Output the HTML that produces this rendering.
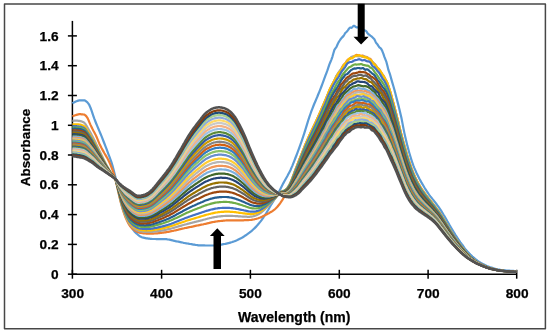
<!DOCTYPE html>
<html><head><meta charset="utf-8"><style>
html,body{margin:0;padding:0;background:#fff;}
svg{display:block;}
text{font-family:"Liberation Sans",Arial,sans-serif;font-weight:bold;fill:#000;stroke:#000;stroke-width:0.25px;}
</style></head><body>
<svg width="550" height="334" viewBox="0 0 550 334">
<rect x="0" y="0" width="550" height="334" fill="#fff"/>
<rect x="4.5" y="4.0" width="540.9" height="324.8" fill="none" stroke="#474747" stroke-width="1.5" stroke-linejoin="round"/>
<g stroke="#000" stroke-width="1.5">
<line x1="72.4" y1="20.9" x2="72.4" y2="274.2" />
<line x1="72.4" y1="274.2" x2="516.7" y2="274.2" />
<line x1="67.9" y1="274.2" x2="76.9" y2="274.2" />
<line x1="67.9" y1="244.4" x2="76.9" y2="244.4" />
<line x1="67.9" y1="214.6" x2="76.9" y2="214.6" />
<line x1="67.9" y1="184.8" x2="76.9" y2="184.8" />
<line x1="67.9" y1="155.0" x2="76.9" y2="155.0" />
<line x1="67.9" y1="125.3" x2="76.9" y2="125.3" />
<line x1="67.9" y1="95.5" x2="76.9" y2="95.5" />
<line x1="67.9" y1="65.7" x2="76.9" y2="65.7" />
<line x1="67.9" y1="35.9" x2="76.9" y2="35.9" />
<line x1="72.4" y1="269.8" x2="72.4" y2="278.7" />
<line x1="161.6" y1="269.8" x2="161.6" y2="278.7" />
<line x1="250.4" y1="269.8" x2="250.4" y2="278.7" />
<line x1="339.3" y1="269.8" x2="339.3" y2="278.7" />
<line x1="428.1" y1="269.8" x2="428.1" y2="278.7" />
<line x1="516.7" y1="269.8" x2="516.7" y2="278.7" />
</g>
<g fill="none" stroke-linejoin="round" stroke-linecap="butt">
<path d="M72.4,103.3 L73.4,102.7 L74.4,102.2 L75.4,101.7 L76.4,101.3 L77.4,100.9 L78.4,100.6 L79.4,100.3 L80.4,100.3 L81.4,100.3 L82.4,100.3 L83.4,100.3 L84.4,100.3 L85.4,100.8 L86.4,101.5 L87.4,102.4 L88.4,103.6 L89.4,105.2 L90.4,107.5 L91.4,110.1 L92.4,113.2 L93.4,116.1 L94.4,118.9 L95.4,121.5 L96.4,124.0 L97.4,126.4 L98.4,128.7 L99.4,131.1 L100.4,133.5 L101.4,135.9 L102.4,138.4 L103.4,141.0 L104.4,143.5 L105.4,146.1 L106.4,148.7 L107.4,151.4 L108.4,154.1 L109.4,156.7 L110.4,159.3 L111.4,162.1 L112.4,165.3 L113.4,169.0 L114.4,173.0 L115.4,176.9 L116.4,180.7 L117.4,184.4 L118.4,188.2 L119.4,191.8 L120.4,195.4 L121.4,199.0 L122.4,202.4 L123.4,205.8 L124.4,209.1 L125.4,212.3 L126.4,215.4 L127.4,218.4 L128.4,221.1 L129.4,223.3 L130.4,225.3 L131.4,227.1 L132.4,228.7 L133.4,230.1 L134.4,231.4 L135.4,232.4 L136.4,233.4 L137.4,234.3 L138.4,235.2 L139.4,236.0 L140.4,236.6 L141.4,237.1 L142.4,237.5 L143.4,237.7 L144.4,237.9 L145.4,238.1 L146.4,238.3 L147.4,238.4 L148.4,238.6 L149.4,238.7 L150.4,238.8 L151.4,238.9 L152.4,239.0 L153.4,239.0 L154.4,239.0 L155.4,239.0 L156.4,239.1 L157.4,239.1 L158.4,239.1 L159.4,239.1 L160.4,239.1 L161.4,239.1 L162.4,239.1 L163.4,239.1 L164.4,239.2 L165.4,239.2 L166.4,239.2 L167.4,239.4 L168.4,239.5 L169.4,239.7 L170.4,239.9 L171.4,240.1 L172.4,240.3 L173.4,240.6 L174.4,240.8 L175.4,241.1 L176.4,241.3 L177.4,241.5 L178.4,241.7 L179.4,241.9 L180.4,242.1 L181.4,242.3 L182.4,242.5 L183.4,242.8 L184.4,243.0 L185.4,243.2 L186.4,243.3 L187.4,243.5 L188.4,243.7 L189.4,243.9 L190.4,244.0 L191.4,244.2 L192.4,244.4 L193.4,244.6 L194.4,244.7 L195.4,244.9 L196.4,245.0 L197.4,245.1 L198.4,245.3 L199.4,245.3 L200.4,245.4 L201.4,245.4 L202.4,245.4 L203.4,245.4 L204.4,245.4 L205.4,245.5 L206.4,245.5 L207.4,245.5 L208.4,245.5 L209.4,245.5 L210.4,245.5 L211.4,245.5 L212.4,245.5 L213.4,245.5 L214.4,245.5 L215.4,245.4 L216.4,245.3 L217.4,245.2 L218.4,245.0 L219.4,244.9 L220.4,244.7 L221.4,244.6 L222.4,244.4 L223.4,244.2 L224.4,244.0 L225.4,243.9 L226.4,243.6 L227.4,243.4 L228.4,243.2 L229.4,242.9 L230.4,242.6 L231.4,242.3 L232.4,242.0 L233.4,241.6 L234.4,241.3 L235.4,240.9 L236.4,240.5 L237.4,240.1 L238.4,239.6 L239.4,239.1 L240.4,238.6 L241.4,238.0 L242.4,237.5 L243.4,236.8 L244.4,236.2 L245.4,235.5 L246.4,234.8 L247.4,234.1 L248.4,233.4 L249.4,232.7 L250.4,231.9 L251.4,231.1 L252.4,230.2 L253.4,229.3 L254.4,228.4 L255.4,227.4 L256.4,226.4 L257.4,225.2 L258.4,224.1 L259.4,222.8 L260.4,221.6 L261.4,220.3 L262.4,218.9 L263.4,217.5 L264.4,216.0 L265.4,214.5 L266.4,212.9 L267.4,211.2 L268.4,209.5 L269.4,207.7 L270.4,206.0 L271.4,204.3 L272.4,202.7 L273.4,201.1 L274.4,199.5 L275.4,197.9 L276.4,196.2 L277.4,194.5 L278.4,192.8 L279.4,190.9 L280.4,189.0 L281.4,187.0 L282.4,185.1 L283.4,183.1 L284.4,181.3 L285.4,179.5 L286.4,177.7 L287.4,176.0 L288.4,174.1 L289.4,172.2 L290.4,170.2 L291.4,167.9 L292.4,165.6 L293.4,163.1 L294.4,160.6 L295.4,158.0 L296.4,155.5 L297.4,152.9 L298.4,150.2 L299.4,147.5 L300.4,144.7 L301.4,141.9 L302.4,138.9 L303.4,135.9 L304.4,132.9 L305.4,129.7 L306.4,126.4 L307.4,123.1 L308.4,119.8 L309.4,116.8 L310.4,114.0 L311.4,111.2 L312.4,108.6 L313.4,106.0 L314.4,103.5 L315.4,101.2 L316.4,98.8 L317.4,96.5 L318.4,94.0 L319.4,91.6 L320.4,89.1 L321.4,86.5 L322.4,83.9 L323.4,81.2 L324.4,78.4 L325.4,75.7 L326.4,73.1 L327.4,70.4 L328.4,67.4 L329.4,64.4 L330.4,62.0 L331.4,59.6 L332.4,56.8 L333.4,53.2 L334.4,49.9 L335.4,48.4 L336.4,47.1 L337.4,44.8 L338.4,42.6 L339.4,41.0 L340.4,39.5 L341.4,38.2 L342.4,37.1 L343.4,36.1 L344.4,34.5 L345.4,32.8 L346.4,32.0 L347.4,31.0 L348.4,29.5 L349.4,28.1 L350.4,27.5 L351.4,27.8 L352.4,27.1 L353.4,25.9 L354.4,25.9 L355.4,26.8 L356.4,27.4 L357.4,27.4 L358.4,27.3 L359.4,26.8 L360.4,27.0 L361.4,28.3 L362.4,29.1 L363.4,29.7 L364.4,30.4 L365.4,30.6 L366.4,31.3 L367.4,33.1 L368.4,34.2 L369.4,34.8 L370.4,35.6 L371.4,36.3 L372.4,37.3 L373.4,38.3 L374.4,39.3 L375.4,41.4 L376.4,43.3 L377.4,44.3 L378.4,45.9 L379.4,47.4 L380.4,48.1 L381.4,49.2 L382.4,51.3 L383.4,53.8 L384.4,56.9 L385.4,59.4 L386.4,61.9 L387.4,65.8 L388.4,69.9 L389.4,72.7 L390.4,75.7 L391.4,79.4 L392.4,82.9 L393.4,86.2 L394.4,89.7 L395.4,93.6 L396.4,97.6 L397.4,101.4 L398.4,105.3 L399.4,109.2 L400.4,113.4 L401.4,117.8 L402.4,122.9 L403.4,128.1 L404.4,133.1 L405.4,137.6 L406.4,141.8 L407.4,145.9 L408.4,149.6 L409.4,153.2 L410.4,156.6 L411.4,159.8 L412.4,162.8 L413.4,165.6 L414.4,168.1 L415.4,170.4 L416.4,172.7 L417.4,174.8 L418.4,176.8 L419.4,178.8 L420.4,180.6 L421.4,182.4 L422.4,184.1 L423.4,185.8 L424.4,187.5 L425.4,189.1 L426.4,190.7 L427.4,192.2 L428.4,193.7 L429.4,195.1 L430.4,196.4 L431.4,197.6 L432.4,198.9 L433.4,200.1 L434.4,201.4 L435.4,202.7 L436.4,204.0 L437.4,205.3 L438.4,206.7 L439.4,208.1 L440.4,209.6 L441.4,211.2 L442.4,212.8 L443.4,214.5 L444.4,216.1 L445.4,217.8 L446.4,219.5 L447.4,221.3 L448.4,223.0 L449.4,224.8 L450.4,226.5 L451.4,228.2 L452.4,229.9 L453.4,231.5 L454.4,233.2 L455.4,234.8 L456.4,236.3 L457.4,237.9 L458.4,239.4 L459.4,240.8 L460.4,242.3 L461.4,243.7 L462.4,245.0 L463.4,246.4 L464.4,247.8 L465.4,249.1 L466.4,250.3 L467.4,251.4 L468.4,252.5 L469.4,253.6 L470.4,254.6 L471.4,255.5 L472.4,256.5 L473.4,257.4 L474.4,258.2 L475.4,259.1 L476.4,259.9 L477.4,260.7 L478.4,261.4 L479.4,262.0 L480.4,262.6 L481.4,263.2 L482.4,263.8 L483.4,264.3 L484.4,264.8 L485.4,265.3 L486.4,265.8 L487.4,266.2 L488.4,266.6 L489.4,267.0 L490.4,267.3 L491.4,267.6 L492.4,267.9 L493.4,268.2 L494.4,268.5 L495.4,268.8 L496.4,269.0 L497.4,269.3 L498.4,269.5 L499.4,269.7 L500.4,269.9 L501.4,270.0 L502.4,270.1 L503.4,270.2 L504.4,270.3 L505.4,270.4 L506.4,270.5 L507.4,270.6 L508.4,270.7 L509.4,270.7 L510.4,270.8 L511.4,270.9 L512.4,270.9 L513.4,270.9 L514.4,271.0 L515.4,271.0 L516.4,271.0 L516.5,271.0" stroke="#5B9BD5" stroke-width="2.2"/>
<path d="M72.4,116.3 L73.4,115.9 L74.4,115.5 L75.4,115.2 L76.4,114.9 L77.4,114.6 L78.4,114.4 L79.4,114.2 L80.4,114.2 L81.4,114.3 L82.4,114.3 L83.4,114.5 L84.4,114.7 L85.4,115.4 L86.4,116.4 L87.4,117.8 L88.4,119.9 L89.4,122.3 L90.4,124.6 L91.4,126.7 L92.4,128.8 L93.4,130.7 L94.4,132.5 L95.4,134.4 L96.4,136.5 L97.4,138.9 L98.4,141.3 L99.4,143.7 L100.4,145.8 L101.4,147.8 L102.4,149.6 L103.4,151.4 L104.4,153.2 L105.4,154.9 L106.4,156.6 L107.4,158.3 L108.4,160.2 L109.4,162.3 L110.4,164.6 L111.4,167.1 L112.4,169.7 L113.4,172.6 L114.4,175.8 L115.4,179.4 L116.4,183.5 L117.4,187.9 L118.4,192.2 L119.4,196.6 L120.4,200.9 L121.4,204.8 L122.4,208.3 L123.4,211.5 L124.4,214.4 L125.4,217.1 L126.4,219.4 L127.4,221.6 L128.4,223.5 L129.4,225.2 L130.4,226.5 L131.4,227.6 L132.4,228.6 L133.4,229.4 L134.4,230.1 L135.4,230.7 L136.4,231.3 L137.4,231.9 L138.4,232.3 L139.4,232.7 L140.4,232.9 L141.4,233.0 L142.4,233.2 L143.4,233.3 L144.4,233.4 L145.4,233.5 L146.4,233.6 L147.4,233.6 L148.4,233.7 L149.4,233.7 L150.4,233.7 L151.4,233.7 L152.4,233.6 L153.4,233.6 L154.4,233.5 L155.4,233.4 L156.4,233.3 L157.4,233.3 L158.4,233.2 L159.4,233.1 L160.4,233.0 L161.4,232.9 L162.4,232.7 L163.4,232.6 L164.4,232.4 L165.4,232.3 L166.4,232.1 L167.4,232.0 L168.4,231.8 L169.4,231.6 L170.4,231.4 L171.4,231.2 L172.4,231.0 L173.4,230.8 L174.4,230.5 L175.4,230.3 L176.4,230.1 L177.4,229.8 L178.4,229.6 L179.4,229.3 L180.4,229.1 L181.4,228.9 L182.4,228.7 L183.4,228.5 L184.4,228.2 L185.4,228.0 L186.4,227.8 L187.4,227.6 L188.4,227.4 L189.4,227.2 L190.4,227.0 L191.4,226.8 L192.4,226.6 L193.4,226.4 L194.4,226.1 L195.4,225.9 L196.4,225.7 L197.4,225.5 L198.4,225.3 L199.4,225.1 L200.4,224.9 L201.4,224.7 L202.4,224.5 L203.4,224.3 L204.4,224.0 L205.4,223.8 L206.4,223.6 L207.4,223.3 L208.4,223.1 L209.4,222.9 L210.4,222.6 L211.4,222.4 L212.4,222.2 L213.4,222.0 L214.4,221.8 L215.4,221.6 L216.4,221.5 L217.4,221.3 L218.4,221.2 L219.4,221.1 L220.4,221.0 L221.4,220.9 L222.4,220.8 L223.4,220.7 L224.4,220.6 L225.4,220.5 L226.4,220.4 L227.4,220.4 L228.4,220.3 L229.4,220.3 L230.4,220.3 L231.4,220.3 L232.4,220.3 L233.4,220.3 L234.4,220.3 L235.4,220.3 L236.4,220.3 L237.4,220.3 L238.4,220.3 L239.4,220.3 L240.4,220.3 L241.4,220.3 L242.4,220.3 L243.4,220.3 L244.4,220.2 L245.4,220.2 L246.4,220.2 L247.4,220.1 L248.4,220.1 L249.4,220.0 L250.4,220.0 L251.4,219.9 L252.4,219.7 L253.4,219.5 L254.4,219.3 L255.4,219.0 L256.4,218.8 L257.4,218.5 L258.4,218.2 L259.4,217.8 L260.4,217.5 L261.4,217.0 L262.4,216.6 L263.4,216.1 L264.4,215.6 L265.4,215.1 L266.4,214.6 L267.4,214.0 L268.4,213.4 L269.4,212.9 L270.4,212.3 L271.4,211.7 L272.4,211.1 L273.4,210.4 L274.4,209.7 L275.4,208.8 L276.4,207.8 L277.4,206.7 L278.4,205.5 L279.4,204.3 L280.4,202.9 L281.4,201.4 L282.4,199.9 L283.4,198.2 L284.4,196.5 L285.4,194.7 L286.4,192.7 L287.4,190.6 L288.4,188.3 L289.4,186.0 L290.4,183.5 L291.4,180.9 L292.4,178.2 L293.4,175.4 L294.4,172.6 L295.4,169.9 L296.4,167.3 L297.4,164.7 L298.4,162.1 L299.4,159.5 L300.4,157.0 L301.4,154.4 L302.4,151.9 L303.4,149.4 L304.4,146.9 L305.4,144.5 L306.4,142.2 L307.4,139.9 L308.4,137.6 L309.4,135.3 L310.4,133.1 L311.4,131.0 L312.4,128.9 L313.4,126.9 L314.4,124.8 L315.4,122.6 L316.4,120.5 L317.4,118.3 L318.4,116.1 L319.4,113.8 L320.4,111.6 L321.4,109.3 L322.4,107.0 L323.4,104.6 L324.4,102.3 L325.4,100.0 L326.4,97.6 L327.4,95.3 L328.4,92.8 L329.4,90.2 L330.4,88.2 L331.4,86.3 L332.4,84.2 L333.4,82.4 L334.4,80.6 L335.4,78.6 L336.4,76.4 L337.4,74.6 L338.4,73.6 L339.4,72.4 L340.4,70.5 L341.4,68.7 L342.4,66.7 L343.4,65.0 L344.4,64.2 L345.4,63.2 L346.4,61.5 L347.4,60.1 L348.4,59.2 L349.4,58.8 L350.4,58.3 L351.4,57.3 L352.4,56.9 L353.4,56.8 L354.4,56.1 L355.4,55.4 L356.4,54.9 L357.4,55.0 L358.4,55.4 L359.4,55.6 L360.4,55.8 L361.4,55.9 L362.4,55.6 L363.4,55.9 L364.4,56.5 L365.4,56.8 L366.4,56.9 L367.4,57.3 L368.4,58.2 L369.4,58.6 L370.4,58.9 L371.4,60.2 L372.4,62.0 L373.4,63.4 L374.4,63.8 L375.4,64.8 L376.4,66.6 L377.4,67.8 L378.4,68.6 L379.4,69.6 L380.4,71.3 L381.4,73.2 L382.4,74.4 L383.4,75.5 L384.4,77.3 L385.4,79.3 L386.4,81.0 L387.4,83.3 L388.4,86.1 L389.4,89.0 L390.4,92.3 L391.4,96.1 L392.4,99.7 L393.4,103.1 L394.4,106.7 L395.4,110.6 L396.4,114.6 L397.4,118.6 L398.4,122.6 L399.4,126.7 L400.4,130.7 L401.4,134.5 L402.4,138.3 L403.4,142.0 L404.4,145.6 L405.4,149.2 L406.4,152.7 L407.4,156.1 L408.4,159.3 L409.4,162.3 L410.4,165.3 L411.4,168.1 L412.4,170.7 L413.4,173.2 L414.4,175.5 L415.4,177.7 L416.4,179.8 L417.4,181.8 L418.4,183.6 L419.4,185.3 L420.4,187.0 L421.4,188.6 L422.4,190.1 L423.4,191.5 L424.4,192.9 L425.4,194.2 L426.4,195.6 L427.4,196.9 L428.4,198.2 L429.4,199.4 L430.4,200.7 L431.4,202.0 L432.4,203.2 L433.4,204.5 L434.4,205.8 L435.4,207.1 L436.4,208.4 L437.4,209.8 L438.4,211.1 L439.4,212.6 L440.4,214.1 L441.4,215.7 L442.4,217.3 L443.4,218.9 L444.4,220.5 L445.4,222.2 L446.4,223.8 L447.4,225.5 L448.4,227.2 L449.4,228.9 L450.4,230.5 L451.4,232.1 L452.4,233.7 L453.4,235.2 L454.4,236.7 L455.4,238.2 L456.4,239.6 L457.4,241.1 L458.4,242.5 L459.4,243.8 L460.4,245.2 L461.4,246.5 L462.4,247.7 L463.4,249.0 L464.4,250.3 L465.4,251.5 L466.4,252.7 L467.4,253.8 L468.4,254.9 L469.4,255.9 L470.4,256.8 L471.4,257.7 L472.4,258.6 L473.4,259.4 L474.4,260.2 L475.4,261.0 L476.4,261.7 L477.4,262.3 L478.4,263.0 L479.4,263.5 L480.4,264.1 L481.4,264.6 L482.4,265.1 L483.4,265.5 L484.4,266.0 L485.4,266.4 L486.4,266.8 L487.4,267.2 L488.4,267.6 L489.4,267.9 L490.4,268.2 L491.4,268.5 L492.4,268.8 L493.4,269.1 L494.4,269.3 L495.4,269.6 L496.4,269.8 L497.4,270.0 L498.4,270.2 L499.4,270.4 L500.4,270.6 L501.4,270.7 L502.4,270.8 L503.4,270.9 L504.4,271.0 L505.4,271.1 L506.4,271.2 L507.4,271.2 L508.4,271.3 L509.4,271.4 L510.4,271.4 L511.4,271.5 L512.4,271.5 L513.4,271.6 L514.4,271.6 L515.4,271.6 L516.4,271.6 L516.5,271.6" stroke="#ED7D31" stroke-width="2.2"/>
<path d="M72.4,120.9 L73.4,120.8 L74.4,120.7 L75.4,120.7 L76.4,120.7 L77.4,120.7 L78.4,120.8 L79.4,120.9 L80.4,121.1 L81.4,121.3 L82.4,121.7 L83.4,122.2 L84.4,122.9 L85.4,124.0 L86.4,125.6 L87.4,127.3 L88.4,129.0 L89.4,130.8 L90.4,132.6 L91.4,134.4 L92.4,136.3 L93.4,138.3 L94.4,140.3 L95.4,142.3 L96.4,144.4 L97.4,146.4 L98.4,148.5 L99.4,150.6 L100.4,152.7 L101.4,154.8 L102.4,156.8 L103.4,158.9 L104.4,160.9 L105.4,162.9 L106.4,164.8 L107.4,166.6 L108.4,168.4 L109.4,170.2 L110.4,171.8 L111.4,173.4 L112.4,174.6 L113.4,175.7 L114.4,177.1 L115.4,179.3 L116.4,182.5 L117.4,186.8 L118.4,191.4 L119.4,195.8 L120.4,200.0 L121.4,203.9 L122.4,207.4 L123.4,210.5 L124.4,213.3 L125.4,215.9 L126.4,218.1 L127.4,220.2 L128.4,222.1 L129.4,223.8 L130.4,225.0 L131.4,226.1 L132.4,227.1 L133.4,227.9 L134.4,228.6 L135.4,229.3 L136.4,229.9 L137.4,230.4 L138.4,230.8 L139.4,231.2 L140.4,231.3 L141.4,231.5 L142.4,231.6 L143.4,231.7 L144.4,231.8 L145.4,231.9 L146.4,231.9 L147.4,232.0 L148.4,232.0 L149.4,232.0 L150.4,232.0 L151.4,231.9 L152.4,231.8 L153.4,231.7 L154.4,231.6 L155.4,231.5 L156.4,231.3 L157.4,231.2 L158.4,231.1 L159.4,230.9 L160.4,230.8 L161.4,230.6 L162.4,230.4 L163.4,230.3 L164.4,230.1 L165.4,229.9 L166.4,229.7 L167.4,229.4 L168.4,229.2 L169.4,229.0 L170.4,228.8 L171.4,228.5 L172.4,228.2 L173.4,227.9 L174.4,227.6 L175.4,227.3 L176.4,227.0 L177.4,226.7 L178.4,226.4 L179.4,226.1 L180.4,225.9 L181.4,225.6 L182.4,225.3 L183.4,225.0 L184.4,224.7 L185.4,224.5 L186.4,224.2 L187.4,223.9 L188.4,223.6 L189.4,223.4 L190.4,223.1 L191.4,222.8 L192.4,222.6 L193.4,222.3 L194.4,222.1 L195.4,221.8 L196.4,221.6 L197.4,221.3 L198.4,221.1 L199.4,220.8 L200.4,220.6 L201.4,220.3 L202.4,220.1 L203.4,219.8 L204.4,219.5 L205.4,219.3 L206.4,219.0 L207.4,218.7 L208.4,218.5 L209.4,218.2 L210.4,218.0 L211.4,217.8 L212.4,217.5 L213.4,217.3 L214.4,217.1 L215.4,217.0 L216.4,216.8 L217.4,216.6 L218.4,216.5 L219.4,216.4 L220.4,216.3 L221.4,216.2 L222.4,216.1 L223.4,216.0 L224.4,216.0 L225.4,215.9 L226.4,215.8 L227.4,215.8 L228.4,215.8 L229.4,215.8 L230.4,215.8 L231.4,215.9 L232.4,215.9 L233.4,216.0 L234.4,216.0 L235.4,216.1 L236.4,216.1 L237.4,216.2 L238.4,216.3 L239.4,216.4 L240.4,216.4 L241.4,216.5 L242.4,216.6 L243.4,216.6 L244.4,216.7 L245.4,216.7 L246.4,216.7 L247.4,216.8 L248.4,216.8 L249.4,216.8 L250.4,216.7 L251.4,216.6 L252.4,216.5 L253.4,216.2 L254.4,215.9 L255.4,215.6 L256.4,215.2 L257.4,214.7 L258.4,214.3 L259.4,213.7 L260.4,213.0 L261.4,212.3 L262.4,211.5 L263.4,210.6 L264.4,209.7 L265.4,208.7 L266.4,207.7 L267.4,206.7 L268.4,205.6 L269.4,204.5 L270.4,203.4 L271.4,202.4 L272.4,201.4 L273.4,200.3 L274.4,199.3 L275.4,198.1 L276.4,196.9 L277.4,195.7 L278.4,194.5 L279.4,193.3 L280.4,192.3 L281.4,191.7 L282.4,191.2 L283.4,190.8 L284.4,190.4 L285.4,189.9 L286.4,189.1 L287.4,187.9 L288.4,186.5 L289.4,184.7 L290.4,182.7 L291.4,180.5 L292.4,177.9 L293.4,175.3 L294.4,172.6 L295.4,170.0 L296.4,167.4 L297.4,164.8 L298.4,162.2 L299.4,159.7 L300.4,157.1 L301.4,154.6 L302.4,152.1 L303.4,149.6 L304.4,147.1 L305.4,144.7 L306.4,142.4 L307.4,140.0 L308.4,137.8 L309.4,135.5 L310.4,133.3 L311.4,131.2 L312.4,129.1 L313.4,127.1 L314.4,125.0 L315.4,122.9 L316.4,120.7 L317.4,118.5 L318.4,116.3 L319.4,114.1 L320.4,111.9 L321.4,109.6 L322.4,107.3 L323.4,105.0 L324.4,102.8 L325.4,100.5 L326.4,98.0 L327.4,95.3 L328.4,92.9 L329.4,90.7 L330.4,88.5 L331.4,86.3 L332.4,84.2 L333.4,82.5 L334.4,80.5 L335.4,78.0 L336.4,75.8 L337.4,74.3 L338.4,72.6 L339.4,71.2 L340.4,70.1 L341.4,68.7 L342.4,67.0 L343.4,65.6 L344.4,64.5 L345.4,63.5 L346.4,62.2 L347.4,61.0 L348.4,60.0 L349.4,59.1 L350.4,58.2 L351.4,57.1 L352.4,56.5 L353.4,56.5 L354.4,56.3 L355.4,56.2 L356.4,56.2 L357.4,56.1 L358.4,56.3 L359.4,56.3 L360.4,56.0 L361.4,56.4 L362.4,56.9 L363.4,56.6 L364.4,56.3 L365.4,57.0 L366.4,57.4 L367.4,57.6 L368.4,58.4 L369.4,59.1 L370.4,60.0 L371.4,61.0 L372.4,61.9 L373.4,62.9 L374.4,63.9 L375.4,65.1 L376.4,66.3 L377.4,67.9 L378.4,69.6 L379.4,70.6 L380.4,71.5 L381.4,72.9 L382.4,74.4 L383.4,75.9 L384.4,77.6 L385.4,79.3 L386.4,81.1 L387.4,83.3 L388.4,86.4 L389.4,89.6 L390.4,92.7 L391.4,96.1 L392.4,99.8 L393.4,103.5 L394.4,107.2 L395.4,110.9 L396.4,114.8 L397.4,118.7 L398.4,122.8 L399.4,126.9 L400.4,130.9 L401.4,134.7 L402.4,138.5 L403.4,142.2 L404.4,145.8 L405.4,149.4 L406.4,152.9 L407.4,156.2 L408.4,159.4 L409.4,162.5 L410.4,165.4 L411.4,168.3 L412.4,170.9 L413.4,173.3 L414.4,175.7 L415.4,177.9 L416.4,179.9 L417.4,181.9 L418.4,183.7 L419.4,185.4 L420.4,187.1 L421.4,188.7 L422.4,190.2 L423.4,191.6 L424.4,193.0 L425.4,194.3 L426.4,195.6 L427.4,197.0 L428.4,198.2 L429.4,199.5 L430.4,200.8 L431.4,202.0 L432.4,203.3 L433.4,204.6 L434.4,205.9 L435.4,207.2 L436.4,208.5 L437.4,209.8 L438.4,211.2 L439.4,212.6 L440.4,214.2 L441.4,215.7 L442.4,217.3 L443.4,218.9 L444.4,220.6 L445.4,222.2 L446.4,223.9 L447.4,225.6 L448.4,227.3 L449.4,228.9 L450.4,230.6 L451.4,232.2 L452.4,233.7 L453.4,235.3 L454.4,236.8 L455.4,238.2 L456.4,239.7 L457.4,241.1 L458.4,242.5 L459.4,243.8 L460.4,245.2 L461.4,246.5 L462.4,247.8 L463.4,249.0 L464.4,250.3 L465.4,251.5 L466.4,252.7 L467.4,253.9 L468.4,254.9 L469.4,255.9 L470.4,256.8 L471.4,257.7 L472.4,258.6 L473.4,259.4 L474.4,260.2 L475.4,261.0 L476.4,261.7 L477.4,262.3 L478.4,263.0 L479.4,263.5 L480.4,264.1 L481.4,264.6 L482.4,265.1 L483.4,265.6 L484.4,266.0 L485.4,266.4 L486.4,266.8 L487.4,267.2 L488.4,267.6 L489.4,267.9 L490.4,268.2 L491.4,268.5 L492.4,268.8 L493.4,269.1 L494.4,269.3 L495.4,269.6 L496.4,269.8 L497.4,270.0 L498.4,270.2 L499.4,270.4 L500.4,270.6 L501.4,270.7 L502.4,270.8 L503.4,270.9 L504.4,271.0 L505.4,271.1 L506.4,271.2 L507.4,271.2 L508.4,271.3 L509.4,271.4 L510.4,271.4 L511.4,271.5 L512.4,271.5 L513.4,271.6 L514.4,271.6 L515.4,271.6 L516.4,271.6 L516.5,271.6" stroke="#A5A5A5" stroke-width="2.2"/>
<path d="M72.4,124.4 L73.4,124.3 L74.4,124.3 L75.4,124.3 L76.4,124.3 L77.4,124.3 L78.4,124.4 L79.4,124.5 L80.4,124.7 L81.4,124.9 L82.4,125.3 L83.4,125.8 L84.4,126.4 L85.4,127.4 L86.4,128.9 L87.4,130.6 L88.4,132.1 L89.4,133.8 L90.4,135.5 L91.4,137.2 L92.4,139.0 L93.4,140.8 L94.4,142.7 L95.4,144.6 L96.4,146.5 L97.4,148.5 L98.4,150.4 L99.4,152.4 L100.4,154.3 L101.4,156.2 L102.4,158.2 L103.4,160.1 L104.4,161.9 L105.4,163.8 L106.4,165.5 L107.4,167.3 L108.4,169.0 L109.4,170.6 L110.4,172.2 L111.4,173.6 L112.4,174.8 L113.4,175.8 L114.4,177.2 L115.4,179.2 L116.4,182.4 L117.4,186.5 L118.4,190.9 L119.4,195.1 L120.4,199.3 L121.4,203.1 L122.4,206.5 L123.4,209.6 L124.4,212.3 L125.4,214.8 L126.4,217.0 L127.4,219.0 L128.4,220.9 L129.4,222.5 L130.4,223.7 L131.4,224.8 L132.4,225.7 L133.4,226.6 L134.4,227.3 L135.4,227.9 L136.4,228.5 L137.4,229.0 L138.4,229.5 L139.4,229.8 L140.4,229.9 L141.4,230.1 L142.4,230.2 L143.4,230.3 L144.4,230.3 L145.4,230.4 L146.4,230.4 L147.4,230.5 L148.4,230.4 L149.4,230.4 L150.4,230.4 L151.4,230.3 L152.4,230.1 L153.4,230.0 L154.4,229.9 L155.4,229.7 L156.4,229.5 L157.4,229.3 L158.4,229.1 L159.4,228.9 L160.4,228.8 L161.4,228.6 L162.4,228.3 L163.4,228.1 L164.4,227.9 L165.4,227.6 L166.4,227.4 L167.4,227.1 L168.4,226.9 L169.4,226.6 L170.4,226.3 L171.4,226.0 L172.4,225.7 L173.4,225.3 L174.4,225.0 L175.4,224.6 L176.4,224.3 L177.4,223.9 L178.4,223.6 L179.4,223.2 L180.4,222.9 L181.4,222.5 L182.4,222.2 L183.4,221.9 L184.4,221.5 L185.4,221.2 L186.4,220.8 L187.4,220.5 L188.4,220.2 L189.4,219.9 L190.4,219.6 L191.4,219.3 L192.4,219.0 L193.4,218.7 L194.4,218.4 L195.4,218.1 L196.4,217.8 L197.4,217.5 L198.4,217.2 L199.4,216.9 L200.4,216.6 L201.4,216.3 L202.4,216.0 L203.4,215.7 L204.4,215.4 L205.4,215.1 L206.4,214.8 L207.4,214.5 L208.4,214.3 L209.4,214.0 L210.4,213.8 L211.4,213.5 L212.4,213.3 L213.4,213.1 L214.4,212.9 L215.4,212.7 L216.4,212.5 L217.4,212.4 L218.4,212.2 L219.4,212.1 L220.4,212.0 L221.4,211.9 L222.4,211.9 L223.4,211.8 L224.4,211.7 L225.4,211.7 L226.4,211.7 L227.4,211.6 L228.4,211.7 L229.4,211.7 L230.4,211.8 L231.4,211.8 L232.4,211.9 L233.4,212.0 L234.4,212.1 L235.4,212.2 L236.4,212.3 L237.4,212.5 L238.4,212.6 L239.4,212.8 L240.4,212.9 L241.4,213.0 L242.4,213.2 L243.4,213.3 L244.4,213.4 L245.4,213.6 L246.4,213.7 L247.4,213.8 L248.4,213.9 L249.4,214.0 L250.4,214.1 L251.4,214.1 L252.4,214.0 L253.4,213.9 L254.4,213.7 L255.4,213.4 L256.4,213.1 L257.4,212.8 L258.4,212.4 L259.4,211.9 L260.4,211.4 L261.4,210.7 L262.4,210.0 L263.4,209.3 L264.4,208.5 L265.4,207.6 L266.4,206.7 L267.4,205.8 L268.4,204.8 L269.4,203.8 L270.4,202.8 L271.4,201.8 L272.4,200.9 L273.4,200.0 L274.4,199.0 L275.4,197.9 L276.4,196.8 L277.4,195.6 L278.4,194.5 L279.4,193.3 L280.4,192.4 L281.4,191.7 L282.4,191.2 L283.4,190.9 L284.4,190.4 L285.4,189.9 L286.4,189.1 L287.4,187.9 L288.4,186.5 L289.4,184.7 L290.4,182.7 L291.4,180.5 L292.4,177.9 L293.4,175.3 L294.4,172.6 L295.4,170.0 L296.4,167.4 L297.4,164.8 L298.4,162.2 L299.4,159.7 L300.4,157.1 L301.4,154.6 L302.4,152.1 L303.4,149.6 L304.4,147.1 L305.4,144.7 L306.4,142.4 L307.4,140.0 L308.4,137.8 L309.4,135.5 L310.4,133.3 L311.4,131.2 L312.4,129.1 L313.4,127.1 L314.4,125.0 L315.4,122.9 L316.4,120.7 L317.4,118.5 L318.4,116.3 L319.4,114.1 L320.4,111.8 L321.4,109.6 L322.4,107.4 L323.4,105.0 L324.4,102.6 L325.4,100.4 L326.4,98.0 L327.4,95.4 L328.4,92.5 L329.4,90.1 L330.4,88.1 L331.4,86.0 L332.4,84.2 L333.4,82.5 L334.4,80.5 L335.4,78.7 L336.4,77.0 L337.4,75.1 L338.4,73.3 L339.4,72.1 L340.4,71.2 L341.4,69.5 L342.4,67.6 L343.4,65.9 L344.4,64.4 L345.4,63.3 L346.4,62.3 L347.4,61.2 L348.4,59.6 L349.4,58.3 L350.4,58.1 L351.4,58.4 L352.4,58.3 L353.4,57.3 L354.4,56.3 L355.4,55.9 L356.4,55.7 L357.4,55.6 L358.4,55.3 L359.4,55.2 L360.4,55.7 L361.4,56.0 L362.4,56.1 L363.4,56.7 L364.4,57.3 L365.4,57.2 L366.4,57.4 L367.4,57.9 L368.4,58.4 L369.4,59.2 L370.4,59.9 L371.4,60.6 L372.4,62.1 L373.4,63.4 L374.4,64.3 L375.4,65.5 L376.4,66.5 L377.4,67.5 L378.4,69.0 L379.4,70.1 L380.4,71.2 L381.4,72.7 L382.4,74.3 L383.4,76.0 L384.4,77.7 L385.4,79.6 L386.4,81.3 L387.4,83.1 L388.4,85.9 L389.4,89.0 L390.4,92.1 L391.4,95.5 L392.4,99.4 L393.4,103.3 L394.4,107.1 L395.4,111.0 L396.4,114.8 L397.4,118.7 L398.4,122.8 L399.4,126.9 L400.4,130.9 L401.4,134.7 L402.4,138.5 L403.4,142.2 L404.4,145.8 L405.4,149.4 L406.4,152.9 L407.4,156.2 L408.4,159.4 L409.4,162.5 L410.4,165.4 L411.4,168.3 L412.4,170.9 L413.4,173.3 L414.4,175.7 L415.4,177.9 L416.4,179.9 L417.4,181.9 L418.4,183.7 L419.4,185.4 L420.4,187.1 L421.4,188.7 L422.4,190.2 L423.4,191.6 L424.4,193.0 L425.4,194.3 L426.4,195.6 L427.4,197.0 L428.4,198.2 L429.4,199.5 L430.4,200.8 L431.4,202.0 L432.4,203.3 L433.4,204.6 L434.4,205.9 L435.4,207.2 L436.4,208.5 L437.4,209.8 L438.4,211.2 L439.4,212.6 L440.4,214.2 L441.4,215.7 L442.4,217.3 L443.4,218.9 L444.4,220.6 L445.4,222.2 L446.4,223.9 L447.4,225.6 L448.4,227.3 L449.4,228.9 L450.4,230.6 L451.4,232.2 L452.4,233.7 L453.4,235.3 L454.4,236.8 L455.4,238.2 L456.4,239.7 L457.4,241.1 L458.4,242.5 L459.4,243.8 L460.4,245.2 L461.4,246.5 L462.4,247.8 L463.4,249.0 L464.4,250.3 L465.4,251.5 L466.4,252.7 L467.4,253.9 L468.4,254.9 L469.4,255.9 L470.4,256.8 L471.4,257.7 L472.4,258.6 L473.4,259.4 L474.4,260.2 L475.4,261.0 L476.4,261.7 L477.4,262.3 L478.4,263.0 L479.4,263.5 L480.4,264.1 L481.4,264.6 L482.4,265.1 L483.4,265.6 L484.4,266.0 L485.4,266.4 L486.4,266.8 L487.4,267.2 L488.4,267.6 L489.4,267.9 L490.4,268.2 L491.4,268.5 L492.4,268.8 L493.4,269.1 L494.4,269.3 L495.4,269.6 L496.4,269.8 L497.4,270.0 L498.4,270.2 L499.4,270.4 L500.4,270.6 L501.4,270.7 L502.4,270.8 L503.4,270.9 L504.4,271.0 L505.4,271.1 L506.4,271.2 L507.4,271.2 L508.4,271.3 L509.4,271.4 L510.4,271.4 L511.4,271.5 L512.4,271.5 L513.4,271.6 L514.4,271.6 L515.4,271.6 L516.4,271.6 L516.5,271.6" stroke="#FFC000" stroke-width="2.2"/>
<path d="M72.4,126.4 L73.4,126.3 L74.4,126.2 L75.4,126.2 L76.4,126.3 L77.4,126.3 L78.4,126.4 L79.4,126.5 L80.4,126.7 L81.4,126.9 L82.4,127.3 L83.4,127.7 L84.4,128.4 L85.4,129.3 L86.4,130.8 L87.4,132.4 L88.4,133.9 L89.4,135.5 L90.4,137.1 L91.4,138.7 L92.4,140.4 L93.4,142.2 L94.4,144.0 L95.4,145.9 L96.4,147.7 L97.4,149.6 L98.4,151.5 L99.4,153.3 L100.4,155.2 L101.4,157.1 L102.4,158.9 L103.4,160.7 L104.4,162.5 L105.4,164.3 L106.4,166.0 L107.4,167.7 L108.4,169.3 L109.4,170.9 L110.4,172.4 L111.4,173.8 L112.4,174.9 L113.4,175.9 L114.4,177.3 L115.4,179.2 L116.4,182.2 L117.4,186.2 L118.4,190.5 L119.4,194.7 L120.4,198.6 L121.4,202.4 L122.4,205.7 L123.4,208.7 L124.4,211.4 L125.4,213.8 L126.4,215.9 L127.4,217.9 L128.4,219.7 L129.4,221.3 L130.4,222.5 L131.4,223.5 L132.4,224.5 L133.4,225.3 L134.4,226.0 L135.4,226.7 L136.4,227.2 L137.4,227.8 L138.4,228.2 L139.4,228.5 L140.4,228.6 L141.4,228.7 L142.4,228.8 L143.4,228.9 L144.4,229.0 L145.4,229.0 L146.4,229.1 L147.4,229.0 L148.4,229.0 L149.4,228.9 L150.4,228.9 L151.4,228.7 L152.4,228.6 L153.4,228.4 L154.4,228.2 L155.4,228.0 L156.4,227.8 L157.4,227.6 L158.4,227.3 L159.4,227.1 L160.4,226.9 L161.4,226.6 L162.4,226.4 L163.4,226.1 L164.4,225.9 L165.4,225.6 L166.4,225.3 L167.4,225.0 L168.4,224.7 L169.4,224.4 L170.4,224.0 L171.4,223.7 L172.4,223.3 L173.4,222.9 L174.4,222.5 L175.4,222.1 L176.4,221.7 L177.4,221.3 L178.4,220.9 L179.4,220.5 L180.4,220.1 L181.4,219.7 L182.4,219.3 L183.4,218.9 L184.4,218.5 L185.4,218.1 L186.4,217.7 L187.4,217.4 L188.4,217.0 L189.4,216.6 L190.4,216.3 L191.4,215.9 L192.4,215.6 L193.4,215.2 L194.4,214.9 L195.4,214.6 L196.4,214.2 L197.4,213.9 L198.4,213.6 L199.4,213.2 L200.4,212.9 L201.4,212.6 L202.4,212.2 L203.4,211.9 L204.4,211.6 L205.4,211.2 L206.4,210.9 L207.4,210.6 L208.4,210.4 L209.4,210.1 L210.4,209.8 L211.4,209.5 L212.4,209.3 L213.4,209.1 L214.4,208.9 L215.4,208.7 L216.4,208.5 L217.4,208.4 L218.4,208.2 L219.4,208.1 L220.4,208.0 L221.4,208.0 L222.4,207.9 L223.4,207.9 L224.4,207.8 L225.4,207.8 L226.4,207.8 L227.4,207.8 L228.4,207.8 L229.4,207.9 L230.4,208.0 L231.4,208.1 L232.4,208.2 L233.4,208.3 L234.4,208.5 L235.4,208.6 L236.4,208.8 L237.4,209.0 L238.4,209.2 L239.4,209.4 L240.4,209.6 L241.4,209.8 L242.4,210.0 L243.4,210.2 L244.4,210.5 L245.4,210.7 L246.4,210.9 L247.4,211.1 L248.4,211.3 L249.4,211.5 L250.4,211.6 L251.4,211.7 L252.4,211.7 L253.4,211.7 L254.4,211.6 L255.4,211.5 L256.4,211.2 L257.4,211.0 L258.4,210.7 L259.4,210.3 L260.4,209.9 L261.4,209.3 L262.4,208.7 L263.4,208.0 L264.4,207.3 L265.4,206.6 L266.4,205.7 L267.4,204.9 L268.4,204.0 L269.4,203.1 L270.4,202.1 L271.4,201.3 L272.4,200.4 L273.4,199.5 L274.4,198.6 L275.4,197.6 L276.4,196.6 L277.4,195.5 L278.4,194.4 L279.4,193.3 L280.4,192.5 L281.4,191.9 L282.4,191.5 L283.4,191.1 L284.4,190.7 L285.4,190.2 L286.4,189.5 L287.4,188.4 L288.4,187.0 L289.4,185.4 L290.4,183.5 L291.4,181.3 L292.4,178.9 L293.4,176.3 L294.4,173.8 L295.4,171.2 L296.4,168.7 L297.4,166.2 L298.4,163.8 L299.4,161.3 L300.4,158.8 L301.4,156.3 L302.4,153.9 L303.4,151.5 L304.4,149.1 L305.4,146.7 L306.4,144.5 L307.4,142.2 L308.4,140.0 L309.4,137.8 L310.4,135.7 L311.4,133.6 L312.4,131.6 L313.4,129.5 L314.4,127.5 L315.4,125.4 L316.4,123.3 L317.4,121.1 L318.4,119.0 L319.4,116.8 L320.4,114.6 L321.4,112.4 L322.4,110.1 L323.4,107.8 L324.4,105.7 L325.4,103.4 L326.4,100.9 L327.4,98.2 L328.4,95.7 L329.4,93.4 L330.4,91.5 L331.4,89.5 L332.4,87.2 L333.4,85.3 L334.4,83.5 L335.4,81.9 L336.4,80.2 L337.4,78.6 L338.4,77.3 L339.4,75.6 L340.4,73.7 L341.4,71.9 L342.4,70.4 L343.4,69.3 L344.4,68.0 L345.4,66.6 L346.4,64.9 L347.4,63.4 L348.4,62.8 L349.4,62.3 L350.4,62.0 L351.4,61.9 L352.4,61.7 L353.4,61.0 L354.4,60.4 L355.4,60.2 L356.4,60.0 L357.4,59.7 L358.4,59.3 L359.4,59.2 L360.4,59.6 L361.4,60.1 L362.4,60.3 L363.4,60.2 L364.4,60.0 L365.4,60.3 L366.4,61.0 L367.4,61.4 L368.4,61.4 L369.4,61.7 L370.4,62.5 L371.4,64.2 L372.4,66.0 L373.4,66.6 L374.4,67.2 L375.4,68.4 L376.4,69.7 L377.4,71.0 L378.4,72.1 L379.4,73.2 L380.4,74.9 L381.4,76.7 L382.4,78.3 L383.4,79.6 L384.4,80.9 L385.4,82.8 L386.4,84.7 L387.4,87.0 L388.4,89.8 L389.4,92.7 L390.4,96.0 L391.4,99.5 L392.4,103.0 L393.4,106.5 L394.4,110.2 L395.4,113.9 L396.4,117.7 L397.4,121.6 L398.4,125.5 L399.4,129.4 L400.4,133.4 L401.4,137.2 L402.4,140.9 L403.4,144.5 L404.4,148.1 L405.4,151.5 L406.4,155.0 L407.4,158.2 L408.4,161.4 L409.4,164.4 L410.4,167.2 L411.4,170.0 L412.4,172.5 L413.4,174.9 L414.4,177.2 L415.4,179.3 L416.4,181.4 L417.4,183.3 L418.4,185.0 L419.4,186.7 L420.4,188.3 L421.4,189.9 L422.4,191.3 L423.4,192.7 L424.4,194.1 L425.4,195.4 L426.4,196.6 L427.4,197.9 L428.4,199.2 L429.4,200.4 L430.4,201.7 L431.4,202.9 L432.4,204.1 L433.4,205.4 L434.4,206.7 L435.4,208.0 L436.4,209.3 L437.4,210.6 L438.4,212.0 L439.4,213.4 L440.4,214.9 L441.4,216.4 L442.4,218.0 L443.4,219.6 L444.4,221.3 L445.4,222.9 L446.4,224.5 L447.4,226.2 L448.4,227.8 L449.4,229.5 L450.4,231.1 L451.4,232.7 L452.4,234.2 L453.4,235.7 L454.4,237.2 L455.4,238.7 L456.4,240.1 L457.4,241.5 L458.4,242.9 L459.4,244.2 L460.4,245.5 L461.4,246.8 L462.4,248.1 L463.4,249.3 L464.4,250.5 L465.4,251.8 L466.4,252.9 L467.4,254.1 L468.4,255.1 L469.4,256.1 L470.4,257.0 L471.4,257.9 L472.4,258.7 L473.4,259.5 L474.4,260.3 L475.4,261.1 L476.4,261.8 L477.4,262.4 L478.4,263.0 L479.4,263.6 L480.4,264.1 L481.4,264.6 L482.4,265.1 L483.4,265.6 L484.4,266.0 L485.4,266.5 L486.4,266.9 L487.4,267.3 L488.4,267.6 L489.4,267.9 L490.4,268.2 L491.4,268.5 L492.4,268.8 L493.4,269.1 L494.4,269.3 L495.4,269.6 L496.4,269.8 L497.4,270.0 L498.4,270.2 L499.4,270.4 L500.4,270.6 L501.4,270.7 L502.4,270.8 L503.4,270.9 L504.4,271.0 L505.4,271.1 L506.4,271.2 L507.4,271.2 L508.4,271.3 L509.4,271.4 L510.4,271.4 L511.4,271.5 L512.4,271.5 L513.4,271.6 L514.4,271.6 L515.4,271.6 L516.4,271.6 L516.5,271.6" stroke="#4472C4" stroke-width="2.2"/>
<path d="M72.4,127.6 L73.4,127.5 L74.4,127.5 L75.4,127.5 L76.4,127.5 L77.4,127.6 L78.4,127.7 L79.4,127.8 L80.4,127.9 L81.4,128.2 L82.4,128.5 L83.4,129.0 L84.4,129.6 L85.4,130.6 L86.4,131.9 L87.4,133.5 L88.4,135.0 L89.4,136.5 L90.4,138.1 L91.4,139.7 L92.4,141.4 L93.4,143.1 L94.4,144.9 L95.4,146.7 L96.4,148.5 L97.4,150.3 L98.4,152.1 L99.4,154.0 L100.4,155.8 L101.4,157.6 L102.4,159.3 L103.4,161.1 L104.4,162.9 L105.4,164.6 L106.4,166.3 L107.4,167.9 L108.4,169.5 L109.4,171.0 L110.4,172.5 L111.4,173.9 L112.4,175.0 L113.4,176.0 L114.4,177.3 L115.4,179.2 L116.4,182.1 L117.4,186.0 L118.4,190.1 L119.4,194.0 L120.4,197.8 L121.4,201.4 L122.4,204.5 L123.4,207.4 L124.4,209.9 L125.4,212.3 L126.4,214.3 L127.4,216.2 L128.4,217.9 L129.4,219.4 L130.4,220.6 L131.4,221.7 L132.4,222.6 L133.4,223.4 L134.4,224.1 L135.4,224.8 L136.4,225.3 L137.4,225.9 L138.4,226.3 L139.4,226.5 L140.4,226.7 L141.4,226.8 L142.4,226.9 L143.4,226.9 L144.4,227.0 L145.4,227.0 L146.4,227.0 L147.4,226.9 L148.4,226.9 L149.4,226.8 L150.4,226.6 L151.4,226.5 L152.4,226.3 L153.4,226.0 L154.4,225.8 L155.4,225.5 L156.4,225.2 L157.4,224.9 L158.4,224.7 L159.4,224.4 L160.4,224.1 L161.4,223.8 L162.4,223.5 L163.4,223.2 L164.4,222.8 L165.4,222.5 L166.4,222.1 L167.4,221.8 L168.4,221.4 L169.4,221.0 L170.4,220.6 L171.4,220.2 L172.4,219.8 L173.4,219.3 L174.4,218.8 L175.4,218.3 L176.4,217.9 L177.4,217.4 L178.4,216.9 L179.4,216.4 L180.4,215.9 L181.4,215.5 L182.4,215.0 L183.4,214.5 L184.4,214.0 L185.4,213.6 L186.4,213.1 L187.4,212.6 L188.4,212.2 L189.4,211.8 L190.4,211.3 L191.4,210.9 L192.4,210.5 L193.4,210.1 L194.4,209.7 L195.4,209.3 L196.4,208.9 L197.4,208.5 L198.4,208.1 L199.4,207.8 L200.4,207.4 L201.4,207.0 L202.4,206.6 L203.4,206.2 L204.4,205.8 L205.4,205.4 L206.4,205.1 L207.4,204.8 L208.4,204.5 L209.4,204.2 L210.4,203.9 L211.4,203.6 L212.4,203.3 L213.4,203.1 L214.4,202.9 L215.4,202.7 L216.4,202.5 L217.4,202.4 L218.4,202.3 L219.4,202.2 L220.4,202.1 L221.4,202.0 L222.4,202.0 L223.4,201.9 L224.4,201.9 L225.4,201.9 L226.4,201.9 L227.4,202.0 L228.4,202.0 L229.4,202.1 L230.4,202.3 L231.4,202.4 L232.4,202.6 L233.4,202.8 L234.4,203.0 L235.4,203.2 L236.4,203.5 L237.4,203.8 L238.4,204.1 L239.4,204.4 L240.4,204.7 L241.4,205.0 L242.4,205.3 L243.4,205.7 L244.4,206.0 L245.4,206.3 L246.4,206.7 L247.4,207.0 L248.4,207.4 L249.4,207.7 L250.4,208.0 L251.4,208.2 L252.4,208.3 L253.4,208.4 L254.4,208.5 L255.4,208.5 L256.4,208.4 L257.4,208.3 L258.4,208.1 L259.4,207.9 L260.4,207.6 L261.4,207.2 L262.4,206.7 L263.4,206.2 L264.4,205.6 L265.4,205.0 L266.4,204.3 L267.4,203.6 L268.4,202.8 L269.4,202.0 L270.4,201.2 L271.4,200.5 L272.4,199.7 L273.4,198.9 L274.4,198.1 L275.4,197.2 L276.4,196.3 L277.4,195.3 L278.4,194.4 L279.4,193.4 L280.4,192.6 L281.4,192.1 L282.4,191.8 L283.4,191.5 L284.4,191.1 L285.4,190.6 L286.4,189.9 L287.4,189.0 L288.4,187.7 L289.4,186.2 L290.4,184.4 L291.4,182.3 L292.4,180.0 L293.4,177.6 L294.4,175.2 L295.4,172.8 L296.4,170.5 L297.4,168.1 L298.4,165.7 L299.4,163.3 L300.4,161.0 L301.4,158.6 L302.4,156.2 L303.4,153.9 L304.4,151.6 L305.4,149.4 L306.4,147.1 L307.4,145.0 L308.4,142.8 L309.4,140.7 L310.4,138.7 L311.4,136.6 L312.4,134.7 L313.4,132.7 L314.4,130.7 L315.4,128.7 L316.4,126.6 L317.4,124.5 L318.4,122.4 L319.4,120.3 L320.4,118.1 L321.4,116.0 L322.4,113.8 L323.4,111.4 L324.4,109.1 L325.4,107.0 L326.4,104.9 L327.4,102.4 L328.4,100.0 L329.4,97.9 L330.4,95.7 L331.4,93.5 L332.4,91.7 L333.4,90.4 L334.4,88.8 L335.4,86.4 L336.4,84.5 L337.4,82.8 L338.4,81.4 L339.4,80.2 L340.4,78.7 L341.4,76.9 L342.4,75.0 L343.4,73.6 L344.4,72.5 L345.4,71.3 L346.4,70.2 L347.4,69.1 L348.4,67.9 L349.4,67.1 L350.4,66.8 L351.4,66.2 L352.4,65.5 L353.4,64.9 L354.4,64.5 L355.4,64.4 L356.4,64.6 L357.4,64.5 L358.4,64.4 L359.4,64.5 L360.4,64.1 L361.4,64.1 L362.4,64.6 L363.4,64.9 L364.4,65.1 L365.4,65.3 L366.4,65.6 L367.4,65.6 L368.4,65.8 L369.4,66.7 L370.4,67.7 L371.4,68.0 L372.4,68.7 L373.4,70.1 L374.4,71.7 L375.4,73.0 L376.4,74.0 L377.4,75.5 L378.4,77.1 L379.4,78.7 L380.4,79.9 L381.4,80.9 L382.4,82.3 L383.4,83.8 L384.4,85.5 L385.4,87.2 L386.4,89.1 L387.4,91.4 L388.4,94.0 L389.4,97.1 L390.4,100.2 L391.4,103.5 L392.4,107.0 L393.4,110.5 L394.4,114.0 L395.4,117.6 L396.4,121.3 L397.4,125.0 L398.4,128.9 L399.4,132.7 L400.4,136.6 L401.4,140.3 L402.4,143.9 L403.4,147.4 L404.4,150.9 L405.4,154.3 L406.4,157.6 L407.4,160.8 L408.4,163.8 L409.4,166.7 L410.4,169.5 L411.4,172.2 L412.4,174.7 L413.4,177.0 L414.4,179.2 L415.4,181.2 L416.4,183.2 L417.4,185.0 L418.4,186.7 L419.4,188.4 L420.4,189.9 L421.4,191.4 L422.4,192.8 L423.4,194.1 L424.4,195.4 L425.4,196.7 L426.4,197.9 L427.4,199.2 L428.4,200.4 L429.4,201.6 L430.4,202.8 L431.4,204.0 L432.4,205.2 L433.4,206.5 L434.4,207.7 L435.4,209.0 L436.4,210.3 L437.4,211.6 L438.4,212.9 L439.4,214.4 L440.4,215.8 L441.4,217.4 L442.4,218.9 L443.4,220.5 L444.4,222.1 L445.4,223.7 L446.4,225.3 L447.4,227.0 L448.4,228.6 L449.4,230.2 L450.4,231.8 L451.4,233.3 L452.4,234.9 L453.4,236.3 L454.4,237.8 L455.4,239.2 L456.4,240.6 L457.4,242.0 L458.4,243.3 L459.4,244.7 L460.4,246.0 L461.4,247.2 L462.4,248.5 L463.4,249.7 L464.4,250.9 L465.4,252.1 L466.4,253.2 L467.4,254.3 L468.4,255.3 L469.4,256.3 L470.4,257.2 L471.4,258.0 L472.4,258.9 L473.4,259.7 L474.4,260.4 L475.4,261.2 L476.4,261.9 L477.4,262.5 L478.4,263.1 L479.4,263.7 L480.4,264.2 L481.4,264.7 L482.4,265.2 L483.4,265.6 L484.4,266.1 L485.4,266.5 L486.4,266.9 L487.4,267.3 L488.4,267.6 L489.4,268.0 L490.4,268.3 L491.4,268.6 L492.4,268.8 L493.4,269.1 L494.4,269.4 L495.4,269.6 L496.4,269.8 L497.4,270.1 L498.4,270.3 L499.4,270.4 L500.4,270.6 L501.4,270.7 L502.4,270.9 L503.4,270.9 L504.4,271.0 L505.4,271.1 L506.4,271.2 L507.4,271.3 L508.4,271.3 L509.4,271.4 L510.4,271.4 L511.4,271.5 L512.4,271.5 L513.4,271.6 L514.4,271.6 L515.4,271.6 L516.4,271.6 L516.5,271.6" stroke="#70AD47" stroke-width="2.2"/>
<path d="M72.4,128.8 L73.4,128.8 L74.4,128.7 L75.4,128.7 L76.4,128.8 L77.4,128.8 L78.4,128.9 L79.4,129.0 L80.4,129.2 L81.4,129.4 L82.4,129.8 L83.4,130.2 L84.4,130.9 L85.4,131.8 L86.4,133.1 L87.4,134.6 L88.4,136.1 L89.4,137.6 L90.4,139.1 L91.4,140.7 L92.4,142.3 L93.4,144.0 L94.4,145.7 L95.4,147.5 L96.4,149.2 L97.4,151.0 L98.4,152.8 L99.4,154.6 L100.4,156.3 L101.4,158.1 L102.4,159.8 L103.4,161.5 L104.4,163.2 L105.4,164.9 L106.4,166.5 L107.4,168.1 L108.4,169.7 L109.4,171.2 L110.4,172.6 L111.4,174.0 L112.4,175.0 L113.4,176.1 L114.4,177.3 L115.4,179.2 L116.4,182.0 L117.4,185.7 L118.4,189.7 L119.4,193.5 L120.4,197.1 L121.4,200.6 L122.4,203.6 L123.4,206.3 L124.4,208.8 L125.4,211.0 L126.4,213.0 L127.4,214.8 L128.4,216.5 L129.4,217.9 L130.4,219.1 L131.4,220.1 L132.4,221.0 L133.4,221.8 L134.4,222.6 L135.4,223.2 L136.4,223.8 L137.4,224.3 L138.4,224.7 L139.4,224.9 L140.4,225.1 L141.4,225.1 L142.4,225.2 L143.4,225.2 L144.4,225.3 L145.4,225.3 L146.4,225.2 L147.4,225.2 L148.4,225.1 L149.4,224.9 L150.4,224.8 L151.4,224.6 L152.4,224.3 L153.4,224.1 L154.4,223.8 L155.4,223.4 L156.4,223.1 L157.4,222.8 L158.4,222.4 L159.4,222.1 L160.4,221.7 L161.4,221.4 L162.4,221.0 L163.4,220.7 L164.4,220.3 L165.4,219.9 L166.4,219.5 L167.4,219.1 L168.4,218.7 L169.4,218.2 L170.4,217.8 L171.4,217.3 L172.4,216.8 L173.4,216.3 L174.4,215.7 L175.4,215.2 L176.4,214.6 L177.4,214.1 L178.4,213.5 L179.4,213.0 L180.4,212.5 L181.4,211.9 L182.4,211.4 L183.4,210.8 L184.4,210.3 L185.4,209.8 L186.4,209.2 L187.4,208.7 L188.4,208.2 L189.4,207.7 L190.4,207.2 L191.4,206.7 L192.4,206.3 L193.4,205.8 L194.4,205.4 L195.4,204.9 L196.4,204.5 L197.4,204.1 L198.4,203.6 L199.4,203.2 L200.4,202.8 L201.4,202.3 L202.4,201.9 L203.4,201.4 L204.4,201.0 L205.4,200.6 L206.4,200.2 L207.4,199.9 L208.4,199.6 L209.4,199.2 L210.4,198.9 L211.4,198.6 L212.4,198.4 L213.4,198.1 L214.4,197.9 L215.4,197.7 L216.4,197.6 L217.4,197.4 L218.4,197.3 L219.4,197.2 L220.4,197.1 L221.4,197.1 L222.4,197.0 L223.4,197.0 L224.4,197.0 L225.4,197.0 L226.4,197.0 L227.4,197.1 L228.4,197.2 L229.4,197.4 L230.4,197.5 L231.4,197.7 L232.4,197.9 L233.4,198.2 L234.4,198.4 L235.4,198.7 L236.4,199.1 L237.4,199.4 L238.4,199.8 L239.4,200.2 L240.4,200.6 L241.4,201.0 L242.4,201.4 L243.4,201.8 L244.4,202.3 L245.4,202.7 L246.4,203.2 L247.4,203.6 L248.4,204.1 L249.4,204.5 L250.4,204.9 L251.4,205.2 L252.4,205.5 L253.4,205.7 L254.4,205.9 L255.4,206.0 L256.4,206.0 L257.4,206.0 L258.4,206.0 L259.4,205.9 L260.4,205.7 L261.4,205.4 L262.4,205.0 L263.4,204.6 L264.4,204.2 L265.4,203.7 L266.4,203.1 L267.4,202.5 L268.4,201.8 L269.4,201.1 L270.4,200.4 L271.4,199.8 L272.4,199.1 L273.4,198.4 L274.4,197.7 L275.4,196.9 L276.4,196.0 L277.4,195.2 L278.4,194.3 L279.4,193.4 L280.4,192.7 L281.4,192.3 L282.4,192.0 L283.4,191.8 L284.4,191.5 L285.4,191.0 L286.4,190.4 L287.4,189.5 L288.4,188.3 L289.4,186.9 L290.4,185.2 L291.4,183.3 L292.4,181.2 L293.4,178.9 L294.4,176.6 L295.4,174.3 L296.4,172.1 L297.4,169.8 L298.4,167.5 L299.4,165.2 L300.4,163.0 L301.4,160.7 L302.4,158.4 L303.4,156.2 L304.4,153.9 L305.4,151.8 L306.4,149.7 L307.4,147.6 L308.4,145.5 L309.4,143.5 L310.4,141.4 L311.4,139.5 L312.4,137.6 L313.4,135.7 L314.4,133.7 L315.4,131.7 L316.4,129.7 L317.4,127.7 L318.4,125.6 L319.4,123.5 L320.4,121.4 L321.4,119.3 L322.4,117.2 L323.4,115.1 L324.4,112.9 L325.4,110.6 L326.4,108.3 L327.4,106.1 L328.4,103.9 L329.4,101.5 L330.4,99.1 L331.4,97.3 L332.4,95.3 L333.4,93.4 L334.4,91.8 L335.4,90.3 L336.4,88.8 L337.4,87.4 L338.4,85.6 L339.4,83.8 L340.4,82.0 L341.4,80.1 L342.4,78.6 L343.4,77.5 L344.4,76.1 L345.4,74.7 L346.4,74.3 L347.4,73.9 L348.4,72.9 L349.4,71.9 L350.4,70.7 L351.4,69.8 L352.4,69.4 L353.4,68.8 L354.4,68.4 L355.4,68.6 L356.4,68.4 L357.4,68.0 L358.4,68.0 L359.4,68.1 L360.4,68.4 L361.4,68.5 L362.4,68.1 L363.4,68.2 L364.4,69.2 L365.4,69.8 L366.4,69.4 L367.4,69.3 L368.4,70.0 L369.4,71.0 L370.4,71.9 L371.4,72.8 L372.4,73.7 L373.4,74.4 L374.4,75.2 L375.4,76.5 L376.4,78.3 L377.4,79.9 L378.4,81.0 L379.4,82.1 L380.4,83.7 L381.4,85.2 L382.4,86.6 L383.4,87.9 L384.4,89.2 L385.4,90.6 L386.4,92.3 L387.4,94.7 L388.4,97.4 L389.4,100.4 L390.4,103.9 L391.4,107.4 L392.4,110.4 L393.4,113.6 L394.4,117.2 L395.4,121.0 L396.4,124.7 L397.4,128.3 L398.4,132.0 L399.4,135.8 L400.4,139.5 L401.4,143.1 L402.4,146.7 L403.4,150.2 L404.4,153.6 L405.4,156.9 L406.4,160.1 L407.4,163.2 L408.4,166.2 L409.4,169.0 L410.4,171.7 L411.4,174.3 L412.4,176.7 L413.4,178.9 L414.4,181.0 L415.4,183.0 L416.4,184.9 L417.4,186.7 L418.4,188.3 L419.4,189.9 L420.4,191.4 L421.4,192.8 L422.4,194.2 L423.4,195.5 L424.4,196.7 L425.4,197.9 L426.4,199.1 L427.4,200.3 L428.4,201.5 L429.4,202.7 L430.4,203.9 L431.4,205.0 L432.4,206.2 L433.4,207.4 L434.4,208.7 L435.4,209.9 L436.4,211.2 L437.4,212.5 L438.4,213.9 L439.4,215.3 L440.4,216.7 L441.4,218.2 L442.4,219.8 L443.4,221.4 L444.4,222.9 L445.4,224.5 L446.4,226.1 L447.4,227.7 L448.4,229.3 L449.4,230.9 L450.4,232.5 L451.4,234.0 L452.4,235.4 L453.4,236.9 L454.4,238.3 L455.4,239.7 L456.4,241.1 L457.4,242.5 L458.4,243.8 L459.4,245.1 L460.4,246.4 L461.4,247.6 L462.4,248.8 L463.4,250.0 L464.4,251.2 L465.4,252.3 L466.4,253.5 L467.4,254.5 L468.4,255.5 L469.4,256.5 L470.4,257.3 L471.4,258.2 L472.4,259.0 L473.4,259.8 L474.4,260.6 L475.4,261.3 L476.4,262.0 L477.4,262.6 L478.4,263.2 L479.4,263.7 L480.4,264.2 L481.4,264.7 L482.4,265.2 L483.4,265.7 L484.4,266.1 L485.4,266.5 L486.4,266.9 L487.4,267.3 L488.4,267.7 L489.4,268.0 L490.4,268.3 L491.4,268.6 L492.4,268.8 L493.4,269.1 L494.4,269.4 L495.4,269.6 L496.4,269.8 L497.4,270.1 L498.4,270.3 L499.4,270.4 L500.4,270.6 L501.4,270.7 L502.4,270.9 L503.4,271.0 L504.4,271.0 L505.4,271.1 L506.4,271.2 L507.4,271.3 L508.4,271.3 L509.4,271.4 L510.4,271.5 L511.4,271.5 L512.4,271.6 L513.4,271.6 L514.4,271.6 L515.4,271.6 L516.4,271.6 L516.5,271.6" stroke="#255E91" stroke-width="2.2"/>
<path d="M72.4,130.4 L73.4,130.3 L74.4,130.3 L75.4,130.3 L76.4,130.3 L77.4,130.4 L78.4,130.5 L79.4,130.6 L80.4,130.8 L81.4,131.0 L82.4,131.4 L83.4,131.8 L84.4,132.4 L85.4,133.3 L86.4,134.6 L87.4,136.0 L88.4,137.4 L89.4,138.9 L90.4,140.4 L91.4,141.9 L92.4,143.5 L93.4,145.1 L94.4,146.8 L95.4,148.5 L96.4,150.2 L97.4,151.9 L98.4,153.6 L99.4,155.3 L100.4,157.0 L101.4,158.7 L102.4,160.4 L103.4,162.1 L104.4,163.7 L105.4,165.3 L106.4,166.9 L107.4,168.4 L108.4,169.9 L109.4,171.4 L110.4,172.8 L111.4,174.1 L112.4,175.1 L113.4,176.1 L114.4,177.4 L115.4,179.2 L116.4,181.9 L117.4,185.5 L118.4,189.3 L119.4,192.9 L120.4,196.4 L121.4,199.6 L122.4,202.5 L123.4,205.1 L124.4,207.5 L125.4,209.6 L126.4,211.5 L127.4,213.3 L128.4,214.9 L129.4,216.3 L130.4,217.4 L131.4,218.4 L132.4,219.3 L133.4,220.1 L134.4,220.8 L135.4,221.5 L136.4,222.0 L137.4,222.5 L138.4,222.9 L139.4,223.1 L140.4,223.3 L141.4,223.3 L142.4,223.4 L143.4,223.4 L144.4,223.4 L145.4,223.4 L146.4,223.3 L147.4,223.2 L148.4,223.1 L149.4,222.9 L150.4,222.7 L151.4,222.5 L152.4,222.2 L153.4,221.9 L154.4,221.5 L155.4,221.1 L156.4,220.8 L157.4,220.4 L158.4,220.0 L159.4,219.6 L160.4,219.2 L161.4,218.8 L162.4,218.4 L163.4,217.9 L164.4,217.5 L165.4,217.1 L166.4,216.6 L167.4,216.1 L168.4,215.7 L169.4,215.2 L170.4,214.6 L171.4,214.1 L172.4,213.5 L173.4,213.0 L174.4,212.4 L175.4,211.7 L176.4,211.1 L177.4,210.5 L178.4,209.9 L179.4,209.3 L180.4,208.6 L181.4,208.0 L182.4,207.4 L183.4,206.8 L184.4,206.2 L185.4,205.6 L186.4,205.0 L187.4,204.4 L188.4,203.8 L189.4,203.2 L190.4,202.7 L191.4,202.2 L192.4,201.6 L193.4,201.1 L194.4,200.6 L195.4,200.1 L196.4,199.6 L197.4,199.1 L198.4,198.7 L199.4,198.2 L200.4,197.7 L201.4,197.2 L202.4,196.7 L203.4,196.2 L204.4,195.7 L205.4,195.3 L206.4,194.9 L207.4,194.5 L208.4,194.2 L209.4,193.8 L210.4,193.5 L211.4,193.2 L212.4,192.9 L213.4,192.7 L214.4,192.4 L215.4,192.3 L216.4,192.1 L217.4,191.9 L218.4,191.8 L219.4,191.7 L220.4,191.6 L221.4,191.6 L222.4,191.6 L223.4,191.6 L224.4,191.6 L225.4,191.6 L226.4,191.7 L227.4,191.8 L228.4,191.9 L229.4,192.1 L230.4,192.3 L231.4,192.5 L232.4,192.8 L233.4,193.1 L234.4,193.4 L235.4,193.8 L236.4,194.2 L237.4,194.7 L238.4,195.1 L239.4,195.6 L240.4,196.1 L241.4,196.6 L242.4,197.1 L243.4,197.6 L244.4,198.2 L245.4,198.7 L246.4,199.3 L247.4,199.9 L248.4,200.5 L249.4,201.0 L250.4,201.5 L251.4,202.0 L252.4,202.4 L253.4,202.7 L254.4,203.0 L255.4,203.2 L256.4,203.4 L257.4,203.6 L258.4,203.6 L259.4,203.6 L260.4,203.6 L261.4,203.4 L262.4,203.2 L263.4,202.9 L264.4,202.6 L265.4,202.2 L266.4,201.8 L267.4,201.3 L268.4,200.7 L269.4,200.2 L270.4,199.6 L271.4,199.0 L272.4,198.4 L273.4,197.9 L274.4,197.2 L275.4,196.5 L276.4,195.8 L277.4,195.0 L278.4,194.2 L279.4,193.5 L280.4,192.9 L281.4,192.5 L282.4,192.3 L283.4,192.1 L284.4,191.8 L285.4,191.4 L286.4,190.9 L287.4,190.0 L288.4,188.9 L289.4,187.6 L290.4,186.0 L291.4,184.2 L292.4,182.2 L293.4,180.1 L294.4,177.9 L295.4,175.7 L296.4,173.6 L297.4,171.5 L298.4,169.3 L299.4,167.1 L300.4,164.9 L301.4,162.7 L302.4,160.5 L303.4,158.3 L304.4,156.2 L305.4,154.1 L306.4,152.1 L307.4,150.0 L308.4,148.0 L309.4,146.1 L310.4,144.1 L311.4,142.2 L312.4,140.3 L313.4,138.5 L314.4,136.6 L315.4,134.6 L316.4,132.6 L317.4,130.6 L318.4,128.6 L319.4,126.6 L320.4,124.6 L321.4,122.5 L322.4,120.5 L323.4,118.4 L324.4,116.0 L325.4,113.7 L326.4,111.7 L327.4,109.6 L328.4,107.3 L329.4,104.9 L330.4,102.7 L331.4,100.7 L332.4,99.2 L333.4,97.8 L334.4,96.2 L335.4,94.9 L336.4,93.1 L337.4,90.9 L338.4,89.5 L339.4,87.8 L340.4,85.6 L341.4,84.2 L342.4,83.3 L343.4,81.9 L344.4,80.8 L345.4,79.5 L346.4,78.0 L347.4,77.3 L348.4,76.8 L349.4,76.0 L350.4,75.1 L351.4,74.4 L352.4,73.7 L353.4,73.3 L354.4,73.3 L355.4,73.2 L356.4,72.9 L357.4,72.6 L358.4,72.3 L359.4,71.8 L360.4,71.8 L361.4,72.2 L362.4,72.2 L363.4,72.2 L364.4,72.3 L365.4,72.4 L366.4,73.1 L367.4,73.9 L368.4,74.2 L369.4,74.9 L370.4,76.2 L371.4,76.8 L372.4,77.1 L373.4,77.8 L374.4,78.6 L375.4,79.5 L376.4,80.7 L377.4,82.5 L378.4,84.4 L379.4,86.0 L380.4,87.4 L381.4,89.0 L382.4,90.2 L383.4,91.1 L384.4,92.7 L385.4,94.8 L386.4,97.1 L387.4,99.1 L388.4,101.0 L389.4,104.0 L390.4,107.7 L391.4,111.0 L392.4,114.1 L393.4,117.2 L394.4,120.6 L395.4,124.3 L396.4,127.9 L397.4,131.4 L398.4,135.1 L399.4,138.7 L400.4,142.4 L401.4,145.9 L402.4,149.4 L403.4,152.8 L404.4,156.1 L405.4,159.4 L406.4,162.5 L407.4,165.5 L408.4,168.4 L409.4,171.1 L410.4,173.7 L411.4,176.2 L412.4,178.5 L413.4,180.7 L414.4,182.8 L415.4,184.7 L416.4,186.5 L417.4,188.2 L418.4,189.8 L419.4,191.3 L420.4,192.8 L421.4,194.1 L422.4,195.5 L423.4,196.7 L424.4,197.9 L425.4,199.1 L426.4,200.3 L427.4,201.4 L428.4,202.6 L429.4,203.7 L430.4,204.9 L431.4,206.0 L432.4,207.2 L433.4,208.4 L434.4,209.6 L435.4,210.8 L436.4,212.1 L437.4,213.4 L438.4,214.7 L439.4,216.1 L440.4,217.6 L441.4,219.1 L442.4,220.6 L443.4,222.1 L444.4,223.7 L445.4,225.2 L446.4,226.8 L447.4,228.4 L448.4,230.0 L449.4,231.5 L450.4,233.1 L451.4,234.6 L452.4,236.0 L453.4,237.4 L454.4,238.8 L455.4,240.2 L456.4,241.6 L457.4,242.9 L458.4,244.2 L459.4,245.5 L460.4,246.7 L461.4,248.0 L462.4,249.2 L463.4,250.3 L464.4,251.5 L465.4,252.6 L466.4,253.7 L467.4,254.8 L468.4,255.7 L469.4,256.6 L470.4,257.5 L471.4,258.3 L472.4,259.2 L473.4,259.9 L474.4,260.7 L475.4,261.4 L476.4,262.0 L477.4,262.7 L478.4,263.3 L479.4,263.8 L480.4,264.3 L481.4,264.8 L482.4,265.3 L483.4,265.7 L484.4,266.2 L485.4,266.6 L486.4,267.0 L487.4,267.4 L488.4,267.7 L489.4,268.0 L490.4,268.3 L491.4,268.6 L492.4,268.9 L493.4,269.1 L494.4,269.4 L495.4,269.6 L496.4,269.9 L497.4,270.1 L498.4,270.3 L499.4,270.5 L500.4,270.6 L501.4,270.8 L502.4,270.9 L503.4,271.0 L504.4,271.0 L505.4,271.1 L506.4,271.2 L507.4,271.3 L508.4,271.3 L509.4,271.4 L510.4,271.5 L511.4,271.5 L512.4,271.6 L513.4,271.6 L514.4,271.6 L515.4,271.6 L516.4,271.6 L516.5,271.6" stroke="#9E480E" stroke-width="2.2"/>
<path d="M72.4,131.7 L73.4,131.7 L74.4,131.6 L75.4,131.7 L76.4,131.7 L77.4,131.8 L78.4,131.9 L79.4,132.0 L80.4,132.1 L81.4,132.4 L82.4,132.7 L83.4,133.1 L84.4,133.7 L85.4,134.6 L86.4,135.9 L87.4,137.3 L88.4,138.6 L89.4,140.0 L90.4,141.5 L91.4,143.0 L92.4,144.5 L93.4,146.0 L94.4,147.7 L95.4,149.3 L96.4,151.0 L97.4,152.7 L98.4,154.3 L99.4,156.0 L100.4,157.7 L101.4,159.3 L102.4,160.9 L103.4,162.5 L104.4,164.1 L105.4,165.7 L106.4,167.2 L107.4,168.7 L108.4,170.1 L109.4,171.6 L110.4,172.9 L111.4,174.2 L112.4,175.2 L113.4,176.2 L114.4,177.4 L115.4,179.2 L116.4,181.8 L117.4,185.2 L118.4,188.9 L119.4,192.3 L120.4,195.7 L121.4,198.8 L122.4,201.5 L123.4,204.0 L124.4,206.3 L125.4,208.3 L126.4,210.1 L127.4,211.8 L128.4,213.4 L129.4,214.8 L130.4,215.8 L131.4,216.8 L132.4,217.7 L133.4,218.5 L134.4,219.3 L135.4,219.9 L136.4,220.5 L137.4,220.9 L138.4,221.3 L139.4,221.5 L140.4,221.6 L141.4,221.7 L142.4,221.7 L143.4,221.7 L144.4,221.7 L145.4,221.7 L146.4,221.6 L147.4,221.5 L148.4,221.3 L149.4,221.1 L150.4,220.9 L151.4,220.6 L152.4,220.3 L153.4,219.9 L154.4,219.5 L155.4,219.1 L156.4,218.6 L157.4,218.2 L158.4,217.7 L159.4,217.3 L160.4,216.8 L161.4,216.4 L162.4,215.9 L163.4,215.5 L164.4,215.0 L165.4,214.5 L166.4,214.0 L167.4,213.5 L168.4,212.9 L169.4,212.4 L170.4,211.8 L171.4,211.2 L172.4,210.6 L173.4,209.9 L174.4,209.3 L175.4,208.6 L176.4,207.9 L177.4,207.2 L178.4,206.5 L179.4,205.8 L180.4,205.2 L181.4,204.5 L182.4,203.8 L183.4,203.1 L184.4,202.4 L185.4,201.8 L186.4,201.1 L187.4,200.4 L188.4,199.8 L189.4,199.2 L190.4,198.6 L191.4,198.0 L192.4,197.4 L193.4,196.8 L194.4,196.3 L195.4,195.7 L196.4,195.2 L197.4,194.7 L198.4,194.1 L199.4,193.6 L200.4,193.1 L201.4,192.5 L202.4,192.0 L203.4,191.4 L204.4,190.9 L205.4,190.5 L206.4,190.0 L207.4,189.6 L208.4,189.3 L209.4,188.9 L210.4,188.6 L211.4,188.2 L212.4,188.0 L213.4,187.7 L214.4,187.5 L215.4,187.3 L216.4,187.1 L217.4,186.9 L218.4,186.8 L219.4,186.7 L220.4,186.7 L221.4,186.7 L222.4,186.7 L223.4,186.7 L224.4,186.7 L225.4,186.7 L226.4,186.8 L227.4,186.9 L228.4,187.1 L229.4,187.3 L230.4,187.6 L231.4,187.8 L232.4,188.1 L233.4,188.5 L234.4,188.9 L235.4,189.3 L236.4,189.8 L237.4,190.3 L238.4,190.9 L239.4,191.4 L240.4,192.0 L241.4,192.6 L242.4,193.2 L243.4,193.8 L244.4,194.4 L245.4,195.1 L246.4,195.8 L247.4,196.5 L248.4,197.2 L249.4,197.8 L250.4,198.5 L251.4,199.0 L252.4,199.5 L253.4,200.0 L254.4,200.4 L255.4,200.7 L256.4,201.0 L257.4,201.3 L258.4,201.5 L259.4,201.6 L260.4,201.7 L261.4,201.6 L262.4,201.5 L263.4,201.4 L264.4,201.2 L265.4,200.9 L266.4,200.6 L267.4,200.2 L268.4,199.8 L269.4,199.3 L270.4,198.8 L271.4,198.3 L272.4,197.9 L273.4,197.4 L274.4,196.8 L275.4,196.2 L276.4,195.5 L277.4,194.9 L278.4,194.2 L279.4,193.5 L280.4,193.0 L281.4,192.7 L282.4,192.5 L283.4,192.3 L284.4,192.1 L285.4,191.7 L286.4,191.2 L287.4,190.4 L288.4,189.4 L289.4,188.1 L290.4,186.7 L291.4,184.9 L292.4,183.0 L293.4,181.0 L294.4,178.9 L295.4,176.8 L296.4,174.8 L297.4,172.7 L298.4,170.6 L299.4,168.4 L300.4,166.3 L301.4,164.2 L302.4,162.0 L303.4,159.9 L304.4,157.9 L305.4,155.8 L306.4,153.8 L307.4,151.9 L308.4,149.9 L309.4,148.0 L310.4,146.1 L311.4,144.2 L312.4,142.4 L313.4,140.6 L314.4,138.7 L315.4,136.8 L316.4,134.9 L317.4,132.9 L318.4,130.9 L319.4,128.9 L320.4,126.9 L321.4,124.9 L322.4,122.9 L323.4,120.7 L324.4,118.5 L325.4,116.4 L326.4,114.3 L327.4,112.0 L328.4,109.5 L329.4,107.5 L330.4,105.8 L331.4,104.1 L332.4,102.2 L333.4,100.3 L334.4,98.7 L335.4,97.1 L336.4,95.5 L337.4,93.6 L338.4,91.8 L339.4,90.4 L340.4,89.3 L341.4,88.2 L342.4,86.6 L343.4,85.1 L344.4,83.4 L345.4,82.1 L346.4,81.5 L347.4,80.4 L348.4,79.1 L349.4,78.6 L350.4,78.0 L351.4,77.1 L352.4,76.5 L353.4,76.1 L354.4,75.9 L355.4,75.8 L356.4,75.8 L357.4,75.5 L358.4,75.1 L359.4,74.8 L360.4,74.7 L361.4,75.0 L362.4,75.5 L363.4,76.0 L364.4,75.7 L365.4,75.4 L366.4,75.7 L367.4,76.3 L368.4,77.3 L369.4,77.9 L370.4,78.3 L371.4,79.3 L372.4,80.6 L373.4,81.5 L374.4,82.4 L375.4,83.6 L376.4,84.7 L377.4,85.8 L378.4,87.4 L379.4,89.0 L380.4,90.2 L381.4,91.6 L382.4,93.1 L383.4,94.6 L384.4,96.2 L385.4,97.8 L386.4,99.6 L387.4,101.9 L388.4,104.6 L389.4,107.3 L390.4,110.1 L391.4,113.5 L392.4,116.9 L393.4,120.1 L394.4,123.2 L395.4,126.6 L396.4,130.2 L397.4,133.8 L398.4,137.3 L399.4,140.9 L400.4,144.5 L401.4,148.0 L402.4,151.4 L403.4,154.7 L404.4,158.0 L405.4,161.2 L406.4,164.3 L407.4,167.2 L408.4,170.0 L409.4,172.7 L410.4,175.3 L411.4,177.7 L412.4,180.0 L413.4,182.1 L414.4,184.1 L415.4,186.0 L416.4,187.7 L417.4,189.4 L418.4,191.0 L419.4,192.4 L420.4,193.8 L421.4,195.1 L422.4,196.4 L423.4,197.7 L424.4,198.9 L425.4,200.0 L426.4,201.1 L427.4,202.3 L428.4,203.4 L429.4,204.5 L430.4,205.6 L431.4,206.8 L432.4,207.9 L433.4,209.1 L434.4,210.3 L435.4,211.5 L436.4,212.7 L437.4,214.0 L438.4,215.4 L439.4,216.8 L440.4,218.2 L441.4,219.7 L442.4,221.2 L443.4,222.7 L444.4,224.3 L445.4,225.8 L446.4,227.3 L447.4,228.9 L448.4,230.5 L449.4,232.0 L450.4,233.5 L451.4,235.0 L452.4,236.4 L453.4,237.8 L454.4,239.2 L455.4,240.6 L456.4,241.9 L457.4,243.2 L458.4,244.5 L459.4,245.8 L460.4,247.0 L461.4,248.2 L462.4,249.4 L463.4,250.6 L464.4,251.7 L465.4,252.8 L466.4,253.9 L467.4,254.9 L468.4,255.9 L469.4,256.8 L470.4,257.6 L471.4,258.5 L472.4,259.3 L473.4,260.0 L474.4,260.8 L475.4,261.5 L476.4,262.1 L477.4,262.7 L478.4,263.3 L479.4,263.8 L480.4,264.3 L481.4,264.8 L482.4,265.3 L483.4,265.8 L484.4,266.2 L485.4,266.6 L486.4,267.0 L487.4,267.4 L488.4,267.7 L489.4,268.0 L490.4,268.3 L491.4,268.6 L492.4,268.9 L493.4,269.1 L494.4,269.4 L495.4,269.6 L496.4,269.9 L497.4,270.1 L498.4,270.3 L499.4,270.5 L500.4,270.6 L501.4,270.8 L502.4,270.9 L503.4,271.0 L504.4,271.0 L505.4,271.1 L506.4,271.2 L507.4,271.3 L508.4,271.3 L509.4,271.4 L510.4,271.5 L511.4,271.5 L512.4,271.6 L513.4,271.6 L514.4,271.6 L515.4,271.6 L516.4,271.7 L516.5,271.7" stroke="#636363" stroke-width="2.2"/>
<path d="M72.4,132.9 L73.4,132.9 L74.4,132.9 L75.4,132.9 L76.4,133.0 L77.4,133.0 L78.4,133.1 L79.4,133.3 L80.4,133.4 L81.4,133.7 L82.4,134.0 L83.4,134.4 L84.4,135.0 L85.4,135.8 L86.4,137.0 L87.4,138.4 L88.4,139.7 L89.4,141.1 L90.4,142.5 L91.4,143.9 L92.4,145.4 L93.4,146.9 L94.4,148.5 L95.4,150.1 L96.4,151.8 L97.4,153.4 L98.4,155.0 L99.4,156.6 L100.4,158.2 L101.4,159.8 L102.4,161.4 L103.4,162.9 L104.4,164.5 L105.4,166.0 L106.4,167.5 L107.4,168.9 L108.4,170.3 L109.4,171.7 L110.4,173.0 L111.4,174.3 L112.4,175.3 L113.4,176.3 L114.4,177.5 L115.4,179.2 L116.4,181.7 L117.4,185.0 L118.4,188.5 L119.4,191.9 L120.4,195.1 L121.4,198.1 L122.4,200.7 L123.4,203.1 L124.4,205.3 L125.4,207.3 L126.4,209.0 L127.4,210.7 L128.4,212.2 L129.4,213.5 L130.4,214.6 L131.4,215.5 L132.4,216.4 L133.4,217.2 L134.4,217.9 L135.4,218.6 L136.4,219.1 L137.4,219.6 L138.4,220.0 L139.4,220.2 L140.4,220.3 L141.4,220.3 L142.4,220.3 L143.4,220.3 L144.4,220.3 L145.4,220.2 L146.4,220.1 L147.4,220.0 L148.4,219.8 L149.4,219.6 L150.4,219.3 L151.4,219.0 L152.4,218.6 L153.4,218.2 L154.4,217.8 L155.4,217.3 L156.4,216.8 L157.4,216.3 L158.4,215.8 L159.4,215.3 L160.4,214.9 L161.4,214.4 L162.4,213.9 L163.4,213.4 L164.4,212.8 L165.4,212.3 L166.4,211.8 L167.4,211.2 L168.4,210.6 L169.4,210.0 L170.4,209.4 L171.4,208.8 L172.4,208.1 L173.4,207.4 L174.4,206.7 L175.4,205.9 L176.4,205.2 L177.4,204.5 L178.4,203.7 L179.4,203.0 L180.4,202.3 L181.4,201.5 L182.4,200.8 L183.4,200.0 L184.4,199.3 L185.4,198.6 L186.4,197.8 L187.4,197.1 L188.4,196.4 L189.4,195.8 L190.4,195.1 L191.4,194.5 L192.4,193.9 L193.4,193.3 L194.4,192.7 L195.4,192.1 L196.4,191.5 L197.4,190.9 L198.4,190.3 L199.4,189.8 L200.4,189.2 L201.4,188.6 L202.4,188.0 L203.4,187.4 L204.4,186.9 L205.4,186.4 L206.4,185.9 L207.4,185.5 L208.4,185.1 L209.4,184.8 L210.4,184.4 L211.4,184.1 L212.4,183.8 L213.4,183.5 L214.4,183.3 L215.4,183.1 L216.4,182.9 L217.4,182.8 L218.4,182.6 L219.4,182.5 L220.4,182.5 L221.4,182.5 L222.4,182.5 L223.4,182.5 L224.4,182.6 L225.4,182.6 L226.4,182.7 L227.4,182.9 L228.4,183.1 L229.4,183.3 L230.4,183.6 L231.4,183.9 L232.4,184.2 L233.4,184.6 L234.4,185.1 L235.4,185.5 L236.4,186.1 L237.4,186.7 L238.4,187.3 L239.4,187.9 L240.4,188.6 L241.4,189.2 L242.4,189.9 L243.4,190.6 L244.4,191.3 L245.4,192.1 L246.4,192.9 L247.4,193.7 L248.4,194.4 L249.4,195.2 L250.4,195.9 L251.4,196.6 L252.4,197.2 L253.4,197.7 L254.4,198.2 L255.4,198.6 L256.4,199.0 L257.4,199.4 L258.4,199.7 L259.4,199.9 L260.4,200.1 L261.4,200.1 L262.4,200.1 L263.4,200.1 L264.4,200.0 L265.4,199.8 L266.4,199.6 L267.4,199.3 L268.4,198.9 L269.4,198.6 L270.4,198.2 L271.4,197.8 L272.4,197.4 L273.4,196.9 L274.4,196.5 L275.4,195.9 L276.4,195.3 L277.4,194.7 L278.4,194.1 L279.4,193.5 L280.4,193.1 L281.4,192.8 L282.4,192.7 L283.4,192.6 L284.4,192.4 L285.4,192.1 L286.4,191.6 L287.4,190.9 L288.4,189.9 L289.4,188.7 L290.4,187.4 L291.4,185.7 L292.4,183.9 L293.4,182.0 L294.4,180.0 L295.4,178.0 L296.4,176.1 L297.4,174.1 L298.4,172.1 L299.4,170.0 L300.4,168.0 L301.4,165.9 L302.4,163.9 L303.4,161.8 L304.4,159.8 L305.4,157.9 L306.4,155.9 L307.4,154.0 L308.4,152.1 L309.4,150.3 L310.4,148.4 L311.4,146.6 L312.4,144.8 L313.4,143.0 L314.4,141.2 L315.4,139.3 L316.4,137.4 L317.4,135.5 L318.4,133.6 L319.4,131.6 L320.4,129.7 L321.4,127.7 L322.4,125.8 L323.4,123.8 L324.4,121.7 L325.4,119.5 L326.4,117.1 L327.4,115.0 L328.4,113.3 L329.4,111.7 L330.4,110.0 L331.4,107.8 L332.4,105.6 L333.4,103.6 L334.4,101.6 L335.4,99.9 L336.4,98.3 L337.4,97.1 L338.4,96.2 L339.4,94.8 L340.4,92.9 L341.4,90.9 L342.4,89.1 L343.4,88.1 L344.4,87.6 L345.4,86.6 L346.4,85.3 L347.4,84.3 L348.4,83.4 L349.4,82.2 L350.4,81.7 L351.4,81.4 L352.4,80.4 L353.4,79.6 L354.4,79.4 L355.4,79.3 L356.4,78.8 L357.4,78.4 L358.4,78.5 L359.4,78.5 L360.4,78.0 L361.4,77.9 L362.4,78.3 L363.4,78.8 L364.4,79.1 L365.4,79.1 L366.4,79.4 L367.4,80.2 L368.4,81.0 L369.4,81.7 L370.4,81.9 L371.4,82.2 L372.4,83.4 L373.4,84.6 L374.4,85.7 L375.4,86.8 L376.4,88.0 L377.4,89.3 L378.4,90.7 L379.4,92.1 L380.4,92.8 L381.4,93.7 L382.4,96.0 L383.4,98.4 L384.4,99.6 L385.4,101.0 L386.4,102.9 L387.4,105.0 L388.4,107.7 L389.4,110.8 L390.4,114.1 L391.4,117.0 L392.4,119.8 L393.4,123.0 L394.4,126.2 L395.4,129.6 L396.4,133.0 L397.4,136.5 L398.4,140.0 L399.4,143.5 L400.4,147.0 L401.4,150.4 L402.4,153.7 L403.4,157.0 L404.4,160.2 L405.4,163.3 L406.4,166.4 L407.4,169.2 L408.4,172.0 L409.4,174.6 L410.4,177.1 L411.4,179.4 L412.4,181.6 L413.4,183.7 L414.4,185.6 L415.4,187.5 L416.4,189.2 L417.4,190.8 L418.4,192.3 L419.4,193.7 L420.4,195.0 L421.4,196.3 L422.4,197.6 L423.4,198.8 L424.4,199.9 L425.4,201.0 L426.4,202.1 L427.4,203.2 L428.4,204.3 L429.4,205.4 L430.4,206.5 L431.4,207.6 L432.4,208.8 L433.4,209.9 L434.4,211.1 L435.4,212.3 L436.4,213.5 L437.4,214.8 L438.4,216.1 L439.4,217.5 L440.4,219.0 L441.4,220.4 L442.4,221.9 L443.4,223.4 L444.4,224.9 L445.4,226.4 L446.4,228.0 L447.4,229.5 L448.4,231.0 L449.4,232.6 L450.4,234.1 L451.4,235.5 L452.4,236.9 L453.4,238.3 L454.4,239.7 L455.4,241.0 L456.4,242.3 L457.4,243.6 L458.4,244.9 L459.4,246.1 L460.4,247.4 L461.4,248.5 L462.4,249.7 L463.4,250.8 L464.4,252.0 L465.4,253.1 L466.4,254.1 L467.4,255.1 L468.4,256.1 L469.4,256.9 L470.4,257.8 L471.4,258.6 L472.4,259.4 L473.4,260.1 L474.4,260.9 L475.4,261.5 L476.4,262.2 L477.4,262.8 L478.4,263.4 L479.4,263.9 L480.4,264.4 L481.4,264.9 L482.4,265.4 L483.4,265.8 L484.4,266.2 L485.4,266.6 L486.4,267.0 L487.4,267.4 L488.4,267.7 L489.4,268.1 L490.4,268.4 L491.4,268.6 L492.4,268.9 L493.4,269.2 L494.4,269.4 L495.4,269.6 L496.4,269.9 L497.4,270.1 L498.4,270.3 L499.4,270.5 L500.4,270.6 L501.4,270.8 L502.4,270.9 L503.4,271.0 L504.4,271.1 L505.4,271.1 L506.4,271.2 L507.4,271.3 L508.4,271.4 L509.4,271.4 L510.4,271.5 L511.4,271.5 L512.4,271.6 L513.4,271.6 L514.4,271.6 L515.4,271.7 L516.4,271.7 L516.5,271.7" stroke="#997300" stroke-width="2.2"/>
<path d="M72.4,134.3 L73.4,134.2 L74.4,134.2 L75.4,134.3 L76.4,134.3 L77.4,134.4 L78.4,134.5 L79.4,134.6 L80.4,134.8 L81.4,135.0 L82.4,135.3 L83.4,135.7 L84.4,136.3 L85.4,137.1 L86.4,138.3 L87.4,139.6 L88.4,140.9 L89.4,142.3 L90.4,143.6 L91.4,145.0 L92.4,146.4 L93.4,147.9 L94.4,149.4 L95.4,151.0 L96.4,152.6 L97.4,154.2 L98.4,155.7 L99.4,157.3 L100.4,158.8 L101.4,160.3 L102.4,161.9 L103.4,163.4 L104.4,164.9 L105.4,166.3 L106.4,167.8 L107.4,169.2 L108.4,170.6 L109.4,171.9 L110.4,173.2 L111.4,174.4 L112.4,175.4 L113.4,176.3 L114.4,177.5 L115.4,179.2 L116.4,181.6 L117.4,184.8 L118.4,188.1 L119.4,191.3 L120.4,194.4 L121.4,197.2 L122.4,199.8 L123.4,202.1 L124.4,204.1 L125.4,206.0 L126.4,207.7 L127.4,209.3 L128.4,210.8 L129.4,212.0 L130.4,213.1 L131.4,214.0 L132.4,214.9 L133.4,215.7 L134.4,216.4 L135.4,217.1 L136.4,217.6 L137.4,218.1 L138.4,218.4 L139.4,218.6 L140.4,218.7 L141.4,218.7 L142.4,218.7 L143.4,218.7 L144.4,218.7 L145.4,218.6 L146.4,218.5 L147.4,218.3 L148.4,218.1 L149.4,217.8 L150.4,217.5 L151.4,217.2 L152.4,216.8 L153.4,216.3 L154.4,215.8 L155.4,215.3 L156.4,214.8 L157.4,214.2 L158.4,213.7 L159.4,213.1 L160.4,212.6 L161.4,212.1 L162.4,211.5 L163.4,211.0 L164.4,210.4 L165.4,209.8 L166.4,209.2 L167.4,208.6 L168.4,208.0 L169.4,207.3 L170.4,206.7 L171.4,206.0 L172.4,205.3 L173.4,204.5 L174.4,203.7 L175.4,202.9 L176.4,202.1 L177.4,201.3 L178.4,200.5 L179.4,199.7 L180.4,198.9 L181.4,198.1 L182.4,197.3 L183.4,196.5 L184.4,195.7 L185.4,194.9 L186.4,194.1 L187.4,193.3 L188.4,192.6 L189.4,191.9 L190.4,191.2 L191.4,190.5 L192.4,189.8 L193.4,189.1 L194.4,188.5 L195.4,187.9 L196.4,187.2 L197.4,186.6 L198.4,186.0 L199.4,185.4 L200.4,184.7 L201.4,184.1 L202.4,183.5 L203.4,182.9 L204.4,182.3 L205.4,181.8 L206.4,181.3 L207.4,180.9 L208.4,180.4 L209.4,180.0 L210.4,179.7 L211.4,179.3 L212.4,179.0 L213.4,178.7 L214.4,178.5 L215.4,178.3 L216.4,178.1 L217.4,178.0 L218.4,177.8 L219.4,177.8 L220.4,177.7 L221.4,177.7 L222.4,177.8 L223.4,177.8 L224.4,177.9 L225.4,177.9 L226.4,178.0 L227.4,178.2 L228.4,178.5 L229.4,178.7 L230.4,179.0 L231.4,179.4 L232.4,179.8 L233.4,180.2 L234.4,180.7 L235.4,181.2 L236.4,181.8 L237.4,182.5 L238.4,183.2 L239.4,183.9 L240.4,184.6 L241.4,185.4 L242.4,186.1 L243.4,186.9 L244.4,187.7 L245.4,188.6 L246.4,189.5 L247.4,190.4 L248.4,191.3 L249.4,192.1 L250.4,193.0 L251.4,193.7 L252.4,194.4 L253.4,195.1 L254.4,195.7 L255.4,196.3 L256.4,196.8 L257.4,197.2 L258.4,197.6 L259.4,198.0 L260.4,198.2 L261.4,198.4 L262.4,198.5 L263.4,198.6 L264.4,198.6 L265.4,198.5 L266.4,198.4 L267.4,198.2 L268.4,198.0 L269.4,197.7 L270.4,197.4 L271.4,197.1 L272.4,196.8 L273.4,196.4 L274.4,196.1 L275.4,195.6 L276.4,195.1 L277.4,194.6 L278.4,194.1 L279.4,193.5 L280.4,193.2 L281.4,193.0 L282.4,192.9 L283.4,192.8 L284.4,192.7 L285.4,192.4 L286.4,192.0 L287.4,191.3 L288.4,190.4 L289.4,189.3 L290.4,188.1 L291.4,186.6 L292.4,184.9 L293.4,183.0 L294.4,181.1 L295.4,179.3 L296.4,177.4 L297.4,175.6 L298.4,173.6 L299.4,171.6 L300.4,169.7 L301.4,167.7 L302.4,165.7 L303.4,163.7 L304.4,161.8 L305.4,159.9 L306.4,158.0 L307.4,156.2 L308.4,154.4 L309.4,152.6 L310.4,150.8 L311.4,149.0 L312.4,147.3 L313.4,145.5 L314.4,143.7 L315.4,141.9 L316.4,140.0 L317.4,138.1 L318.4,136.2 L319.4,134.3 L320.4,132.4 L321.4,130.5 L322.4,128.6 L323.4,126.8 L324.4,124.7 L325.4,122.6 L326.4,120.8 L327.4,118.8 L328.4,116.8 L329.4,114.8 L330.4,112.6 L331.4,110.6 L332.4,108.8 L333.4,107.0 L334.4,105.3 L335.4,103.9 L336.4,102.6 L337.4,100.9 L338.4,99.3 L339.4,97.5 L340.4,95.5 L341.4,94.3 L342.4,93.3 L343.4,92.2 L344.4,91.1 L345.4,89.9 L346.4,88.8 L347.4,87.7 L348.4,86.7 L349.4,85.7 L350.4,84.9 L351.4,84.5 L352.4,83.8 L353.4,83.2 L354.4,82.9 L355.4,82.6 L356.4,81.9 L357.4,81.3 L358.4,81.3 L359.4,81.6 L360.4,81.9 L361.4,81.9 L362.4,81.9 L363.4,82.0 L364.4,82.1 L365.4,82.4 L366.4,82.8 L367.4,83.5 L368.4,84.6 L369.4,85.5 L370.4,86.0 L371.4,86.2 L372.4,86.8 L373.4,88.3 L374.4,89.4 L375.4,90.3 L376.4,91.5 L377.4,92.2 L378.4,93.0 L379.4,95.1 L380.4,97.4 L381.4,98.8 L382.4,100.1 L383.4,101.1 L384.4,101.9 L385.4,103.3 L386.4,105.6 L387.4,108.1 L388.4,110.6 L389.4,113.6 L390.4,117.0 L391.4,119.9 L392.4,122.5 L393.4,125.7 L394.4,129.1 L395.4,132.4 L396.4,135.8 L397.4,139.2 L398.4,142.6 L399.4,146.1 L400.4,149.5 L401.4,152.8 L402.4,156.1 L403.4,159.3 L404.4,162.5 L405.4,165.5 L406.4,168.4 L407.4,171.2 L408.4,173.9 L409.4,176.4 L410.4,178.9 L411.4,181.1 L412.4,183.3 L413.4,185.3 L414.4,187.2 L415.4,188.9 L416.4,190.6 L417.4,192.1 L418.4,193.6 L419.4,195.0 L420.4,196.3 L421.4,197.5 L422.4,198.7 L423.4,199.9 L424.4,201.0 L425.4,202.1 L426.4,203.1 L427.4,204.2 L428.4,205.3 L429.4,206.3 L430.4,207.4 L431.4,208.5 L432.4,209.6 L433.4,210.7 L434.4,211.9 L435.4,213.1 L436.4,214.3 L437.4,215.6 L438.4,216.9 L439.4,218.3 L440.4,219.7 L441.4,221.1 L442.4,222.6 L443.4,224.1 L444.4,225.6 L445.4,227.1 L446.4,228.6 L447.4,230.1 L448.4,231.6 L449.4,233.1 L450.4,234.6 L451.4,236.0 L452.4,237.4 L453.4,238.8 L454.4,240.1 L455.4,241.5 L456.4,242.8 L457.4,244.0 L458.4,245.3 L459.4,246.5 L460.4,247.7 L461.4,248.9 L462.4,250.0 L463.4,251.1 L464.4,252.2 L465.4,253.3 L466.4,254.4 L467.4,255.3 L468.4,256.3 L469.4,257.1 L470.4,257.9 L471.4,258.7 L472.4,259.5 L473.4,260.2 L474.4,261.0 L475.4,261.6 L476.4,262.3 L477.4,262.9 L478.4,263.4 L479.4,263.9 L480.4,264.4 L481.4,264.9 L482.4,265.4 L483.4,265.8 L484.4,266.3 L485.4,266.7 L486.4,267.1 L487.4,267.4 L488.4,267.8 L489.4,268.1 L490.4,268.4 L491.4,268.7 L492.4,268.9 L493.4,269.2 L494.4,269.4 L495.4,269.7 L496.4,269.9 L497.4,270.1 L498.4,270.3 L499.4,270.5 L500.4,270.6 L501.4,270.8 L502.4,270.9 L503.4,271.0 L504.4,271.1 L505.4,271.1 L506.4,271.2 L507.4,271.3 L508.4,271.4 L509.4,271.4 L510.4,271.5 L511.4,271.5 L512.4,271.6 L513.4,271.6 L514.4,271.6 L515.4,271.7 L516.4,271.7 L516.5,271.7" stroke="#264478" stroke-width="2.2"/>
<path d="M72.4,135.5 L73.4,135.5 L74.4,135.5 L75.4,135.5 L76.4,135.6 L77.4,135.7 L78.4,135.8 L79.4,135.9 L80.4,136.1 L81.4,136.3 L82.4,136.6 L83.4,137.0 L84.4,137.6 L85.4,138.3 L86.4,139.5 L87.4,140.8 L88.4,142.0 L89.4,143.3 L90.4,144.6 L91.4,146.0 L92.4,147.3 L93.4,148.8 L94.4,150.3 L95.4,151.8 L96.4,153.3 L97.4,154.9 L98.4,156.4 L99.4,157.9 L100.4,159.4 L101.4,160.9 L102.4,162.3 L103.4,163.8 L104.4,165.2 L105.4,166.7 L106.4,168.0 L107.4,169.4 L108.4,170.8 L109.4,172.1 L110.4,173.3 L111.4,174.5 L112.4,175.5 L113.4,176.4 L114.4,177.6 L115.4,179.2 L116.4,181.5 L117.4,184.6 L118.4,187.8 L119.4,190.9 L120.4,193.8 L121.4,196.5 L122.4,198.9 L123.4,201.1 L124.4,203.2 L125.4,205.0 L126.4,206.6 L127.4,208.1 L128.4,209.5 L129.4,210.8 L130.4,211.8 L131.4,212.7 L132.4,213.6 L133.4,214.4 L134.4,215.1 L135.4,215.7 L136.4,216.3 L137.4,216.8 L138.4,217.1 L139.4,217.3 L140.4,217.3 L141.4,217.3 L142.4,217.3 L143.4,217.3 L144.4,217.2 L145.4,217.2 L146.4,217.0 L147.4,216.8 L148.4,216.6 L149.4,216.3 L150.4,216.0 L151.4,215.6 L152.4,215.1 L153.4,214.7 L154.4,214.1 L155.4,213.6 L156.4,213.0 L157.4,212.4 L158.4,211.8 L159.4,211.2 L160.4,210.7 L161.4,210.1 L162.4,209.5 L163.4,208.9 L164.4,208.3 L165.4,207.7 L166.4,207.0 L167.4,206.4 L168.4,205.7 L169.4,205.0 L170.4,204.3 L171.4,203.5 L172.4,202.8 L173.4,202.0 L174.4,201.1 L175.4,200.3 L176.4,199.4 L177.4,198.6 L178.4,197.7 L179.4,196.9 L180.4,196.0 L181.4,195.2 L182.4,194.3 L183.4,193.4 L184.4,192.6 L185.4,191.7 L186.4,190.9 L187.4,190.0 L188.4,189.2 L189.4,188.5 L190.4,187.7 L191.4,187.0 L192.4,186.3 L193.4,185.6 L194.4,184.9 L195.4,184.2 L196.4,183.5 L197.4,182.9 L198.4,182.2 L199.4,181.5 L200.4,180.9 L201.4,180.2 L202.4,179.5 L203.4,178.9 L204.4,178.3 L205.4,177.7 L206.4,177.2 L207.4,176.7 L208.4,176.3 L209.4,175.9 L210.4,175.5 L211.4,175.2 L212.4,174.8 L213.4,174.6 L214.4,174.3 L215.4,174.1 L216.4,173.9 L217.4,173.8 L218.4,173.7 L219.4,173.6 L220.4,173.6 L221.4,173.6 L222.4,173.6 L223.4,173.7 L224.4,173.7 L225.4,173.8 L226.4,174.0 L227.4,174.2 L228.4,174.4 L229.4,174.7 L230.4,175.0 L231.4,175.4 L232.4,175.8 L233.4,176.3 L234.4,176.9 L235.4,177.4 L236.4,178.1 L237.4,178.8 L238.4,179.6 L239.4,180.4 L240.4,181.2 L241.4,182.0 L242.4,182.8 L243.4,183.7 L244.4,184.6 L245.4,185.5 L246.4,186.5 L247.4,187.5 L248.4,188.5 L249.4,189.5 L250.4,190.4 L251.4,191.3 L252.4,192.1 L253.4,192.8 L254.4,193.5 L255.4,194.2 L256.4,194.8 L257.4,195.3 L258.4,195.8 L259.4,196.3 L260.4,196.6 L261.4,196.9 L262.4,197.2 L263.4,197.3 L264.4,197.4 L265.4,197.4 L266.4,197.4 L267.4,197.3 L268.4,197.2 L269.4,197.0 L270.4,196.8 L271.4,196.5 L272.4,196.3 L273.4,196.0 L274.4,195.7 L275.4,195.3 L276.4,194.9 L277.4,194.5 L278.4,194.0 L279.4,193.6 L280.4,193.3 L281.4,193.2 L282.4,193.1 L283.4,193.1 L284.4,193.0 L285.4,192.7 L286.4,192.3 L287.4,191.8 L288.4,191.0 L289.4,190.0 L290.4,188.8 L291.4,187.4 L292.4,185.8 L293.4,184.1 L294.4,182.3 L295.4,180.5 L296.4,178.8 L297.4,177.0 L298.4,175.1 L299.4,173.2 L300.4,171.3 L301.4,169.4 L302.4,167.5 L303.4,165.6 L304.4,163.7 L305.4,161.9 L306.4,160.1 L307.4,158.3 L308.4,156.6 L309.4,154.8 L310.4,153.1 L311.4,151.4 L312.4,149.7 L313.4,148.0 L314.4,146.2 L315.4,144.4 L316.4,142.6 L317.4,140.8 L318.4,138.9 L319.4,137.0 L320.4,135.2 L321.4,133.3 L322.4,131.4 L323.4,129.5 L324.4,127.7 L325.4,125.8 L326.4,124.0 L327.4,122.0 L328.4,119.6 L329.4,117.6 L330.4,115.9 L331.4,114.3 L332.4,112.7 L333.4,111.0 L334.4,108.9 L335.4,106.8 L336.4,105.2 L337.4,103.8 L338.4,102.5 L339.4,101.0 L340.4,99.6 L341.4,98.3 L342.4,96.6 L343.4,94.9 L344.4,93.6 L345.4,92.6 L346.4,91.8 L347.4,91.3 L348.4,90.3 L349.4,89.1 L350.4,88.4 L351.4,87.7 L352.4,87.1 L353.4,86.5 L354.4,86.3 L355.4,86.1 L356.4,85.8 L357.4,85.4 L358.4,85.2 L359.4,85.4 L360.4,85.6 L361.4,85.9 L362.4,86.1 L363.4,86.3 L364.4,86.1 L365.4,86.1 L366.4,86.4 L367.4,86.7 L368.4,87.2 L369.4,88.0 L370.4,88.5 L371.4,89.5 L372.4,90.6 L373.4,91.2 L374.4,91.8 L375.4,93.3 L376.4,95.1 L377.4,96.0 L378.4,97.1 L379.4,98.7 L380.4,100.3 L381.4,101.3 L382.4,102.5 L383.4,104.1 L384.4,105.6 L385.4,107.0 L386.4,108.9 L387.4,111.5 L388.4,114.4 L389.4,117.3 L390.4,119.9 L391.4,122.9 L392.4,125.9 L393.4,128.8 L394.4,132.1 L395.4,135.3 L396.4,138.5 L397.4,141.9 L398.4,145.3 L399.4,148.6 L400.4,152.0 L401.4,155.2 L402.4,158.4 L403.4,161.6 L404.4,164.7 L405.4,167.7 L406.4,170.5 L407.4,173.2 L408.4,175.8 L409.4,178.3 L410.4,180.6 L411.4,182.9 L412.4,184.9 L413.4,186.9 L414.4,188.7 L415.4,190.4 L416.4,192.0 L417.4,193.5 L418.4,194.9 L419.4,196.2 L420.4,197.5 L421.4,198.7 L422.4,199.8 L423.4,201.0 L424.4,202.0 L425.4,203.1 L426.4,204.1 L427.4,205.2 L428.4,206.2 L429.4,207.2 L430.4,208.3 L431.4,209.4 L432.4,210.4 L433.4,211.5 L434.4,212.7 L435.4,213.8 L436.4,215.1 L437.4,216.3 L438.4,217.7 L439.4,219.0 L440.4,220.4 L441.4,221.9 L442.4,223.3 L443.4,224.8 L444.4,226.3 L445.4,227.8 L446.4,229.2 L447.4,230.7 L448.4,232.2 L449.4,233.7 L450.4,235.1 L451.4,236.5 L452.4,237.9 L453.4,239.3 L454.4,240.6 L455.4,241.9 L456.4,243.2 L457.4,244.4 L458.4,245.6 L459.4,246.9 L460.4,248.0 L461.4,249.2 L462.4,250.3 L463.4,251.4 L464.4,252.5 L465.4,253.5 L466.4,254.6 L467.4,255.5 L468.4,256.4 L469.4,257.3 L470.4,258.1 L471.4,258.9 L472.4,259.6 L473.4,260.4 L474.4,261.0 L475.4,261.7 L476.4,262.3 L477.4,262.9 L478.4,263.5 L479.4,264.0 L480.4,264.5 L481.4,265.0 L482.4,265.4 L483.4,265.9 L484.4,266.3 L485.4,266.7 L486.4,267.1 L487.4,267.5 L488.4,267.8 L489.4,268.1 L490.4,268.4 L491.4,268.7 L492.4,268.9 L493.4,269.2 L494.4,269.4 L495.4,269.7 L496.4,269.9 L497.4,270.1 L498.4,270.3 L499.4,270.5 L500.4,270.6 L501.4,270.8 L502.4,270.9 L503.4,271.0 L504.4,271.1 L505.4,271.1 L506.4,271.2 L507.4,271.3 L508.4,271.4 L509.4,271.4 L510.4,271.5 L511.4,271.6 L512.4,271.6 L513.4,271.6 L514.4,271.7 L515.4,271.7 L516.4,271.7 L516.5,271.7" stroke="#43682B" stroke-width="2.2"/>
<path d="M72.4,136.6 L73.4,136.6 L74.4,136.6 L75.4,136.7 L76.4,136.7 L77.4,136.8 L78.4,136.9 L79.4,137.1 L80.4,137.2 L81.4,137.4 L82.4,137.8 L83.4,138.1 L84.4,138.7 L85.4,139.5 L86.4,140.6 L87.4,141.8 L88.4,143.0 L89.4,144.3 L90.4,145.6 L91.4,146.9 L92.4,148.2 L93.4,149.6 L94.4,151.0 L95.4,152.5 L96.4,154.0 L97.4,155.5 L98.4,157.0 L99.4,158.5 L100.4,159.9 L101.4,161.3 L102.4,162.7 L103.4,164.2 L104.4,165.6 L105.4,167.0 L106.4,168.3 L107.4,169.6 L108.4,170.9 L109.4,172.2 L110.4,173.4 L111.4,174.6 L112.4,175.5 L113.4,176.5 L114.4,177.6 L115.4,179.2 L116.4,181.5 L117.4,184.4 L118.4,187.5 L119.4,190.4 L120.4,193.2 L121.4,195.8 L122.4,198.1 L123.4,200.2 L124.4,202.2 L125.4,203.9 L126.4,205.5 L127.4,206.9 L128.4,208.3 L129.4,209.5 L130.4,210.5 L131.4,211.4 L132.4,212.3 L133.4,213.1 L134.4,213.8 L135.4,214.4 L136.4,215.0 L137.4,215.4 L138.4,215.7 L139.4,215.9 L140.4,216.0 L141.4,216.0 L142.4,215.9 L143.4,215.9 L144.4,215.8 L145.4,215.7 L146.4,215.6 L147.4,215.3 L148.4,215.1 L149.4,214.7 L150.4,214.4 L151.4,214.0 L152.4,213.5 L153.4,213.0 L154.4,212.4 L155.4,211.8 L156.4,211.2 L157.4,210.6 L158.4,209.9 L159.4,209.3 L160.4,208.7 L161.4,208.1 L162.4,207.5 L163.4,206.8 L164.4,206.2 L165.4,205.5 L166.4,204.8 L167.4,204.1 L168.4,203.4 L169.4,202.7 L170.4,201.9 L171.4,201.1 L172.4,200.3 L173.4,199.4 L174.4,198.5 L175.4,197.6 L176.4,196.7 L177.4,195.8 L178.4,194.9 L179.4,194.0 L180.4,193.1 L181.4,192.2 L182.4,191.3 L183.4,190.4 L184.4,189.4 L185.4,188.5 L186.4,187.6 L187.4,186.7 L188.4,185.9 L189.4,185.0 L190.4,184.3 L191.4,183.5 L192.4,182.7 L193.4,182.0 L194.4,181.2 L195.4,180.5 L196.4,179.8 L197.4,179.1 L198.4,178.4 L199.4,177.7 L200.4,177.0 L201.4,176.3 L202.4,175.6 L203.4,174.9 L204.4,174.2 L205.4,173.7 L206.4,173.1 L207.4,172.6 L208.4,172.2 L209.4,171.8 L210.4,171.4 L211.4,171.0 L212.4,170.7 L213.4,170.4 L214.4,170.1 L215.4,169.9 L216.4,169.8 L217.4,169.6 L218.4,169.5 L219.4,169.4 L220.4,169.4 L221.4,169.4 L222.4,169.5 L223.4,169.5 L224.4,169.6 L225.4,169.7 L226.4,169.9 L227.4,170.1 L228.4,170.4 L229.4,170.7 L230.4,171.0 L231.4,171.5 L232.4,171.9 L233.4,172.5 L234.4,173.0 L235.4,173.7 L236.4,174.4 L237.4,175.2 L238.4,176.1 L239.4,176.9 L240.4,177.8 L241.4,178.6 L242.4,179.5 L243.4,180.5 L244.4,181.4 L245.4,182.5 L246.4,183.6 L247.4,184.7 L248.4,185.8 L249.4,186.8 L250.4,187.8 L251.4,188.8 L252.4,189.7 L253.4,190.5 L254.4,191.3 L255.4,192.1 L256.4,192.8 L257.4,193.4 L258.4,194.0 L259.4,194.6 L260.4,195.0 L261.4,195.4 L262.4,195.8 L263.4,196.0 L264.4,196.2 L265.4,196.3 L266.4,196.4 L267.4,196.4 L268.4,196.4 L269.4,196.3 L270.4,196.1 L271.4,196.0 L272.4,195.8 L273.4,195.6 L274.4,195.3 L275.4,195.0 L276.4,194.7 L277.4,194.3 L278.4,194.0 L279.4,193.6 L280.4,193.4 L281.4,193.3 L282.4,193.3 L283.4,193.3 L284.4,193.2 L285.4,193.0 L286.4,192.7 L287.4,192.1 L288.4,191.4 L289.4,190.5 L290.4,189.4 L291.4,188.1 L292.4,186.6 L293.4,184.9 L294.4,183.3 L295.4,181.6 L296.4,179.9 L297.4,178.2 L298.4,176.4 L299.4,174.6 L300.4,172.8 L301.4,170.9 L302.4,169.1 L303.4,167.2 L304.4,165.4 L305.4,163.7 L306.4,161.9 L307.4,160.2 L308.4,158.5 L309.4,156.8 L310.4,155.1 L311.4,153.4 L312.4,151.8 L313.4,150.1 L314.4,148.4 L315.4,146.6 L316.4,144.8 L317.4,143.0 L318.4,141.2 L319.4,139.4 L320.4,137.5 L321.4,135.7 L322.4,133.7 L323.4,131.9 L324.4,130.2 L325.4,128.5 L326.4,126.3 L327.4,123.8 L328.4,121.8 L329.4,120.3 L330.4,118.6 L331.4,117.0 L332.4,115.4 L333.4,113.4 L334.4,111.8 L335.4,110.1 L336.4,107.9 L337.4,105.9 L338.4,104.8 L339.4,104.1 L340.4,102.8 L341.4,101.3 L342.4,99.9 L343.4,98.5 L344.4,97.4 L345.4,96.2 L346.4,94.9 L347.4,93.7 L348.4,92.8 L349.4,92.1 L350.4,91.6 L351.4,91.1 L352.4,90.2 L353.4,89.2 L354.4,88.8 L355.4,89.3 L356.4,89.6 L357.4,88.6 L358.4,88.0 L359.4,88.4 L360.4,88.6 L361.4,88.7 L362.4,89.0 L363.4,89.1 L364.4,89.1 L365.4,89.3 L366.4,89.8 L367.4,90.2 L368.4,90.8 L369.4,91.1 L370.4,91.6 L371.4,92.4 L372.4,93.4 L373.4,94.0 L374.4,95.0 L375.4,96.4 L376.4,97.6 L377.4,98.5 L378.4,99.6 L379.4,101.3 L380.4,103.1 L381.4,104.5 L382.4,105.8 L383.4,107.1 L384.4,108.5 L385.4,110.3 L386.4,112.4 L387.4,114.7 L388.4,117.4 L389.4,120.4 L390.4,123.0 L391.4,125.5 L392.4,128.1 L393.4,131.3 L394.4,134.6 L395.4,137.8 L396.4,141.0 L397.4,144.2 L398.4,147.5 L399.4,150.8 L400.4,154.1 L401.4,157.3 L402.4,160.4 L403.4,163.5 L404.4,166.6 L405.4,169.5 L406.4,172.3 L407.4,175.0 L408.4,177.5 L409.4,179.9 L410.4,182.2 L411.4,184.3 L412.4,186.3 L413.4,188.2 L414.4,190.0 L415.4,191.7 L416.4,193.2 L417.4,194.7 L418.4,196.0 L419.4,197.3 L420.4,198.5 L421.4,199.7 L422.4,200.8 L423.4,201.9 L424.4,203.0 L425.4,204.0 L426.4,205.0 L427.4,206.0 L428.4,207.0 L429.4,208.0 L430.4,209.1 L431.4,210.1 L432.4,211.2 L433.4,212.2 L434.4,213.4 L435.4,214.5 L436.4,215.7 L437.4,217.0 L438.4,218.3 L439.4,219.7 L440.4,221.1 L441.4,222.5 L442.4,223.9 L443.4,225.4 L444.4,226.9 L445.4,228.3 L446.4,229.8 L447.4,231.3 L448.4,232.7 L449.4,234.2 L450.4,235.6 L451.4,237.0 L452.4,238.3 L453.4,239.7 L454.4,241.0 L455.4,242.3 L456.4,243.5 L457.4,244.8 L458.4,246.0 L459.4,247.2 L460.4,248.3 L461.4,249.5 L462.4,250.6 L463.4,251.6 L464.4,252.7 L465.4,253.8 L466.4,254.8 L467.4,255.7 L468.4,256.6 L469.4,257.4 L470.4,258.2 L471.4,259.0 L472.4,259.7 L473.4,260.4 L474.4,261.1 L475.4,261.8 L476.4,262.4 L477.4,263.0 L478.4,263.5 L479.4,264.1 L480.4,264.5 L481.4,265.0 L482.4,265.5 L483.4,265.9 L484.4,266.3 L485.4,266.7 L486.4,267.1 L487.4,267.5 L488.4,267.8 L489.4,268.1 L490.4,268.4 L491.4,268.7 L492.4,268.9 L493.4,269.2 L494.4,269.4 L495.4,269.7 L496.4,269.9 L497.4,270.1 L498.4,270.3 L499.4,270.5 L500.4,270.6 L501.4,270.8 L502.4,270.9 L503.4,271.0 L504.4,271.1 L505.4,271.1 L506.4,271.2 L507.4,271.3 L508.4,271.4 L509.4,271.4 L510.4,271.5 L511.4,271.6 L512.4,271.6 L513.4,271.6 L514.4,271.7 L515.4,271.7 L516.4,271.7 L516.5,271.7" stroke="#7CAFDD" stroke-width="2.2"/>
<path d="M72.4,137.8 L73.4,137.8 L74.4,137.8 L75.4,137.8 L76.4,137.9 L77.4,138.0 L78.4,138.1 L79.4,138.2 L80.4,138.4 L81.4,138.6 L82.4,138.9 L83.4,139.3 L84.4,139.8 L85.4,140.6 L86.4,141.7 L87.4,142.9 L88.4,144.0 L89.4,145.3 L90.4,146.5 L91.4,147.7 L92.4,149.0 L93.4,150.4 L94.4,151.8 L95.4,153.3 L96.4,154.7 L97.4,156.2 L98.4,157.6 L99.4,159.0 L100.4,160.4 L101.4,161.8 L102.4,163.2 L103.4,164.5 L104.4,165.9 L105.4,167.2 L106.4,168.6 L107.4,169.8 L108.4,171.1 L109.4,172.4 L110.4,173.5 L111.4,174.7 L112.4,175.6 L113.4,176.5 L114.4,177.6 L115.4,179.2 L116.4,181.4 L117.4,184.2 L118.4,187.2 L119.4,190.0 L120.4,192.7 L121.4,195.2 L122.4,197.4 L123.4,199.5 L124.4,201.3 L125.4,203.0 L126.4,204.5 L127.4,205.9 L128.4,207.2 L129.4,208.4 L130.4,209.4 L131.4,210.3 L132.4,211.1 L133.4,211.9 L134.4,212.7 L135.4,213.3 L136.4,213.8 L137.4,214.3 L138.4,214.6 L139.4,214.8 L140.4,214.8 L141.4,214.8 L142.4,214.7 L143.4,214.7 L144.4,214.6 L145.4,214.5 L146.4,214.3 L147.4,214.1 L148.4,213.8 L149.4,213.4 L150.4,213.1 L151.4,212.6 L152.4,212.1 L153.4,211.6 L154.4,211.0 L155.4,210.3 L156.4,209.7 L157.4,209.0 L158.4,208.3 L159.4,207.7 L160.4,207.0 L161.4,206.4 L162.4,205.7 L163.4,205.0 L164.4,204.3 L165.4,203.6 L166.4,202.9 L167.4,202.2 L168.4,201.4 L169.4,200.7 L170.4,199.9 L171.4,199.0 L172.4,198.1 L173.4,197.2 L174.4,196.3 L175.4,195.4 L176.4,194.4 L177.4,193.5 L178.4,192.5 L179.4,191.5 L180.4,190.6 L181.4,189.7 L182.4,188.7 L183.4,187.7 L184.4,186.7 L185.4,185.8 L186.4,184.8 L187.4,183.9 L188.4,183.0 L189.4,182.1 L190.4,181.3 L191.4,180.5 L192.4,179.7 L193.4,178.9 L194.4,178.1 L195.4,177.4 L196.4,176.6 L197.4,175.9 L198.4,175.2 L199.4,174.4 L200.4,173.7 L201.4,172.9 L202.4,172.2 L203.4,171.5 L204.4,170.8 L205.4,170.2 L206.4,169.6 L207.4,169.1 L208.4,168.7 L209.4,168.2 L210.4,167.8 L211.4,167.4 L212.4,167.1 L213.4,166.8 L214.4,166.6 L215.4,166.4 L216.4,166.2 L217.4,166.0 L218.4,165.9 L219.4,165.8 L220.4,165.8 L221.4,165.8 L222.4,165.9 L223.4,166.0 L224.4,166.1 L225.4,166.2 L226.4,166.4 L227.4,166.6 L228.4,166.9 L229.4,167.2 L230.4,167.6 L231.4,168.1 L232.4,168.6 L233.4,169.1 L234.4,169.8 L235.4,170.4 L236.4,171.2 L237.4,172.1 L238.4,173.0 L239.4,173.9 L240.4,174.8 L241.4,175.7 L242.4,176.7 L243.4,177.7 L244.4,178.8 L245.4,179.9 L246.4,181.1 L247.4,182.2 L248.4,183.4 L249.4,184.5 L250.4,185.6 L251.4,186.6 L252.4,187.6 L253.4,188.6 L254.4,189.4 L255.4,190.3 L256.4,191.1 L257.4,191.8 L258.4,192.5 L259.4,193.1 L260.4,193.7 L261.4,194.1 L262.4,194.6 L263.4,194.9 L264.4,195.2 L265.4,195.4 L266.4,195.5 L267.4,195.6 L268.4,195.6 L269.4,195.6 L270.4,195.5 L271.4,195.5 L272.4,195.4 L273.4,195.2 L274.4,195.0 L275.4,194.8 L276.4,194.5 L277.4,194.2 L278.4,193.9 L279.4,193.6 L280.4,193.5 L281.4,193.4 L282.4,193.5 L283.4,193.5 L284.4,193.4 L285.4,193.2 L286.4,192.9 L287.4,192.4 L288.4,191.8 L289.4,190.9 L290.4,189.9 L291.4,188.6 L292.4,187.2 L293.4,185.6 L294.4,184.0 L295.4,182.4 L296.4,180.8 L297.4,179.2 L298.4,177.4 L299.4,175.7 L300.4,173.9 L301.4,172.1 L302.4,170.2 L303.4,168.5 L304.4,166.7 L305.4,165.0 L306.4,163.3 L307.4,161.6 L308.4,159.9 L309.4,158.3 L310.4,156.6 L311.4,155.0 L312.4,153.3 L313.4,151.7 L314.4,150.0 L315.4,148.3 L316.4,146.5 L317.4,144.7 L318.4,142.9 L319.4,141.2 L320.4,139.4 L321.4,137.6 L322.4,135.7 L323.4,133.9 L324.4,132.1 L325.4,130.2 L326.4,128.2 L327.4,126.3 L328.4,124.4 L329.4,122.5 L330.4,120.7 L331.4,118.8 L332.4,117.1 L333.4,115.8 L334.4,114.0 L335.4,111.8 L336.4,110.0 L337.4,108.6 L338.4,107.1 L339.4,105.7 L340.4,104.5 L341.4,103.0 L342.4,101.7 L343.4,100.8 L344.4,99.5 L345.4,98.0 L346.4,96.6 L347.4,95.5 L348.4,94.9 L349.4,94.7 L350.4,94.0 L351.4,93.1 L352.4,92.4 L353.4,91.9 L354.4,91.3 L355.4,91.2 L356.4,91.1 L357.4,90.8 L358.4,90.8 L359.4,90.8 L360.4,90.8 L361.4,90.9 L362.4,91.2 L363.4,91.5 L364.4,91.2 L365.4,91.0 L366.4,91.7 L367.4,92.4 L368.4,92.4 L369.4,92.7 L370.4,93.7 L371.4,94.6 L372.4,95.2 L373.4,96.2 L374.4,97.3 L375.4,98.3 L376.4,99.5 L377.4,100.6 L378.4,101.9 L379.4,103.7 L380.4,105.5 L381.4,106.9 L382.4,108.1 L383.4,109.2 L384.4,110.6 L385.4,112.5 L386.4,114.9 L387.4,117.3 L388.4,119.6 L389.4,122.1 L390.4,124.7 L391.4,127.6 L392.4,130.6 L393.4,133.6 L394.4,136.7 L395.4,139.8 L396.4,142.8 L397.4,146.0 L398.4,149.3 L399.4,152.5 L400.4,155.7 L401.4,158.9 L402.4,162.0 L403.4,165.0 L404.4,168.0 L405.4,170.9 L406.4,173.7 L407.4,176.3 L408.4,178.7 L409.4,181.1 L410.4,183.4 L411.4,185.5 L412.4,187.4 L413.4,189.3 L414.4,191.0 L415.4,192.6 L416.4,194.2 L417.4,195.6 L418.4,196.9 L419.4,198.2 L420.4,199.3 L421.4,200.5 L422.4,201.6 L423.4,202.6 L424.4,203.7 L425.4,204.7 L426.4,205.6 L427.4,206.6 L428.4,207.6 L429.4,208.6 L430.4,209.6 L431.4,210.7 L432.4,211.7 L433.4,212.8 L434.4,213.9 L435.4,215.0 L436.4,216.2 L437.4,217.5 L438.4,218.8 L439.4,220.2 L440.4,221.6 L441.4,223.0 L442.4,224.4 L443.4,225.8 L444.4,227.3 L445.4,228.7 L446.4,230.2 L447.4,231.7 L448.4,233.1 L449.4,234.5 L450.4,235.9 L451.4,237.3 L452.4,238.7 L453.4,240.0 L454.4,241.3 L455.4,242.5 L456.4,243.8 L457.4,245.0 L458.4,246.2 L459.4,247.4 L460.4,248.5 L461.4,249.7 L462.4,250.8 L463.4,251.8 L464.4,252.9 L465.4,253.9 L466.4,254.9 L467.4,255.8 L468.4,256.7 L469.4,257.5 L470.4,258.3 L471.4,259.1 L472.4,259.8 L473.4,260.5 L474.4,261.2 L475.4,261.8 L476.4,262.5 L477.4,263.0 L478.4,263.6 L479.4,264.1 L480.4,264.6 L481.4,265.0 L482.4,265.5 L483.4,265.9 L484.4,266.4 L485.4,266.8 L486.4,267.1 L487.4,267.5 L488.4,267.8 L489.4,268.1 L490.4,268.4 L491.4,268.7 L492.4,269.0 L493.4,269.2 L494.4,269.5 L495.4,269.7 L496.4,269.9 L497.4,270.1 L498.4,270.3 L499.4,270.5 L500.4,270.6 L501.4,270.8 L502.4,270.9 L503.4,271.0 L504.4,271.1 L505.4,271.2 L506.4,271.2 L507.4,271.3 L508.4,271.4 L509.4,271.4 L510.4,271.5 L511.4,271.6 L512.4,271.6 L513.4,271.6 L514.4,271.7 L515.4,271.7 L516.4,271.7 L516.5,271.7" stroke="#F1975A" stroke-width="2.2"/>
<path d="M72.4,138.7 L73.4,138.7 L74.4,138.7 L75.4,138.8 L76.4,138.9 L77.4,139.0 L78.4,139.1 L79.4,139.2 L80.4,139.4 L81.4,139.6 L82.4,139.9 L83.4,140.3 L84.4,140.8 L85.4,141.5 L86.4,142.6 L87.4,143.8 L88.4,144.9 L89.4,146.1 L90.4,147.3 L91.4,148.5 L92.4,149.8 L93.4,151.1 L94.4,152.5 L95.4,153.9 L96.4,155.3 L97.4,156.7 L98.4,158.1 L99.4,159.5 L100.4,160.9 L101.4,162.2 L102.4,163.5 L103.4,164.9 L104.4,166.2 L105.4,167.5 L106.4,168.8 L107.4,170.0 L108.4,171.3 L109.4,172.5 L110.4,173.6 L111.4,174.7 L112.4,175.7 L113.4,176.6 L114.4,177.7 L115.4,179.2 L116.4,181.3 L117.4,184.0 L118.4,186.9 L119.4,189.6 L120.4,192.2 L121.4,194.6 L122.4,196.7 L123.4,198.6 L124.4,200.4 L125.4,202.0 L126.4,203.5 L127.4,204.9 L128.4,206.1 L129.4,207.3 L130.4,208.2 L131.4,209.1 L132.4,210.0 L133.4,210.7 L134.4,211.5 L135.4,212.1 L136.4,212.6 L137.4,213.1 L138.4,213.4 L139.4,213.5 L140.4,213.6 L141.4,213.5 L142.4,213.5 L143.4,213.4 L144.4,213.3 L145.4,213.2 L146.4,213.0 L147.4,212.7 L148.4,212.4 L149.4,212.0 L150.4,211.6 L151.4,211.2 L152.4,210.6 L153.4,210.0 L154.4,209.4 L155.4,208.7 L156.4,208.0 L157.4,207.3 L158.4,206.6 L159.4,205.9 L160.4,205.2 L161.4,204.5 L162.4,203.8 L163.4,203.1 L164.4,202.4 L165.4,201.7 L166.4,200.9 L167.4,200.1 L168.4,199.4 L169.4,198.5 L170.4,197.7 L171.4,196.8 L172.4,195.9 L173.4,194.9 L174.4,194.0 L175.4,193.0 L176.4,192.0 L177.4,191.0 L178.4,190.0 L179.4,189.0 L180.4,188.0 L181.4,187.0 L182.4,186.0 L183.4,184.9 L184.4,183.9 L185.4,182.9 L186.4,181.9 L187.4,180.9 L188.4,179.9 L189.4,179.0 L190.4,178.2 L191.4,177.3 L192.4,176.5 L193.4,175.6 L194.4,174.8 L195.4,174.0 L196.4,173.2 L197.4,172.5 L198.4,171.7 L199.4,170.9 L200.4,170.2 L201.4,169.4 L202.4,168.6 L203.4,167.9 L204.4,167.2 L205.4,166.5 L206.4,165.9 L207.4,165.4 L208.4,164.9 L209.4,164.5 L210.4,164.1 L211.4,163.7 L212.4,163.3 L213.4,163.0 L214.4,162.8 L215.4,162.6 L216.4,162.4 L217.4,162.2 L218.4,162.1 L219.4,162.0 L220.4,162.0 L221.4,162.1 L222.4,162.1 L223.4,162.2 L224.4,162.3 L225.4,162.5 L226.4,162.7 L227.4,162.9 L228.4,163.2 L229.4,163.6 L230.4,164.0 L231.4,164.5 L232.4,165.0 L233.4,165.6 L234.4,166.3 L235.4,167.0 L236.4,167.8 L237.4,168.8 L238.4,169.7 L239.4,170.7 L240.4,171.7 L241.4,172.7 L242.4,173.7 L243.4,174.8 L244.4,175.9 L245.4,177.1 L246.4,178.4 L247.4,179.7 L248.4,180.9 L249.4,182.1 L250.4,183.3 L251.4,184.4 L252.4,185.5 L253.4,186.5 L254.4,187.5 L255.4,188.4 L256.4,189.3 L257.4,190.1 L258.4,190.9 L259.4,191.6 L260.4,192.2 L261.4,192.8 L262.4,193.3 L263.4,193.7 L264.4,194.1 L265.4,194.4 L266.4,194.6 L267.4,194.8 L268.4,194.9 L269.4,195.0 L270.4,195.0 L271.4,194.9 L272.4,194.9 L273.4,194.9 L274.4,194.7 L275.4,194.6 L276.4,194.4 L277.4,194.1 L278.4,193.9 L279.4,193.6 L280.4,193.5 L281.4,193.5 L282.4,193.6 L283.4,193.6 L284.4,193.6 L285.4,193.4 L286.4,193.1 L287.4,192.7 L288.4,192.0 L289.4,191.2 L290.4,190.2 L291.4,189.0 L292.4,187.6 L293.4,186.1 L294.4,184.6 L295.4,183.0 L296.4,181.5 L297.4,179.9 L298.4,178.2 L299.4,176.4 L300.4,174.7 L301.4,172.9 L302.4,171.1 L303.4,169.4 L304.4,167.7 L305.4,166.0 L306.4,164.3 L307.4,162.7 L308.4,161.0 L309.4,159.4 L310.4,157.7 L311.4,156.1 L312.4,154.5 L313.4,152.9 L314.4,151.2 L315.4,149.5 L316.4,147.8 L317.4,146.0 L318.4,144.2 L319.4,142.5 L320.4,140.7 L321.4,138.9 L322.4,137.1 L323.4,135.3 L324.4,133.4 L325.4,131.5 L326.4,129.7 L327.4,127.7 L328.4,125.7 L329.4,124.1 L330.4,122.1 L331.4,120.0 L332.4,118.4 L333.4,116.9 L334.4,115.2 L335.4,113.4 L336.4,111.7 L337.4,109.9 L338.4,108.5 L339.4,107.5 L340.4,106.4 L341.4,105.2 L342.4,103.6 L343.4,102.0 L344.4,100.9 L345.4,100.2 L346.4,98.9 L347.4,97.5 L348.4,96.8 L349.4,96.4 L350.4,96.2 L351.4,95.4 L352.4,94.3 L353.4,94.0 L354.4,93.5 L355.4,92.9 L356.4,92.6 L357.4,92.3 L358.4,92.2 L359.4,92.4 L360.4,92.4 L361.4,92.4 L362.4,92.4 L363.4,92.8 L364.4,93.4 L365.4,93.6 L366.4,94.1 L367.4,94.8 L368.4,94.7 L369.4,94.5 L370.4,94.8 L371.4,95.7 L372.4,96.9 L373.4,97.4 L374.4,98.2 L375.4,99.7 L376.4,101.4 L377.4,102.6 L378.4,103.7 L379.4,104.9 L380.4,106.3 L381.4,108.2 L382.4,109.7 L383.4,111.1 L384.4,113.0 L385.4,114.9 L386.4,116.6 L387.4,118.8 L388.4,121.3 L389.4,123.8 L390.4,126.1 L391.4,128.9 L392.4,131.9 L393.4,135.0 L394.4,138.1 L395.4,141.1 L396.4,144.2 L397.4,147.3 L398.4,150.6 L399.4,153.8 L400.4,156.9 L401.4,160.0 L402.4,163.1 L403.4,166.2 L404.4,169.1 L405.4,172.0 L406.4,174.7 L407.4,177.2 L408.4,179.7 L409.4,182.0 L410.4,184.2 L411.4,186.3 L412.4,188.2 L413.4,190.1 L414.4,191.8 L415.4,193.4 L416.4,194.9 L417.4,196.3 L418.4,197.6 L419.4,198.8 L420.4,199.9 L421.4,201.0 L422.4,202.1 L423.4,203.2 L424.4,204.2 L425.4,205.2 L426.4,206.1 L427.4,207.1 L428.4,208.1 L429.4,209.1 L430.4,210.1 L431.4,211.1 L432.4,212.1 L433.4,213.2 L434.4,214.3 L435.4,215.4 L436.4,216.6 L437.4,217.9 L438.4,219.2 L439.4,220.5 L440.4,221.9 L441.4,223.3 L442.4,224.7 L443.4,226.2 L444.4,227.6 L445.4,229.1 L446.4,230.5 L447.4,231.9 L448.4,233.4 L449.4,234.8 L450.4,236.2 L451.4,237.6 L452.4,238.9 L453.4,240.2 L454.4,241.5 L455.4,242.7 L456.4,244.0 L457.4,245.2 L458.4,246.4 L459.4,247.6 L460.4,248.7 L461.4,249.8 L462.4,250.9 L463.4,252.0 L464.4,253.0 L465.4,254.0 L466.4,255.0 L467.4,255.9 L468.4,256.8 L469.4,257.6 L470.4,258.4 L471.4,259.1 L472.4,259.9 L473.4,260.6 L474.4,261.2 L475.4,261.9 L476.4,262.5 L477.4,263.1 L478.4,263.6 L479.4,264.1 L480.4,264.6 L481.4,265.1 L482.4,265.5 L483.4,266.0 L484.4,266.4 L485.4,266.8 L486.4,267.2 L487.4,267.5 L488.4,267.8 L489.4,268.2 L490.4,268.4 L491.4,268.7 L492.4,269.0 L493.4,269.2 L494.4,269.5 L495.4,269.7 L496.4,269.9 L497.4,270.1 L498.4,270.3 L499.4,270.5 L500.4,270.6 L501.4,270.8 L502.4,270.9 L503.4,271.0 L504.4,271.1 L505.4,271.2 L506.4,271.2 L507.4,271.3 L508.4,271.4 L509.4,271.5 L510.4,271.5 L511.4,271.6 L512.4,271.6 L513.4,271.7 L514.4,271.7 L515.4,271.7 L516.4,271.7 L516.5,271.7" stroke="#B7B7B7" stroke-width="2.2"/>
<path d="M72.4,139.7 L73.4,139.7 L74.4,139.7 L75.4,139.8 L76.4,139.9 L77.4,140.0 L78.4,140.1 L79.4,140.2 L80.4,140.4 L81.4,140.6 L82.4,140.9 L83.4,141.3 L84.4,141.8 L85.4,142.5 L86.4,143.5 L87.4,144.7 L88.4,145.8 L89.4,146.9 L90.4,148.1 L91.4,149.3 L92.4,150.5 L93.4,151.8 L94.4,153.1 L95.4,154.5 L96.4,155.9 L97.4,157.3 L98.4,158.7 L99.4,160.0 L100.4,161.3 L101.4,162.6 L102.4,163.9 L103.4,165.2 L104.4,166.5 L105.4,167.8 L106.4,169.0 L107.4,170.2 L108.4,171.4 L109.4,172.6 L110.4,173.7 L111.4,174.8 L112.4,175.7 L113.4,176.6 L114.4,177.7 L115.4,179.2 L116.4,181.2 L117.4,183.8 L118.4,186.6 L119.4,189.2 L120.4,191.7 L121.4,194.0 L122.4,196.0 L123.4,197.9 L124.4,199.6 L125.4,201.2 L126.4,202.6 L127.4,203.9 L128.4,205.1 L129.4,206.2 L130.4,207.2 L131.4,208.0 L132.4,208.9 L133.4,209.7 L134.4,210.4 L135.4,211.0 L136.4,211.6 L137.4,212.0 L138.4,212.3 L139.4,212.4 L140.4,212.5 L141.4,212.4 L142.4,212.4 L143.4,212.3 L144.4,212.2 L145.4,212.0 L146.4,211.8 L147.4,211.5 L148.4,211.2 L149.4,210.8 L150.4,210.4 L151.4,209.9 L152.4,209.3 L153.4,208.7 L154.4,208.0 L155.4,207.3 L156.4,206.6 L157.4,205.8 L158.4,205.1 L159.4,204.4 L160.4,203.6 L161.4,202.9 L162.4,202.2 L163.4,201.4 L164.4,200.7 L165.4,199.9 L166.4,199.1 L167.4,198.3 L168.4,197.5 L169.4,196.6 L170.4,195.8 L171.4,194.8 L172.4,193.9 L173.4,192.9 L174.4,191.9 L175.4,190.8 L176.4,189.8 L177.4,188.7 L178.4,187.7 L179.4,186.6 L180.4,185.6 L181.4,184.6 L182.4,183.5 L183.4,182.4 L184.4,181.4 L185.4,180.3 L186.4,179.2 L187.4,178.2 L188.4,177.2 L189.4,176.3 L190.4,175.4 L191.4,174.5 L192.4,173.6 L193.4,172.7 L194.4,171.9 L195.4,171.0 L196.4,170.2 L197.4,169.4 L198.4,168.6 L199.4,167.8 L200.4,167.0 L201.4,166.2 L202.4,165.4 L203.4,164.6 L204.4,163.9 L205.4,163.2 L206.4,162.6 L207.4,162.1 L208.4,161.6 L209.4,161.1 L210.4,160.7 L211.4,160.3 L212.4,160.0 L213.4,159.6 L214.4,159.4 L215.4,159.2 L216.4,159.0 L217.4,158.8 L218.4,158.7 L219.4,158.7 L220.4,158.7 L221.4,158.7 L222.4,158.8 L223.4,158.9 L224.4,159.0 L225.4,159.1 L226.4,159.3 L227.4,159.6 L228.4,160.0 L229.4,160.4 L230.4,160.8 L231.4,161.3 L232.4,161.9 L233.4,162.5 L234.4,163.2 L235.4,163.9 L236.4,164.8 L237.4,165.8 L238.4,166.8 L239.4,167.9 L240.4,168.9 L241.4,170.0 L242.4,171.1 L243.4,172.2 L244.4,173.4 L245.4,174.7 L246.4,176.0 L247.4,177.3 L248.4,178.7 L249.4,179.9 L250.4,181.2 L251.4,182.4 L252.4,183.5 L253.4,184.6 L254.4,185.7 L255.4,186.7 L256.4,187.6 L257.4,188.6 L258.4,189.4 L259.4,190.2 L260.4,190.9 L261.4,191.6 L262.4,192.2 L263.4,192.7 L264.4,193.1 L265.4,193.5 L266.4,193.8 L267.4,194.0 L268.4,194.2 L269.4,194.4 L270.4,194.4 L271.4,194.5 L272.4,194.5 L273.4,194.5 L274.4,194.5 L275.4,194.4 L276.4,194.2 L277.4,194.0 L278.4,193.9 L279.4,193.7 L280.4,193.6 L281.4,193.6 L282.4,193.7 L283.4,193.8 L284.4,193.8 L285.4,193.6 L286.4,193.3 L287.4,192.9 L288.4,192.3 L289.4,191.5 L290.4,190.6 L291.4,189.5 L292.4,188.2 L293.4,186.7 L294.4,185.2 L295.4,183.7 L296.4,182.2 L297.4,180.7 L298.4,179.0 L299.4,177.4 L300.4,175.6 L301.4,173.9 L302.4,172.2 L303.4,170.5 L304.4,168.8 L305.4,167.1 L306.4,165.5 L307.4,163.9 L308.4,162.3 L309.4,160.7 L310.4,159.1 L311.4,157.5 L312.4,155.9 L313.4,154.3 L314.4,152.7 L315.4,151.0 L316.4,149.2 L317.4,147.5 L318.4,145.8 L319.4,144.0 L320.4,142.3 L321.4,140.5 L322.4,138.7 L323.4,136.9 L324.4,135.2 L325.4,133.4 L326.4,131.7 L327.4,129.8 L328.4,127.8 L329.4,126.0 L330.4,124.3 L331.4,122.5 L332.4,120.3 L333.4,118.5 L334.4,117.1 L335.4,115.7 L336.4,114.2 L337.4,112.9 L338.4,111.7 L339.4,110.2 L340.4,108.5 L341.4,106.8 L342.4,105.2 L343.4,104.1 L344.4,103.2 L345.4,101.8 L346.4,101.0 L347.4,100.6 L348.4,99.5 L349.4,98.2 L350.4,97.3 L351.4,96.6 L352.4,96.4 L353.4,96.0 L354.4,95.2 L355.4,95.0 L356.4,95.1 L357.4,94.8 L358.4,95.0 L359.4,95.1 L360.4,94.6 L361.4,94.3 L362.4,94.1 L363.4,94.2 L364.4,95.0 L365.4,95.4 L366.4,95.5 L367.4,95.9 L368.4,96.1 L369.4,96.4 L370.4,97.1 L371.4,97.8 L372.4,98.8 L373.4,100.0 L374.4,100.7 L375.4,101.5 L376.4,103.0 L377.4,104.6 L378.4,106.2 L379.4,107.2 L380.4,108.1 L381.4,109.7 L382.4,111.6 L383.4,113.1 L384.4,115.0 L385.4,116.8 L386.4,118.0 L387.4,119.8 L388.4,122.6 L389.4,125.5 L390.4,128.2 L391.4,130.8 L392.4,133.7 L393.4,136.6 L394.4,139.5 L395.4,142.7 L396.4,145.8 L397.4,148.9 L398.4,152.1 L399.4,155.2 L400.4,158.4 L401.4,161.4 L402.4,164.5 L403.4,167.5 L404.4,170.4 L405.4,173.2 L406.4,175.9 L407.4,178.4 L408.4,180.8 L409.4,183.1 L410.4,185.2 L411.4,187.3 L412.4,189.2 L413.4,191.0 L414.4,192.6 L415.4,194.2 L416.4,195.7 L417.4,197.0 L418.4,198.3 L419.4,199.5 L420.4,200.6 L421.4,201.7 L422.4,202.8 L423.4,203.8 L424.4,204.8 L425.4,205.7 L426.4,206.7 L427.4,207.6 L428.4,208.6 L429.4,209.6 L430.4,210.6 L431.4,211.6 L432.4,212.6 L433.4,213.7 L434.4,214.7 L435.4,215.9 L436.4,217.1 L437.4,218.3 L438.4,219.6 L439.4,221.0 L440.4,222.3 L441.4,223.7 L442.4,225.1 L443.4,226.6 L444.4,228.0 L445.4,229.4 L446.4,230.9 L447.4,232.3 L448.4,233.7 L449.4,235.1 L450.4,236.5 L451.4,237.9 L452.4,239.2 L453.4,240.5 L454.4,241.7 L455.4,243.0 L456.4,244.2 L457.4,245.4 L458.4,246.6 L459.4,247.8 L460.4,248.9 L461.4,250.0 L462.4,251.1 L463.4,252.1 L464.4,253.2 L465.4,254.2 L466.4,255.1 L467.4,256.0 L468.4,256.9 L469.4,257.7 L470.4,258.5 L471.4,259.2 L472.4,259.9 L473.4,260.6 L474.4,261.3 L475.4,261.9 L476.4,262.5 L477.4,263.1 L478.4,263.6 L479.4,264.1 L480.4,264.6 L481.4,265.1 L482.4,265.5 L483.4,266.0 L484.4,266.4 L485.4,266.8 L486.4,267.2 L487.4,267.5 L488.4,267.9 L489.4,268.2 L490.4,268.5 L491.4,268.7 L492.4,269.0 L493.4,269.2 L494.4,269.5 L495.4,269.7 L496.4,269.9 L497.4,270.1 L498.4,270.3 L499.4,270.5 L500.4,270.6 L501.4,270.8 L502.4,270.9 L503.4,271.0 L504.4,271.1 L505.4,271.2 L506.4,271.2 L507.4,271.3 L508.4,271.4 L509.4,271.5 L510.4,271.5 L511.4,271.6 L512.4,271.6 L513.4,271.7 L514.4,271.7 L515.4,271.7 L516.4,271.7 L516.5,271.7" stroke="#FFCD33" stroke-width="2.2"/>
<path d="M72.4,140.7 L73.4,140.7 L74.4,140.7 L75.4,140.8 L76.4,140.8 L77.4,140.9 L78.4,141.1 L79.4,141.2 L80.4,141.4 L81.4,141.6 L82.4,141.9 L83.4,142.2 L84.4,142.7 L85.4,143.5 L86.4,144.5 L87.4,145.6 L88.4,146.6 L89.4,147.8 L90.4,148.9 L91.4,150.0 L92.4,151.2 L93.4,152.5 L94.4,153.8 L95.4,155.1 L96.4,156.5 L97.4,157.9 L98.4,159.2 L99.4,160.5 L100.4,161.8 L101.4,163.0 L102.4,164.3 L103.4,165.5 L104.4,166.8 L105.4,168.0 L106.4,169.2 L107.4,170.4 L108.4,171.6 L109.4,172.7 L110.4,173.8 L111.4,174.9 L112.4,175.8 L113.4,176.7 L114.4,177.7 L115.4,179.2 L116.4,181.1 L117.4,183.7 L118.4,186.3 L119.4,188.8 L120.4,191.1 L121.4,193.3 L122.4,195.2 L123.4,197.0 L124.4,198.7 L125.4,200.2 L126.4,201.5 L127.4,202.8 L128.4,204.0 L129.4,205.0 L130.4,205.9 L131.4,206.8 L132.4,207.6 L133.4,208.4 L134.4,209.1 L135.4,209.8 L136.4,210.3 L137.4,210.7 L138.4,211.0 L139.4,211.1 L140.4,211.1 L141.4,211.1 L142.4,211.0 L143.4,210.9 L144.4,210.8 L145.4,210.7 L146.4,210.4 L147.4,210.1 L148.4,209.8 L149.4,209.3 L150.4,208.9 L151.4,208.4 L152.4,207.8 L153.4,207.1 L154.4,206.4 L155.4,205.7 L156.4,204.9 L157.4,204.1 L158.4,203.3 L159.4,202.5 L160.4,201.8 L161.4,201.0 L162.4,200.2 L163.4,199.5 L164.4,198.7 L165.4,197.9 L166.4,197.0 L167.4,196.2 L168.4,195.3 L169.4,194.4 L170.4,193.5 L171.4,192.5 L172.4,191.5 L173.4,190.5 L174.4,189.4 L175.4,188.3 L176.4,187.2 L177.4,186.1 L178.4,185.0 L179.4,183.9 L180.4,182.8 L181.4,181.7 L182.4,180.6 L183.4,179.5 L184.4,178.4 L185.4,177.2 L186.4,176.1 L187.4,175.1 L188.4,174.0 L189.4,173.0 L190.4,172.1 L191.4,171.1 L192.4,170.2 L193.4,169.3 L194.4,168.4 L195.4,167.5 L196.4,166.7 L197.4,165.9 L198.4,165.0 L199.4,164.2 L200.4,163.3 L201.4,162.5 L202.4,161.6 L203.4,160.8 L204.4,160.1 L205.4,159.4 L206.4,158.7 L207.4,158.2 L208.4,157.7 L209.4,157.2 L210.4,156.8 L211.4,156.3 L212.4,156.0 L213.4,155.7 L214.4,155.4 L215.4,155.2 L216.4,155.0 L217.4,154.9 L218.4,154.7 L219.4,154.7 L220.4,154.7 L221.4,154.7 L222.4,154.8 L223.4,154.9 L224.4,155.1 L225.4,155.2 L226.4,155.4 L227.4,155.8 L228.4,156.1 L229.4,156.5 L230.4,157.0 L231.4,157.5 L232.4,158.1 L233.4,158.8 L234.4,159.5 L235.4,160.4 L236.4,161.3 L237.4,162.3 L238.4,163.4 L239.4,164.5 L240.4,165.6 L241.4,166.8 L242.4,167.9 L243.4,169.1 L244.4,170.4 L245.4,171.8 L246.4,173.2 L247.4,174.6 L248.4,176.0 L249.4,177.4 L250.4,178.7 L251.4,180.0 L252.4,181.3 L253.4,182.5 L254.4,183.6 L255.4,184.7 L256.4,185.7 L257.4,186.8 L258.4,187.7 L259.4,188.6 L260.4,189.4 L261.4,190.1 L262.4,190.8 L263.4,191.4 L264.4,192.0 L265.4,192.4 L266.4,192.8 L267.4,193.2 L268.4,193.4 L269.4,193.7 L270.4,193.8 L271.4,193.9 L272.4,194.0 L273.4,194.1 L274.4,194.1 L275.4,194.1 L276.4,194.0 L277.4,193.9 L278.4,193.8 L279.4,193.7 L280.4,193.7 L281.4,193.8 L282.4,193.9 L283.4,194.0 L284.4,193.9 L285.4,193.8 L286.4,193.6 L287.4,193.2 L288.4,192.6 L289.4,191.9 L290.4,191.0 L291.4,190.0 L292.4,188.7 L293.4,187.3 L294.4,185.9 L295.4,184.4 L296.4,183.0 L297.4,181.5 L298.4,179.9 L299.4,178.3 L300.4,176.6 L301.4,174.9 L302.4,173.2 L303.4,171.5 L304.4,169.9 L305.4,168.3 L306.4,166.7 L307.4,165.1 L308.4,163.6 L309.4,162.0 L310.4,160.4 L311.4,158.8 L312.4,157.3 L313.4,155.7 L314.4,154.1 L315.4,152.4 L316.4,150.7 L317.4,149.0 L318.4,147.3 L319.4,145.6 L320.4,143.8 L321.4,142.1 L322.4,140.2 L323.4,138.5 L324.4,136.6 L325.4,134.7 L326.4,133.1 L327.4,131.6 L328.4,129.4 L329.4,127.4 L330.4,125.6 L331.4,124.0 L332.4,122.4 L333.4,120.7 L334.4,118.8 L335.4,117.6 L336.4,116.5 L337.4,114.8 L338.4,113.1 L339.4,111.6 L340.4,109.8 L341.4,108.6 L342.4,108.0 L343.4,106.4 L344.4,104.8 L345.4,103.9 L346.4,102.7 L347.4,101.5 L348.4,100.5 L349.4,99.5 L350.4,99.1 L351.4,99.0 L352.4,98.4 L353.4,97.9 L354.4,97.8 L355.4,97.3 L356.4,96.5 L357.4,96.0 L358.4,96.3 L359.4,96.6 L360.4,96.7 L361.4,97.0 L362.4,96.6 L363.4,96.2 L364.4,96.7 L365.4,97.3 L366.4,97.4 L367.4,97.9 L368.4,98.5 L369.4,98.9 L370.4,99.9 L371.4,100.8 L372.4,101.1 L373.4,101.4 L374.4,102.7 L375.4,104.2 L376.4,105.5 L377.4,106.8 L378.4,107.8 L379.4,108.7 L380.4,109.6 L381.4,111.4 L382.4,113.4 L383.4,114.7 L384.4,116.1 L385.4,117.8 L386.4,119.7 L387.4,122.0 L388.4,124.7 L389.4,127.4 L390.4,129.9 L391.4,132.5 L392.4,135.4 L393.4,138.3 L394.4,141.1 L395.4,144.2 L396.4,147.4 L397.4,150.5 L398.4,153.6 L399.4,156.7 L400.4,159.8 L401.4,162.8 L402.4,165.8 L403.4,168.8 L404.4,171.6 L405.4,174.4 L406.4,177.0 L407.4,179.5 L408.4,181.9 L409.4,184.1 L410.4,186.3 L411.4,188.3 L412.4,190.1 L413.4,191.9 L414.4,193.5 L415.4,195.0 L416.4,196.5 L417.4,197.8 L418.4,199.1 L419.4,200.2 L420.4,201.3 L421.4,202.4 L422.4,203.4 L423.4,204.4 L424.4,205.4 L425.4,206.3 L426.4,207.3 L427.4,208.2 L428.4,209.1 L429.4,210.1 L430.4,211.1 L431.4,212.1 L432.4,213.1 L433.4,214.1 L434.4,215.2 L435.4,216.3 L436.4,217.5 L437.4,218.7 L438.4,220.1 L439.4,221.4 L440.4,222.8 L441.4,224.1 L442.4,225.5 L443.4,227.0 L444.4,228.4 L445.4,229.8 L446.4,231.2 L447.4,232.6 L448.4,234.1 L449.4,235.4 L450.4,236.8 L451.4,238.2 L452.4,239.5 L453.4,240.7 L454.4,242.0 L455.4,243.2 L456.4,244.5 L457.4,245.6 L458.4,246.8 L459.4,248.0 L460.4,249.1 L461.4,250.2 L462.4,251.2 L463.4,252.3 L464.4,253.3 L465.4,254.3 L466.4,255.3 L467.4,256.1 L468.4,257.0 L469.4,257.8 L470.4,258.5 L471.4,259.3 L472.4,260.0 L473.4,260.7 L474.4,261.4 L475.4,262.0 L476.4,262.6 L477.4,263.2 L478.4,263.7 L479.4,264.2 L480.4,264.7 L481.4,265.1 L482.4,265.6 L483.4,266.0 L484.4,266.4 L485.4,266.8 L486.4,267.2 L487.4,267.5 L488.4,267.9 L489.4,268.2 L490.4,268.5 L491.4,268.7 L492.4,269.0 L493.4,269.2 L494.4,269.5 L495.4,269.7 L496.4,269.9 L497.4,270.1 L498.4,270.3 L499.4,270.5 L500.4,270.7 L501.4,270.8 L502.4,270.9 L503.4,271.0 L504.4,271.1 L505.4,271.2 L506.4,271.2 L507.4,271.3 L508.4,271.4 L509.4,271.5 L510.4,271.5 L511.4,271.6 L512.4,271.6 L513.4,271.7 L514.4,271.7 L515.4,271.7 L516.4,271.7 L516.5,271.7" stroke="#698ED0" stroke-width="2.2"/>
<path d="M72.4,141.7 L73.4,141.7 L74.4,141.7 L75.4,141.8 L76.4,141.8 L77.4,141.9 L78.4,142.1 L79.4,142.2 L80.4,142.4 L81.4,142.6 L82.4,142.9 L83.4,143.2 L84.4,143.7 L85.4,144.4 L86.4,145.4 L87.4,146.5 L88.4,147.5 L89.4,148.6 L90.4,149.7 L91.4,150.8 L92.4,152.0 L93.4,153.2 L94.4,154.4 L95.4,155.8 L96.4,157.1 L97.4,158.4 L98.4,159.7 L99.4,161.0 L100.4,162.2 L101.4,163.4 L102.4,164.6 L103.4,165.9 L104.4,167.1 L105.4,168.3 L106.4,169.4 L107.4,170.6 L108.4,171.7 L109.4,172.9 L110.4,173.9 L111.4,175.0 L112.4,175.8 L113.4,176.7 L114.4,177.8 L115.4,179.2 L116.4,181.1 L117.4,183.5 L118.4,186.0 L119.4,188.4 L120.4,190.6 L121.4,192.7 L122.4,194.5 L123.4,196.2 L124.4,197.8 L125.4,199.2 L126.4,200.5 L127.4,201.8 L128.4,202.9 L129.4,203.9 L130.4,204.8 L131.4,205.7 L132.4,206.5 L133.4,207.3 L134.4,208.0 L135.4,208.6 L136.4,209.2 L137.4,209.6 L138.4,209.9 L139.4,210.0 L140.4,210.0 L141.4,209.9 L142.4,209.8 L143.4,209.7 L144.4,209.6 L145.4,209.4 L146.4,209.2 L147.4,208.9 L148.4,208.5 L149.4,208.0 L150.4,207.5 L151.4,207.0 L152.4,206.4 L153.4,205.7 L154.4,204.9 L155.4,204.2 L156.4,203.3 L157.4,202.5 L158.4,201.7 L159.4,200.9 L160.4,200.1 L161.4,199.3 L162.4,198.5 L163.4,197.7 L164.4,196.8 L165.4,196.0 L166.4,195.1 L167.4,194.2 L168.4,193.3 L169.4,192.4 L170.4,191.4 L171.4,190.4 L172.4,189.4 L173.4,188.3 L174.4,187.2 L175.4,186.1 L176.4,184.9 L177.4,183.8 L178.4,182.6 L179.4,181.5 L180.4,180.3 L181.4,179.2 L182.4,178.0 L183.4,176.8 L184.4,175.7 L185.4,174.5 L186.4,173.3 L187.4,172.2 L188.4,171.1 L189.4,170.1 L190.4,169.1 L191.4,168.1 L192.4,167.2 L193.4,166.2 L194.4,165.3 L195.4,164.4 L196.4,163.5 L197.4,162.6 L198.4,161.8 L199.4,160.9 L200.4,160.0 L201.4,159.1 L202.4,158.2 L203.4,157.4 L204.4,156.6 L205.4,155.9 L206.4,155.2 L207.4,154.7 L208.4,154.2 L209.4,153.7 L210.4,153.2 L211.4,152.8 L212.4,152.4 L213.4,152.1 L214.4,151.8 L215.4,151.6 L216.4,151.4 L217.4,151.3 L218.4,151.2 L219.4,151.1 L220.4,151.1 L221.4,151.2 L222.4,151.3 L223.4,151.4 L224.4,151.5 L225.4,151.7 L226.4,151.9 L227.4,152.3 L228.4,152.7 L229.4,153.1 L230.4,153.6 L231.4,154.1 L232.4,154.8 L233.4,155.5 L234.4,156.3 L235.4,157.1 L236.4,158.1 L237.4,159.2 L238.4,160.4 L239.4,161.5 L240.4,162.7 L241.4,163.9 L242.4,165.1 L243.4,166.4 L244.4,167.7 L245.4,169.2 L246.4,170.7 L247.4,172.2 L248.4,173.7 L249.4,175.1 L250.4,176.5 L251.4,177.9 L252.4,179.2 L253.4,180.5 L254.4,181.7 L255.4,182.9 L256.4,184.0 L257.4,185.1 L258.4,186.2 L259.4,187.1 L260.4,188.0 L261.4,188.8 L262.4,189.6 L263.4,190.3 L264.4,190.9 L265.4,191.5 L266.4,192.0 L267.4,192.4 L268.4,192.7 L269.4,193.0 L270.4,193.3 L271.4,193.5 L272.4,193.6 L273.4,193.8 L274.4,193.9 L275.4,193.9 L276.4,193.9 L277.4,193.8 L278.4,193.8 L279.4,193.7 L280.4,193.7 L281.4,193.9 L282.4,194.0 L283.4,194.1 L284.4,194.1 L285.4,194.0 L286.4,193.8 L287.4,193.4 L288.4,192.9 L289.4,192.2 L290.4,191.4 L291.4,190.4 L292.4,189.2 L293.4,187.9 L294.4,186.5 L295.4,185.1 L296.4,183.8 L297.4,182.3 L298.4,180.8 L299.4,179.2 L300.4,177.6 L301.4,175.9 L302.4,174.2 L303.4,172.6 L304.4,171.0 L305.4,169.5 L306.4,167.9 L307.4,166.4 L308.4,164.8 L309.4,163.3 L310.4,161.7 L311.4,160.2 L312.4,158.7 L313.4,157.1 L314.4,155.5 L315.4,153.9 L316.4,152.2 L317.4,150.5 L318.4,148.8 L319.4,147.1 L320.4,145.4 L321.4,143.7 L322.4,142.0 L323.4,140.3 L324.4,138.5 L325.4,136.7 L326.4,135.0 L327.4,133.2 L328.4,131.3 L329.4,129.8 L330.4,128.3 L331.4,126.0 L332.4,123.8 L333.4,122.2 L334.4,120.9 L335.4,119.2 L336.4,117.1 L337.4,115.7 L338.4,114.8 L339.4,113.4 L340.4,112.4 L341.4,110.9 L342.4,108.9 L343.4,108.0 L344.4,107.1 L345.4,105.9 L346.4,105.0 L347.4,104.1 L348.4,103.5 L349.4,102.9 L350.4,101.7 L351.4,100.8 L352.4,100.7 L353.4,100.6 L354.4,100.0 L355.4,99.5 L356.4,99.4 L357.4,99.3 L358.4,98.7 L359.4,98.5 L360.4,98.8 L361.4,98.8 L362.4,98.8 L363.4,98.7 L364.4,98.7 L365.4,99.1 L366.4,99.4 L367.4,99.9 L368.4,100.6 L369.4,101.1 L370.4,101.4 L371.4,101.8 L372.4,102.5 L373.4,103.5 L374.4,104.7 L375.4,105.8 L376.4,106.9 L377.4,108.2 L378.4,109.8 L379.4,111.2 L380.4,112.4 L381.4,113.9 L382.4,115.6 L383.4,117.3 L384.4,118.8 L385.4,120.2 L386.4,122.1 L387.4,124.3 L388.4,126.7 L389.4,128.9 L390.4,131.5 L391.4,134.4 L392.4,137.3 L393.4,140.0 L394.4,143.0 L395.4,146.0 L396.4,149.0 L397.4,152.0 L398.4,155.1 L399.4,158.2 L400.4,161.2 L401.4,164.2 L402.4,167.1 L403.4,170.1 L404.4,172.9 L405.4,175.6 L406.4,178.2 L407.4,180.7 L408.4,183.0 L409.4,185.2 L410.4,187.3 L411.4,189.3 L412.4,191.1 L413.4,192.8 L414.4,194.4 L415.4,195.9 L416.4,197.3 L417.4,198.6 L418.4,199.8 L419.4,200.9 L420.4,202.0 L421.4,203.1 L422.4,204.1 L423.4,205.1 L424.4,206.0 L425.4,206.9 L426.4,207.8 L427.4,208.7 L428.4,209.7 L429.4,210.6 L430.4,211.6 L431.4,212.6 L432.4,213.6 L433.4,214.6 L434.4,215.7 L435.4,216.8 L436.4,217.9 L437.4,219.2 L438.4,220.5 L439.4,221.8 L440.4,223.2 L441.4,224.6 L442.4,225.9 L443.4,227.4 L444.4,228.8 L445.4,230.2 L446.4,231.6 L447.4,233.0 L448.4,234.4 L449.4,235.8 L450.4,237.1 L451.4,238.4 L452.4,239.7 L453.4,241.0 L454.4,242.3 L455.4,243.5 L456.4,244.7 L457.4,245.9 L458.4,247.0 L459.4,248.2 L460.4,249.3 L461.4,250.4 L462.4,251.4 L463.4,252.4 L464.4,253.5 L465.4,254.4 L466.4,255.4 L467.4,256.3 L468.4,257.1 L469.4,257.9 L470.4,258.6 L471.4,259.4 L472.4,260.1 L473.4,260.8 L474.4,261.4 L475.4,262.0 L476.4,262.6 L477.4,263.2 L478.4,263.7 L479.4,264.2 L480.4,264.7 L481.4,265.1 L482.4,265.6 L483.4,266.0 L484.4,266.4 L485.4,266.8 L486.4,267.2 L487.4,267.6 L488.4,267.9 L489.4,268.2 L490.4,268.5 L491.4,268.7 L492.4,269.0 L493.4,269.2 L494.4,269.5 L495.4,269.7 L496.4,269.9 L497.4,270.1 L498.4,270.3 L499.4,270.5 L500.4,270.7 L501.4,270.8 L502.4,270.9 L503.4,271.0 L504.4,271.1 L505.4,271.2 L506.4,271.2 L507.4,271.3 L508.4,271.4 L509.4,271.5 L510.4,271.5 L511.4,271.6 L512.4,271.6 L513.4,271.7 L514.4,271.7 L515.4,271.7 L516.4,271.7 L516.5,271.7" stroke="#8CC168" stroke-width="2.2"/>
<path d="M72.4,142.6 L73.4,142.6 L74.4,142.7 L75.4,142.7 L76.4,142.8 L77.4,142.9 L78.4,143.1 L79.4,143.2 L80.4,143.4 L81.4,143.6 L82.4,143.9 L83.4,144.2 L84.4,144.7 L85.4,145.4 L86.4,146.3 L87.4,147.3 L88.4,148.4 L89.4,149.4 L90.4,150.5 L91.4,151.6 L92.4,152.7 L93.4,153.9 L94.4,155.1 L95.4,156.4 L96.4,157.7 L97.4,159.0 L98.4,160.2 L99.4,161.5 L100.4,162.6 L101.4,163.8 L102.4,165.0 L103.4,166.2 L104.4,167.4 L105.4,168.5 L106.4,169.6 L107.4,170.8 L108.4,171.9 L109.4,173.0 L110.4,174.0 L111.4,175.0 L112.4,175.9 L113.4,176.8 L114.4,177.8 L115.4,179.2 L116.4,181.0 L117.4,183.3 L118.4,185.7 L119.4,188.0 L120.4,190.2 L121.4,192.1 L122.4,193.9 L123.4,195.5 L124.4,197.0 L125.4,198.4 L126.4,199.6 L127.4,200.8 L128.4,201.9 L129.4,202.9 L130.4,203.8 L131.4,204.6 L132.4,205.4 L133.4,206.2 L134.4,206.9 L135.4,207.6 L136.4,208.1 L137.4,208.5 L138.4,208.8 L139.4,208.9 L140.4,208.9 L141.4,208.8 L142.4,208.7 L143.4,208.6 L144.4,208.4 L145.4,208.3 L146.4,208.0 L147.4,207.7 L148.4,207.2 L149.4,206.8 L150.4,206.3 L151.4,205.7 L152.4,205.1 L153.4,204.3 L154.4,203.6 L155.4,202.7 L156.4,201.9 L157.4,201.0 L158.4,200.2 L159.4,199.3 L160.4,198.5 L161.4,197.7 L162.4,196.8 L163.4,196.0 L164.4,195.1 L165.4,194.2 L166.4,193.3 L167.4,192.4 L168.4,191.5 L169.4,190.5 L170.4,189.5 L171.4,188.5 L172.4,187.4 L173.4,186.2 L174.4,185.1 L175.4,183.9 L176.4,182.7 L177.4,181.5 L178.4,180.3 L179.4,179.2 L180.4,178.0 L181.4,176.8 L182.4,175.6 L183.4,174.4 L184.4,173.1 L185.4,171.9 L186.4,170.7 L187.4,169.5 L188.4,168.4 L189.4,167.4 L190.4,166.3 L191.4,165.3 L192.4,164.3 L193.4,163.3 L194.4,162.4 L195.4,161.4 L196.4,160.5 L197.4,159.6 L198.4,158.7 L199.4,157.8 L200.4,156.9 L201.4,155.9 L202.4,155.0 L203.4,154.2 L204.4,153.3 L205.4,152.6 L206.4,151.9 L207.4,151.4 L208.4,150.8 L209.4,150.3 L210.4,149.8 L211.4,149.4 L212.4,149.0 L213.4,148.7 L214.4,148.4 L215.4,148.2 L216.4,148.0 L217.4,147.9 L218.4,147.8 L219.4,147.7 L220.4,147.7 L221.4,147.8 L222.4,147.9 L223.4,148.0 L224.4,148.2 L225.4,148.4 L226.4,148.6 L227.4,149.0 L228.4,149.4 L229.4,149.9 L230.4,150.4 L231.4,150.9 L232.4,151.6 L233.4,152.4 L234.4,153.2 L235.4,154.1 L236.4,155.1 L237.4,156.3 L238.4,157.5 L239.4,158.7 L240.4,159.9 L241.4,161.2 L242.4,162.4 L243.4,163.8 L244.4,165.2 L245.4,166.7 L246.4,168.3 L247.4,169.9 L248.4,171.4 L249.4,172.9 L250.4,174.5 L251.4,175.9 L252.4,177.3 L253.4,178.6 L254.4,179.9 L255.4,181.2 L256.4,182.4 L257.4,183.6 L258.4,184.7 L259.4,185.7 L260.4,186.7 L261.4,187.6 L262.4,188.5 L263.4,189.3 L264.4,190.0 L265.4,190.6 L266.4,191.1 L267.4,191.6 L268.4,192.1 L269.4,192.4 L270.4,192.7 L271.4,193.0 L272.4,193.2 L273.4,193.4 L274.4,193.6 L275.4,193.7 L276.4,193.7 L277.4,193.8 L278.4,193.7 L279.4,193.7 L280.4,193.8 L281.4,194.0 L282.4,194.1 L283.4,194.3 L284.4,194.3 L285.4,194.2 L286.4,194.0 L287.4,193.7 L288.4,193.2 L289.4,192.6 L290.4,191.8 L291.4,190.9 L292.4,189.7 L293.4,188.5 L294.4,187.2 L295.4,185.9 L296.4,184.5 L297.4,183.1 L298.4,181.7 L299.4,180.1 L300.4,178.5 L301.4,176.9 L302.4,175.3 L303.4,173.7 L304.4,172.1 L305.4,170.6 L306.4,169.1 L307.4,167.6 L308.4,166.1 L309.4,164.6 L310.4,163.1 L311.4,161.6 L312.4,160.1 L313.4,158.5 L314.4,156.9 L315.4,155.3 L316.4,153.7 L317.4,152.0 L318.4,150.3 L319.4,148.6 L320.4,147.0 L321.4,145.3 L322.4,143.6 L323.4,141.8 L324.4,140.2 L325.4,138.5 L326.4,136.6 L327.4,134.6 L328.4,132.9 L329.4,131.2 L330.4,129.5 L331.4,127.8 L332.4,126.1 L333.4,124.6 L334.4,123.4 L335.4,122.0 L336.4,120.4 L337.4,118.6 L338.4,116.9 L339.4,115.4 L340.4,113.7 L341.4,112.4 L342.4,111.5 L343.4,110.1 L344.4,108.6 L345.4,107.6 L346.4,106.7 L347.4,105.9 L348.4,105.3 L349.4,104.2 L350.4,103.0 L351.4,102.4 L352.4,102.1 L353.4,101.9 L354.4,101.6 L355.4,100.9 L356.4,100.6 L357.4,100.5 L358.4,100.6 L359.4,100.7 L360.4,100.5 L361.4,100.2 L362.4,100.1 L363.4,100.4 L364.4,100.7 L365.4,101.2 L366.4,101.7 L367.4,101.5 L368.4,101.2 L369.4,101.8 L370.4,102.9 L371.4,103.6 L372.4,104.5 L373.4,105.7 L374.4,106.8 L375.4,108.0 L376.4,109.0 L377.4,109.9 L378.4,111.1 L379.4,112.4 L380.4,114.2 L381.4,116.0 L382.4,117.8 L383.4,119.2 L384.4,120.4 L385.4,121.9 L386.4,123.9 L387.4,126.2 L388.4,128.8 L389.4,131.2 L390.4,133.4 L391.4,136.1 L392.4,138.9 L393.4,141.7 L394.4,144.6 L395.4,147.5 L396.4,150.5 L397.4,153.5 L398.4,156.6 L399.4,159.6 L400.4,162.6 L401.4,165.5 L402.4,168.5 L403.4,171.4 L404.4,174.2 L405.4,176.9 L406.4,179.4 L407.4,181.8 L408.4,184.1 L409.4,186.3 L410.4,188.3 L411.4,190.2 L412.4,192.0 L413.4,193.7 L414.4,195.3 L415.4,196.7 L416.4,198.1 L417.4,199.4 L418.4,200.6 L419.4,201.7 L420.4,202.7 L421.4,203.7 L422.4,204.7 L423.4,205.7 L424.4,206.6 L425.4,207.5 L426.4,208.4 L427.4,209.3 L428.4,210.2 L429.4,211.2 L430.4,212.1 L431.4,213.1 L432.4,214.0 L433.4,215.1 L434.4,216.1 L435.4,217.2 L436.4,218.4 L437.4,219.6 L438.4,220.9 L439.4,222.3 L440.4,223.6 L441.4,225.0 L442.4,226.4 L443.4,227.8 L444.4,229.2 L445.4,230.6 L446.4,231.9 L447.4,233.3 L448.4,234.7 L449.4,236.1 L450.4,237.4 L451.4,238.7 L452.4,240.0 L453.4,241.3 L454.4,242.5 L455.4,243.7 L456.4,244.9 L457.4,246.1 L458.4,247.2 L459.4,248.4 L460.4,249.5 L461.4,250.5 L462.4,251.6 L463.4,252.6 L464.4,253.6 L465.4,254.6 L466.4,255.5 L467.4,256.4 L468.4,257.2 L469.4,258.0 L470.4,258.7 L471.4,259.4 L472.4,260.1 L473.4,260.8 L474.4,261.5 L475.4,262.1 L476.4,262.7 L477.4,263.2 L478.4,263.8 L479.4,264.2 L480.4,264.7 L481.4,265.2 L482.4,265.6 L483.4,266.0 L484.4,266.5 L485.4,266.8 L486.4,267.2 L487.4,267.6 L488.4,267.9 L489.4,268.2 L490.4,268.5 L491.4,268.8 L492.4,269.0 L493.4,269.3 L494.4,269.5 L495.4,269.7 L496.4,269.9 L497.4,270.1 L498.4,270.3 L499.4,270.5 L500.4,270.7 L501.4,270.8 L502.4,270.9 L503.4,271.0 L504.4,271.1 L505.4,271.2 L506.4,271.3 L507.4,271.3 L508.4,271.4 L509.4,271.5 L510.4,271.5 L511.4,271.6 L512.4,271.6 L513.4,271.7 L514.4,271.7 L515.4,271.7 L516.4,271.7 L516.5,271.7" stroke="#327DC2" stroke-width="2.2"/>
<path d="M72.4,143.6 L73.4,143.6 L74.4,143.7 L75.4,143.7 L76.4,143.8 L77.4,143.9 L78.4,144.1 L79.4,144.2 L80.4,144.4 L81.4,144.6 L82.4,144.9 L83.4,145.2 L84.4,145.7 L85.4,146.3 L86.4,147.2 L87.4,148.2 L88.4,149.2 L89.4,150.3 L90.4,151.3 L91.4,152.4 L92.4,153.4 L93.4,154.6 L94.4,155.8 L95.4,157.0 L96.4,158.3 L97.4,159.5 L98.4,160.8 L99.4,161.9 L100.4,163.1 L101.4,164.2 L102.4,165.4 L103.4,166.5 L104.4,167.6 L105.4,168.8 L106.4,169.9 L107.4,171.0 L108.4,172.0 L109.4,173.1 L110.4,174.1 L111.4,175.1 L112.4,176.0 L113.4,176.8 L114.4,177.8 L115.4,179.1 L116.4,180.9 L117.4,183.2 L118.4,185.5 L119.4,187.7 L120.4,189.7 L121.4,191.6 L122.4,193.3 L123.4,194.9 L124.4,196.3 L125.4,197.6 L126.4,198.8 L127.4,200.0 L128.4,201.0 L129.4,202.0 L130.4,202.8 L131.4,203.7 L132.4,204.5 L133.4,205.3 L134.4,206.0 L135.4,206.6 L136.4,207.2 L137.4,207.6 L138.4,207.8 L139.4,207.9 L140.4,207.9 L141.4,207.8 L142.4,207.7 L143.4,207.6 L144.4,207.4 L145.4,207.2 L146.4,207.0 L147.4,206.6 L148.4,206.2 L149.4,205.7 L150.4,205.2 L151.4,204.6 L152.4,203.9 L153.4,203.1 L154.4,202.3 L155.4,201.5 L156.4,200.6 L157.4,199.7 L158.4,198.8 L159.4,198.0 L160.4,197.1 L161.4,196.2 L162.4,195.4 L163.4,194.5 L164.4,193.6 L165.4,192.7 L166.4,191.8 L167.4,190.8 L168.4,189.8 L169.4,188.8 L170.4,187.8 L171.4,186.7 L172.4,185.6 L173.4,184.4 L174.4,183.2 L175.4,182.0 L176.4,180.8 L177.4,179.6 L178.4,178.3 L179.4,177.1 L180.4,175.9 L181.4,174.7 L182.4,173.4 L183.4,172.1 L184.4,170.9 L185.4,169.6 L186.4,168.4 L187.4,167.2 L188.4,166.0 L189.4,164.9 L190.4,163.8 L191.4,162.8 L192.4,161.8 L193.4,160.7 L194.4,159.8 L195.4,158.8 L196.4,157.8 L197.4,156.9 L198.4,156.0 L199.4,155.0 L200.4,154.1 L201.4,153.1 L202.4,152.2 L203.4,151.3 L204.4,150.5 L205.4,149.7 L206.4,149.0 L207.4,148.4 L208.4,147.9 L209.4,147.4 L210.4,146.9 L211.4,146.4 L212.4,146.0 L213.4,145.7 L214.4,145.5 L215.4,145.2 L216.4,145.0 L217.4,144.9 L218.4,144.8 L219.4,144.7 L220.4,144.7 L221.4,144.8 L222.4,144.9 L223.4,145.1 L224.4,145.2 L225.4,145.4 L226.4,145.7 L227.4,146.1 L228.4,146.5 L229.4,147.0 L230.4,147.5 L231.4,148.1 L232.4,148.8 L233.4,149.6 L234.4,150.4 L235.4,151.4 L236.4,152.4 L237.4,153.7 L238.4,154.9 L239.4,156.2 L240.4,157.4 L241.4,158.7 L242.4,160.1 L243.4,161.5 L244.4,162.9 L245.4,164.5 L246.4,166.2 L247.4,167.8 L248.4,169.5 L249.4,171.0 L250.4,172.6 L251.4,174.1 L252.4,175.6 L253.4,177.0 L254.4,178.4 L255.4,179.7 L256.4,181.0 L257.4,182.2 L258.4,183.4 L259.4,184.5 L260.4,185.6 L261.4,186.6 L262.4,187.5 L263.4,188.3 L264.4,189.1 L265.4,189.8 L266.4,190.4 L267.4,191.0 L268.4,191.5 L269.4,191.9 L270.4,192.3 L271.4,192.6 L272.4,192.9 L273.4,193.1 L274.4,193.3 L275.4,193.5 L276.4,193.6 L277.4,193.7 L278.4,193.7 L279.4,193.8 L280.4,193.9 L281.4,194.1 L282.4,194.3 L283.4,194.5 L284.4,194.5 L285.4,194.4 L286.4,194.3 L287.4,194.0 L288.4,193.6 L289.4,193.0 L290.4,192.4 L291.4,191.5 L292.4,190.4 L293.4,189.2 L294.4,188.0 L295.4,186.7 L296.4,185.5 L297.4,184.2 L298.4,182.7 L299.4,181.2 L300.4,179.7 L301.4,178.2 L302.4,176.6 L303.4,175.0 L304.4,173.5 L305.4,172.1 L306.4,170.6 L307.4,169.1 L308.4,167.7 L309.4,166.2 L310.4,164.7 L311.4,163.3 L312.4,161.8 L313.4,160.3 L314.4,158.7 L315.4,157.1 L316.4,155.5 L317.4,153.9 L318.4,152.2 L319.4,150.6 L320.4,149.0 L321.4,147.3 L322.4,145.6 L323.4,143.9 L324.4,142.4 L325.4,140.7 L326.4,139.2 L327.4,137.5 L328.4,135.5 L329.4,133.6 L330.4,132.4 L331.4,130.9 L332.4,128.7 L333.4,127.0 L334.4,125.6 L335.4,124.0 L336.4,122.6 L337.4,121.3 L338.4,119.9 L339.4,118.2 L340.4,117.0 L341.4,116.2 L342.4,114.7 L343.4,112.7 L344.4,111.2 L345.4,110.4 L346.4,109.7 L347.4,108.4 L348.4,107.1 L349.4,106.2 L350.4,105.8 L351.4,105.5 L352.4,105.2 L353.4,104.7 L354.4,103.8 L355.4,103.0 L356.4,102.5 L357.4,102.6 L358.4,102.8 L359.4,102.9 L360.4,103.0 L361.4,103.1 L362.4,102.9 L363.4,102.8 L364.4,103.2 L365.4,103.5 L366.4,104.1 L367.4,104.7 L368.4,104.3 L369.4,104.4 L370.4,105.3 L371.4,106.1 L372.4,106.9 L373.4,108.2 L374.4,109.5 L375.4,110.4 L376.4,111.5 L377.4,112.6 L378.4,113.4 L379.4,114.9 L380.4,116.6 L381.4,118.0 L382.4,119.5 L383.4,121.1 L384.4,122.5 L385.4,124.0 L386.4,126.0 L387.4,128.4 L388.4,131.1 L389.4,133.7 L390.4,136.0 L391.4,138.2 L392.4,140.9 L393.4,143.8 L394.4,146.8 L395.4,149.7 L396.4,152.6 L397.4,155.5 L398.4,158.5 L399.4,161.5 L400.4,164.4 L401.4,167.3 L402.4,170.1 L403.4,173.0 L404.4,175.8 L405.4,178.4 L406.4,180.9 L407.4,183.2 L408.4,185.5 L409.4,187.6 L410.4,189.6 L411.4,191.5 L412.4,193.2 L413.4,194.8 L414.4,196.4 L415.4,197.8 L416.4,199.1 L417.4,200.4 L418.4,201.5 L419.4,202.6 L420.4,203.6 L421.4,204.6 L422.4,205.5 L423.4,206.5 L424.4,207.4 L425.4,208.2 L426.4,209.1 L427.4,210.0 L428.4,210.9 L429.4,211.8 L430.4,212.7 L431.4,213.7 L432.4,214.6 L433.4,215.6 L434.4,216.7 L435.4,217.8 L436.4,218.9 L437.4,220.2 L438.4,221.5 L439.4,222.8 L440.4,224.1 L441.4,225.5 L442.4,226.9 L443.4,228.2 L444.4,229.6 L445.4,231.0 L446.4,232.4 L447.4,233.8 L448.4,235.1 L449.4,236.5 L450.4,237.8 L451.4,239.1 L452.4,240.4 L453.4,241.6 L454.4,242.8 L455.4,244.0 L456.4,245.2 L457.4,246.4 L458.4,247.5 L459.4,248.6 L460.4,249.7 L461.4,250.8 L462.4,251.8 L463.4,252.8 L464.4,253.8 L465.4,254.7 L466.4,255.7 L467.4,256.5 L468.4,257.3 L469.4,258.1 L470.4,258.8 L471.4,259.5 L472.4,260.2 L473.4,260.9 L474.4,261.5 L475.4,262.2 L476.4,262.7 L477.4,263.3 L478.4,263.8 L479.4,264.3 L480.4,264.8 L481.4,265.2 L482.4,265.6 L483.4,266.1 L484.4,266.5 L485.4,266.9 L486.4,267.2 L487.4,267.6 L488.4,267.9 L489.4,268.2 L490.4,268.5 L491.4,268.8 L492.4,269.0 L493.4,269.3 L494.4,269.5 L495.4,269.7 L496.4,269.9 L497.4,270.1 L498.4,270.3 L499.4,270.5 L500.4,270.7 L501.4,270.8 L502.4,270.9 L503.4,271.0 L504.4,271.1 L505.4,271.2 L506.4,271.3 L507.4,271.3 L508.4,271.4 L509.4,271.5 L510.4,271.5 L511.4,271.6 L512.4,271.6 L513.4,271.7 L514.4,271.7 L515.4,271.7 L516.4,271.7 L516.5,271.7" stroke="#D26012" stroke-width="2.2"/>
<path d="M72.4,144.6 L73.4,144.6 L74.4,144.6 L75.4,144.7 L76.4,144.8 L77.4,144.9 L78.4,145.1 L79.4,145.2 L80.4,145.4 L81.4,145.6 L82.4,145.9 L83.4,146.2 L84.4,146.6 L85.4,147.3 L86.4,148.2 L87.4,149.1 L88.4,150.1 L89.4,151.1 L90.4,152.1 L91.4,153.1 L92.4,154.2 L93.4,155.3 L94.4,156.4 L95.4,157.7 L96.4,158.9 L97.4,160.1 L98.4,161.3 L99.4,162.4 L100.4,163.5 L101.4,164.6 L102.4,165.7 L103.4,166.8 L104.4,167.9 L105.4,169.0 L106.4,170.1 L107.4,171.2 L108.4,172.2 L109.4,173.2 L110.4,174.2 L111.4,175.2 L112.4,176.0 L113.4,176.9 L114.4,177.9 L115.4,179.1 L116.4,180.9 L117.4,183.0 L118.4,185.3 L119.4,187.4 L120.4,189.3 L121.4,191.1 L122.4,192.7 L123.4,194.2 L124.4,195.6 L125.4,196.9 L126.4,198.0 L127.4,199.1 L128.4,200.1 L129.4,201.1 L130.4,201.9 L131.4,202.7 L132.4,203.6 L133.4,204.3 L134.4,205.0 L135.4,205.7 L136.4,206.2 L137.4,206.6 L138.4,206.9 L139.4,206.9 L140.4,206.9 L141.4,206.8 L142.4,206.7 L143.4,206.6 L144.4,206.4 L145.4,206.2 L146.4,205.9 L147.4,205.5 L148.4,205.1 L149.4,204.6 L150.4,204.1 L151.4,203.4 L152.4,202.7 L153.4,202.0 L154.4,201.1 L155.4,200.2 L156.4,199.3 L157.4,198.4 L158.4,197.5 L159.4,196.6 L160.4,195.7 L161.4,194.8 L162.4,193.9 L163.4,193.0 L164.4,192.1 L165.4,191.1 L166.4,190.2 L167.4,189.2 L168.4,188.2 L169.4,187.2 L170.4,186.1 L171.4,185.0 L172.4,183.8 L173.4,182.6 L174.4,181.4 L175.4,180.1 L176.4,178.9 L177.4,177.6 L178.4,176.3 L179.4,175.1 L180.4,173.8 L181.4,172.6 L182.4,171.3 L183.4,169.9 L184.4,168.6 L185.4,167.3 L186.4,166.1 L187.4,164.8 L188.4,163.6 L189.4,162.5 L190.4,161.4 L191.4,160.3 L192.4,159.2 L193.4,158.2 L194.4,157.2 L195.4,156.2 L196.4,155.2 L197.4,154.2 L198.4,153.3 L199.4,152.3 L200.4,151.3 L201.4,150.3 L202.4,149.4 L203.4,148.4 L204.4,147.6 L205.4,146.8 L206.4,146.1 L207.4,145.5 L208.4,144.9 L209.4,144.4 L210.4,143.9 L211.4,143.5 L212.4,143.1 L213.4,142.7 L214.4,142.5 L215.4,142.3 L216.4,142.1 L217.4,141.9 L218.4,141.8 L219.4,141.7 L220.4,141.8 L221.4,141.8 L222.4,142.0 L223.4,142.1 L224.4,142.3 L225.4,142.5 L226.4,142.8 L227.4,143.2 L228.4,143.6 L229.4,144.1 L230.4,144.7 L231.4,145.3 L232.4,146.0 L233.4,146.8 L234.4,147.7 L235.4,148.7 L236.4,149.8 L237.4,151.0 L238.4,152.4 L239.4,153.7 L240.4,155.0 L241.4,156.3 L242.4,157.7 L243.4,159.2 L244.4,160.7 L245.4,162.3 L246.4,164.1 L247.4,165.8 L248.4,167.5 L249.4,169.1 L250.4,170.8 L251.4,172.4 L252.4,173.9 L253.4,175.4 L254.4,176.8 L255.4,178.2 L256.4,179.6 L257.4,180.9 L258.4,182.1 L259.4,183.3 L260.4,184.4 L261.4,185.5 L262.4,186.5 L263.4,187.4 L264.4,188.2 L265.4,189.0 L266.4,189.7 L267.4,190.3 L268.4,190.9 L269.4,191.4 L270.4,191.8 L271.4,192.2 L272.4,192.5 L273.4,192.8 L274.4,193.1 L275.4,193.3 L276.4,193.4 L277.4,193.6 L278.4,193.7 L279.4,193.8 L280.4,193.9 L281.4,194.2 L282.4,194.4 L283.4,194.6 L284.4,194.7 L285.4,194.6 L286.4,194.5 L287.4,194.3 L288.4,193.9 L289.4,193.4 L290.4,192.8 L291.4,191.9 L292.4,190.9 L293.4,189.8 L294.4,188.6 L295.4,187.4 L296.4,186.3 L297.4,185.0 L298.4,183.6 L299.4,182.2 L300.4,180.7 L301.4,179.2 L302.4,177.6 L303.4,176.1 L304.4,174.7 L305.4,173.2 L306.4,171.8 L307.4,170.4 L308.4,168.9 L309.4,167.5 L310.4,166.1 L311.4,164.6 L312.4,163.2 L313.4,161.7 L314.4,160.2 L315.4,158.6 L316.4,157.0 L317.4,155.4 L318.4,153.8 L319.4,152.1 L320.4,150.5 L321.4,148.9 L322.4,147.2 L323.4,145.5 L324.4,143.8 L325.4,142.3 L326.4,140.6 L327.4,138.9 L328.4,137.2 L329.4,135.4 L330.4,133.4 L331.4,131.6 L332.4,129.9 L333.4,128.4 L334.4,127.3 L335.4,126.0 L336.4,124.2 L337.4,122.4 L338.4,121.1 L339.4,120.2 L340.4,118.7 L341.4,117.1 L342.4,116.5 L343.4,115.4 L344.4,113.6 L345.4,112.4 L346.4,111.5 L347.4,110.6 L348.4,109.6 L349.4,109.0 L350.4,108.7 L351.4,108.3 L352.4,107.2 L353.4,106.4 L354.4,106.1 L355.4,105.7 L356.4,105.3 L357.4,105.1 L358.4,104.9 L359.4,104.8 L360.4,104.7 L361.4,104.7 L362.4,105.1 L363.4,105.6 L364.4,105.4 L365.4,105.1 L366.4,105.5 L367.4,106.3 L368.4,106.7 L369.4,106.9 L370.4,106.9 L371.4,107.5 L372.4,108.6 L373.4,109.6 L374.4,110.8 L375.4,112.1 L376.4,112.8 L377.4,113.8 L378.4,115.2 L379.4,116.7 L380.4,118.2 L381.4,119.8 L382.4,121.4 L383.4,123.2 L384.4,125.0 L385.4,126.8 L386.4,128.4 L387.4,130.4 L388.4,132.9 L389.4,135.5 L390.4,137.9 L391.4,140.6 L392.4,143.2 L393.4,145.7 L394.4,148.5 L395.4,151.4 L396.4,154.3 L397.4,157.1 L398.4,160.0 L399.4,162.9 L400.4,165.8 L401.4,168.6 L402.4,171.5 L403.4,174.3 L404.4,177.0 L405.4,179.6 L406.4,182.1 L407.4,184.4 L408.4,186.6 L409.4,188.7 L410.4,190.6 L411.4,192.5 L412.4,194.2 L413.4,195.7 L414.4,197.2 L415.4,198.6 L416.4,199.9 L417.4,201.1 L418.4,202.3 L419.4,203.3 L420.4,204.3 L421.4,205.2 L422.4,206.2 L423.4,207.1 L424.4,208.0 L425.4,208.8 L426.4,209.7 L427.4,210.5 L428.4,211.4 L429.4,212.3 L430.4,213.2 L431.4,214.2 L432.4,215.1 L433.4,216.1 L434.4,217.1 L435.4,218.2 L436.4,219.4 L437.4,220.6 L438.4,221.9 L439.4,223.2 L440.4,224.6 L441.4,225.9 L442.4,227.3 L443.4,228.6 L444.4,230.0 L445.4,231.4 L446.4,232.8 L447.4,234.1 L448.4,235.5 L449.4,236.8 L450.4,238.1 L451.4,239.4 L452.4,240.7 L453.4,241.9 L454.4,243.1 L455.4,244.3 L456.4,245.4 L457.4,246.6 L458.4,247.7 L459.4,248.8 L460.4,249.9 L461.4,250.9 L462.4,252.0 L463.4,253.0 L464.4,253.9 L465.4,254.9 L466.4,255.8 L467.4,256.6 L468.4,257.4 L469.4,258.2 L470.4,258.9 L471.4,259.6 L472.4,260.3 L473.4,261.0 L474.4,261.6 L475.4,262.2 L476.4,262.8 L477.4,263.3 L478.4,263.8 L479.4,264.3 L480.4,264.8 L481.4,265.2 L482.4,265.7 L483.4,266.1 L484.4,266.5 L485.4,266.9 L486.4,267.3 L487.4,267.6 L488.4,267.9 L489.4,268.2 L490.4,268.5 L491.4,268.8 L492.4,269.0 L493.4,269.3 L494.4,269.5 L495.4,269.7 L496.4,269.9 L497.4,270.2 L498.4,270.3 L499.4,270.5 L500.4,270.7 L501.4,270.8 L502.4,270.9 L503.4,271.0 L504.4,271.1 L505.4,271.2 L506.4,271.3 L507.4,271.3 L508.4,271.4 L509.4,271.5 L510.4,271.5 L511.4,271.6 L512.4,271.6 L513.4,271.7 L514.4,271.7 L515.4,271.7 L516.4,271.7 L516.5,271.7" stroke="#848484" stroke-width="2.2"/>
<path d="M72.4,145.5 L73.4,145.6 L74.4,145.6 L75.4,145.7 L76.4,145.8 L77.4,145.9 L78.4,146.1 L79.4,146.2 L80.4,146.4 L81.4,146.6 L82.4,146.9 L83.4,147.2 L84.4,147.6 L85.4,148.2 L86.4,149.1 L87.4,150.0 L88.4,151.0 L89.4,151.9 L90.4,152.9 L91.4,153.9 L92.4,154.9 L93.4,156.0 L94.4,157.1 L95.4,158.3 L96.4,159.5 L97.4,160.7 L98.4,161.8 L99.4,162.9 L100.4,164.0 L101.4,165.0 L102.4,166.1 L103.4,167.2 L104.4,168.2 L105.4,169.3 L106.4,170.3 L107.4,171.3 L108.4,172.4 L109.4,173.4 L110.4,174.3 L111.4,175.2 L112.4,176.1 L113.4,176.9 L114.4,177.9 L115.4,179.1 L116.4,180.8 L117.4,182.8 L118.4,185.0 L119.4,187.0 L120.4,188.8 L121.4,190.5 L122.4,192.1 L123.4,193.5 L124.4,194.8 L125.4,196.0 L126.4,197.1 L127.4,198.2 L128.4,199.2 L129.4,200.1 L130.4,200.9 L131.4,201.7 L132.4,202.5 L133.4,203.3 L134.4,204.0 L135.4,204.6 L136.4,205.2 L137.4,205.6 L138.4,205.8 L139.4,205.9 L140.4,205.8 L141.4,205.8 L142.4,205.6 L143.4,205.5 L144.4,205.3 L145.4,205.1 L146.4,204.8 L147.4,204.4 L148.4,203.9 L149.4,203.4 L150.4,202.8 L151.4,202.2 L152.4,201.4 L153.4,200.6 L154.4,199.8 L155.4,198.9 L156.4,197.9 L157.4,197.0 L158.4,196.0 L159.4,195.1 L160.4,194.1 L161.4,193.2 L162.4,192.3 L163.4,191.4 L164.4,190.4 L165.4,189.4 L166.4,188.4 L167.4,187.4 L168.4,186.4 L169.4,185.3 L170.4,184.2 L171.4,183.1 L172.4,181.9 L173.4,180.6 L174.4,179.4 L175.4,178.1 L176.4,176.8 L177.4,175.4 L178.4,174.1 L179.4,172.8 L180.4,171.5 L181.4,170.2 L182.4,168.9 L183.4,167.5 L184.4,166.2 L185.4,164.8 L186.4,163.5 L187.4,162.2 L188.4,161.0 L189.4,159.8 L190.4,158.7 L191.4,157.5 L192.4,156.4 L193.4,155.4 L194.4,154.3 L195.4,153.3 L196.4,152.3 L197.4,151.3 L198.4,150.3 L199.4,149.3 L200.4,148.3 L201.4,147.3 L202.4,146.3 L203.4,145.3 L204.4,144.4 L205.4,143.6 L206.4,142.9 L207.4,142.3 L208.4,141.7 L209.4,141.2 L210.4,140.7 L211.4,140.2 L212.4,139.8 L213.4,139.5 L214.4,139.2 L215.4,139.0 L216.4,138.8 L217.4,138.6 L218.4,138.5 L219.4,138.5 L220.4,138.5 L221.4,138.6 L222.4,138.7 L223.4,138.9 L224.4,139.1 L225.4,139.3 L226.4,139.6 L227.4,140.0 L228.4,140.4 L229.4,141.0 L230.4,141.5 L231.4,142.2 L232.4,142.9 L233.4,143.8 L234.4,144.7 L235.4,145.7 L236.4,146.9 L237.4,148.2 L238.4,149.5 L239.4,150.9 L240.4,152.3 L241.4,153.7 L242.4,155.1 L243.4,156.7 L244.4,158.2 L245.4,160.0 L246.4,161.7 L247.4,163.6 L248.4,165.3 L249.4,167.0 L250.4,168.8 L251.4,170.4 L252.4,172.0 L253.4,173.6 L254.4,175.1 L255.4,176.6 L256.4,178.0 L257.4,179.4 L258.4,180.7 L259.4,182.0 L260.4,183.2 L261.4,184.3 L262.4,185.4 L263.4,186.4 L264.4,187.3 L265.4,188.1 L266.4,188.9 L267.4,189.6 L268.4,190.3 L269.4,190.8 L270.4,191.3 L271.4,191.7 L272.4,192.1 L273.4,192.5 L274.4,192.8 L275.4,193.1 L276.4,193.3 L277.4,193.5 L278.4,193.6 L279.4,193.8 L280.4,194.0 L281.4,194.3 L282.4,194.6 L283.4,194.8 L284.4,194.8 L285.4,194.8 L286.4,194.7 L287.4,194.5 L288.4,194.2 L289.4,193.7 L290.4,193.2 L291.4,192.4 L292.4,191.5 L293.4,190.4 L294.4,189.3 L295.4,188.2 L296.4,187.0 L297.4,185.8 L298.4,184.5 L299.4,183.1 L300.4,181.6 L301.4,180.2 L302.4,178.7 L303.4,177.2 L304.4,175.8 L305.4,174.4 L306.4,173.0 L307.4,171.6 L308.4,170.2 L309.4,168.8 L310.4,167.4 L311.4,166.0 L312.4,164.6 L313.4,163.1 L314.4,161.6 L315.4,160.0 L316.4,158.5 L317.4,156.9 L318.4,155.3 L319.4,153.7 L320.4,152.0 L321.4,150.4 L322.4,148.9 L323.4,147.3 L324.4,145.8 L325.4,144.2 L326.4,142.4 L327.4,140.4 L328.4,138.5 L329.4,136.9 L330.4,135.6 L331.4,133.8 L332.4,132.3 L333.4,131.0 L334.4,129.2 L335.4,127.7 L336.4,126.0 L337.4,124.4 L338.4,123.2 L339.4,121.9 L340.4,120.7 L341.4,119.4 L342.4,118.2 L343.4,117.1 L344.4,115.4 L345.4,113.7 L346.4,112.7 L347.4,112.1 L348.4,111.3 L349.4,110.6 L350.4,110.1 L351.4,109.3 L352.4,108.8 L353.4,108.3 L354.4,107.8 L355.4,107.7 L356.4,107.0 L357.4,106.6 L358.4,107.2 L359.4,106.9 L360.4,106.5 L361.4,107.2 L362.4,107.9 L363.4,108.0 L364.4,107.5 L365.4,107.1 L366.4,107.5 L367.4,108.4 L368.4,108.8 L369.4,109.3 L370.4,109.8 L371.4,110.4 L372.4,111.2 L373.4,111.7 L374.4,112.5 L375.4,113.8 L376.4,115.2 L377.4,116.3 L378.4,117.0 L379.4,118.3 L380.4,120.0 L381.4,121.6 L382.4,123.0 L383.4,124.8 L384.4,127.1 L385.4,128.9 L386.4,130.6 L387.4,132.7 L388.4,134.6 L389.4,136.5 L390.4,139.2 L391.4,142.2 L392.4,144.8 L393.4,147.4 L394.4,150.1 L395.4,153.0 L396.4,155.8 L397.4,158.7 L398.4,161.5 L399.4,164.4 L400.4,167.2 L401.4,170.0 L402.4,172.8 L403.4,175.6 L404.4,178.3 L405.4,180.9 L406.4,183.3 L407.4,185.5 L408.4,187.7 L409.4,189.7 L410.4,191.6 L411.4,193.4 L412.4,195.1 L413.4,196.7 L414.4,198.1 L415.4,199.5 L416.4,200.8 L417.4,201.9 L418.4,203.0 L419.4,204.0 L420.4,205.0 L421.4,205.9 L422.4,206.8 L423.4,207.7 L424.4,208.6 L425.4,209.4 L426.4,210.3 L427.4,211.1 L428.4,212.0 L429.4,212.8 L430.4,213.7 L431.4,214.7 L432.4,215.6 L433.4,216.6 L434.4,217.6 L435.4,218.7 L436.4,219.8 L437.4,221.1 L438.4,222.3 L439.4,223.7 L440.4,225.0 L441.4,226.3 L442.4,227.7 L443.4,229.0 L444.4,230.4 L445.4,231.8 L446.4,233.1 L447.4,234.5 L448.4,235.8 L449.4,237.1 L450.4,238.4 L451.4,239.7 L452.4,240.9 L453.4,242.2 L454.4,243.3 L455.4,244.5 L456.4,245.7 L457.4,246.8 L458.4,247.9 L459.4,249.0 L460.4,250.1 L461.4,251.1 L462.4,252.1 L463.4,253.1 L464.4,254.1 L465.4,255.0 L466.4,255.9 L467.4,256.7 L468.4,257.5 L469.4,258.3 L470.4,259.0 L471.4,259.7 L472.4,260.4 L473.4,261.0 L474.4,261.7 L475.4,262.3 L476.4,262.8 L477.4,263.4 L478.4,263.9 L479.4,264.4 L480.4,264.8 L481.4,265.3 L482.4,265.7 L483.4,266.1 L484.4,266.5 L485.4,266.9 L486.4,267.3 L487.4,267.6 L488.4,267.9 L489.4,268.3 L490.4,268.5 L491.4,268.8 L492.4,269.0 L493.4,269.3 L494.4,269.5 L495.4,269.7 L496.4,270.0 L497.4,270.2 L498.4,270.3 L499.4,270.5 L500.4,270.7 L501.4,270.8 L502.4,270.9 L503.4,271.0 L504.4,271.1 L505.4,271.2 L506.4,271.3 L507.4,271.3 L508.4,271.4 L509.4,271.5 L510.4,271.5 L511.4,271.6 L512.4,271.7 L513.4,271.7 L514.4,271.7 L515.4,271.7 L516.4,271.7 L516.5,271.7" stroke="#CC9A00" stroke-width="2.2"/>
<path d="M72.4,146.5 L73.4,146.6 L74.4,146.6 L75.4,146.7 L76.4,146.8 L77.4,146.9 L78.4,147.1 L79.4,147.2 L80.4,147.4 L81.4,147.6 L82.4,147.8 L83.4,148.2 L84.4,148.6 L85.4,149.2 L86.4,150.0 L87.4,150.9 L88.4,151.8 L89.4,152.8 L90.4,153.7 L91.4,154.7 L92.4,155.6 L93.4,156.7 L94.4,157.8 L95.4,158.9 L96.4,160.1 L97.4,161.2 L98.4,162.3 L99.4,163.4 L100.4,164.4 L101.4,165.4 L102.4,166.5 L103.4,167.5 L104.4,168.5 L105.4,169.5 L106.4,170.5 L107.4,171.5 L108.4,172.5 L109.4,173.5 L110.4,174.4 L111.4,175.3 L112.4,176.2 L113.4,177.0 L114.4,177.9 L115.4,179.1 L116.4,180.7 L117.4,182.7 L118.4,184.7 L119.4,186.6 L120.4,188.4 L121.4,190.0 L122.4,191.4 L123.4,192.8 L124.4,194.0 L125.4,195.2 L126.4,196.2 L127.4,197.3 L128.4,198.2 L129.4,199.1 L130.4,199.9 L131.4,200.7 L132.4,201.5 L133.4,202.3 L134.4,203.0 L135.4,203.6 L136.4,204.1 L137.4,204.5 L138.4,204.7 L139.4,204.8 L140.4,204.8 L141.4,204.7 L142.4,204.5 L143.4,204.4 L144.4,204.2 L145.4,203.9 L146.4,203.6 L147.4,203.2 L148.4,202.7 L149.4,202.2 L150.4,201.6 L151.4,200.9 L152.4,200.2 L153.4,199.3 L154.4,198.4 L155.4,197.5 L156.4,196.5 L157.4,195.5 L158.4,194.5 L159.4,193.6 L160.4,192.6 L161.4,191.7 L162.4,190.7 L163.4,189.7 L164.4,188.7 L165.4,187.7 L166.4,186.7 L167.4,185.7 L168.4,184.6 L169.4,183.5 L170.4,182.3 L171.4,181.1 L172.4,179.9 L173.4,178.6 L174.4,177.3 L175.4,176.0 L176.4,174.6 L177.4,173.3 L178.4,171.9 L179.4,170.6 L180.4,169.2 L181.4,167.9 L182.4,166.5 L183.4,165.1 L184.4,163.7 L185.4,162.3 L186.4,160.9 L187.4,159.6 L188.4,158.3 L189.4,157.1 L190.4,155.9 L191.4,154.8 L192.4,153.6 L193.4,152.5 L194.4,151.5 L195.4,150.4 L196.4,149.3 L197.4,148.3 L198.4,147.3 L199.4,146.3 L200.4,145.2 L201.4,144.2 L202.4,143.2 L203.4,142.2 L204.4,141.3 L205.4,140.4 L206.4,139.7 L207.4,139.1 L208.4,138.5 L209.4,137.9 L210.4,137.4 L211.4,136.9 L212.4,136.5 L213.4,136.2 L214.4,135.9 L215.4,135.7 L216.4,135.5 L217.4,135.3 L218.4,135.2 L219.4,135.2 L220.4,135.2 L221.4,135.3 L222.4,135.4 L223.4,135.6 L224.4,135.8 L225.4,136.0 L226.4,136.4 L227.4,136.8 L228.4,137.3 L229.4,137.8 L230.4,138.4 L231.4,139.1 L232.4,139.9 L233.4,140.7 L234.4,141.7 L235.4,142.7 L236.4,144.0 L237.4,145.3 L238.4,146.7 L239.4,148.2 L240.4,149.6 L241.4,151.0 L242.4,152.6 L243.4,154.1 L244.4,155.8 L245.4,157.6 L246.4,159.4 L247.4,161.3 L248.4,163.2 L249.4,164.9 L250.4,166.7 L251.4,168.5 L252.4,170.2 L253.4,171.8 L254.4,173.4 L255.4,174.9 L256.4,176.4 L257.4,177.9 L258.4,179.3 L259.4,180.6 L260.4,181.9 L261.4,183.1 L262.4,184.3 L263.4,185.4 L264.4,186.4 L265.4,187.3 L266.4,188.1 L267.4,188.9 L268.4,189.6 L269.4,190.2 L270.4,190.8 L271.4,191.3 L272.4,191.7 L273.4,192.2 L274.4,192.5 L275.4,192.9 L276.4,193.1 L277.4,193.4 L278.4,193.6 L279.4,193.8 L280.4,194.1 L281.4,194.4 L282.4,194.7 L283.4,194.9 L284.4,195.0 L285.4,195.0 L286.4,195.0 L287.4,194.8 L288.4,194.5 L289.4,194.1 L290.4,193.6 L291.4,192.9 L292.4,192.0 L293.4,191.0 L294.4,189.9 L295.4,188.9 L296.4,187.8 L297.4,186.6 L298.4,185.3 L299.4,184.0 L300.4,182.6 L301.4,181.1 L302.4,179.7 L303.4,178.3 L304.4,176.9 L305.4,175.6 L306.4,174.2 L307.4,172.8 L308.4,171.5 L309.4,170.1 L310.4,168.7 L311.4,167.3 L312.4,165.9 L313.4,164.5 L314.4,163.0 L315.4,161.5 L316.4,159.9 L317.4,158.4 L318.4,156.8 L319.4,155.2 L320.4,153.6 L321.4,152.1 L322.4,150.5 L323.4,149.0 L324.4,147.4 L325.4,145.6 L326.4,143.9 L327.4,142.3 L328.4,140.6 L329.4,138.9 L330.4,137.5 L331.4,135.8 L332.4,134.2 L333.4,132.9 L334.4,131.1 L335.4,129.2 L336.4,127.9 L337.4,126.6 L338.4,125.2 L339.4,124.1 L340.4,122.9 L341.4,121.6 L342.4,120.3 L343.4,118.7 L344.4,117.4 L345.4,116.4 L346.4,115.6 L347.4,114.7 L348.4,113.4 L349.4,112.4 L350.4,112.1 L351.4,111.3 L352.4,110.6 L353.4,110.6 L354.4,110.2 L355.4,109.3 L356.4,108.9 L357.4,109.3 L358.4,109.5 L359.4,109.3 L360.4,109.2 L361.4,109.5 L362.4,109.8 L363.4,109.7 L364.4,109.7 L365.4,110.0 L366.4,110.1 L367.4,110.3 L368.4,110.9 L369.4,111.5 L370.4,112.0 L371.4,112.5 L372.4,113.0 L373.4,113.5 L374.4,114.4 L375.4,115.8 L376.4,116.9 L377.4,117.8 L378.4,119.2 L379.4,120.8 L380.4,122.7 L381.4,124.5 L382.4,125.6 L383.4,126.7 L384.4,128.5 L385.4,130.4 L386.4,132.3 L387.4,134.2 L388.4,136.4 L389.4,139.1 L390.4,141.6 L391.4,144.1 L392.4,146.9 L393.4,149.3 L394.4,151.7 L395.4,154.5 L396.4,157.4 L397.4,160.2 L398.4,163.0 L399.4,165.8 L400.4,168.7 L401.4,171.4 L402.4,174.2 L403.4,176.9 L404.4,179.6 L405.4,182.1 L406.4,184.5 L407.4,186.7 L408.4,188.8 L409.4,190.8 L410.4,192.7 L411.4,194.4 L412.4,196.0 L413.4,197.6 L414.4,199.0 L415.4,200.3 L416.4,201.6 L417.4,202.7 L418.4,203.8 L419.4,204.8 L420.4,205.7 L421.4,206.6 L422.4,207.5 L423.4,208.4 L424.4,209.2 L425.4,210.0 L426.4,210.8 L427.4,211.6 L428.4,212.5 L429.4,213.4 L430.4,214.2 L431.4,215.1 L432.4,216.1 L433.4,217.0 L434.4,218.1 L435.4,219.1 L436.4,220.3 L437.4,221.5 L438.4,222.8 L439.4,224.1 L440.4,225.4 L441.4,226.7 L442.4,228.1 L443.4,229.4 L444.4,230.8 L445.4,232.1 L446.4,233.5 L447.4,234.8 L448.4,236.1 L449.4,237.4 L450.4,238.7 L451.4,240.0 L452.4,241.2 L453.4,242.4 L454.4,243.6 L455.4,244.8 L456.4,245.9 L457.4,247.0 L458.4,248.1 L459.4,249.2 L460.4,250.3 L461.4,251.3 L462.4,252.3 L463.4,253.3 L464.4,254.2 L465.4,255.2 L466.4,256.0 L467.4,256.9 L468.4,257.6 L469.4,258.4 L470.4,259.1 L471.4,259.8 L472.4,260.4 L473.4,261.1 L474.4,261.7 L475.4,262.3 L476.4,262.9 L477.4,263.4 L478.4,263.9 L479.4,264.4 L480.4,264.8 L481.4,265.3 L482.4,265.7 L483.4,266.1 L484.4,266.5 L485.4,266.9 L486.4,267.3 L487.4,267.6 L488.4,268.0 L489.4,268.3 L490.4,268.5 L491.4,268.8 L492.4,269.0 L493.4,269.3 L494.4,269.5 L495.4,269.7 L496.4,270.0 L497.4,270.2 L498.4,270.3 L499.4,270.5 L500.4,270.7 L501.4,270.8 L502.4,270.9 L503.4,271.0 L504.4,271.1 L505.4,271.2 L506.4,271.3 L507.4,271.3 L508.4,271.4 L509.4,271.5 L510.4,271.6 L511.4,271.6 L512.4,271.7 L513.4,271.7 L514.4,271.7 L515.4,271.7 L516.4,271.7 L516.5,271.7" stroke="#335AA1" stroke-width="2.2"/>
<path d="M72.4,147.5 L73.4,147.5 L74.4,147.6 L75.4,147.7 L76.4,147.8 L77.4,147.9 L78.4,148.1 L79.4,148.2 L80.4,148.4 L81.4,148.6 L82.4,148.8 L83.4,149.1 L84.4,149.6 L85.4,150.2 L86.4,151.0 L87.4,151.8 L88.4,152.7 L89.4,153.6 L90.4,154.5 L91.4,155.4 L92.4,156.4 L93.4,157.4 L94.4,158.4 L95.4,159.6 L96.4,160.7 L97.4,161.8 L98.4,162.9 L99.4,163.9 L100.4,164.9 L101.4,165.8 L102.4,166.8 L103.4,167.8 L104.4,168.8 L105.4,169.8 L106.4,170.7 L107.4,171.7 L108.4,172.7 L109.4,173.6 L110.4,174.5 L111.4,175.4 L112.4,176.2 L113.4,177.0 L114.4,178.0 L115.4,179.1 L116.4,180.7 L117.4,182.5 L118.4,184.5 L119.4,186.3 L120.4,187.9 L121.4,189.5 L122.4,190.8 L123.4,192.1 L124.4,193.3 L125.4,194.4 L126.4,195.4 L127.4,196.4 L128.4,197.3 L129.4,198.2 L130.4,199.0 L131.4,199.7 L132.4,200.5 L133.4,201.3 L134.4,202.0 L135.4,202.7 L136.4,203.2 L137.4,203.6 L138.4,203.8 L139.4,203.8 L140.4,203.8 L141.4,203.7 L142.4,203.5 L143.4,203.4 L144.4,203.1 L145.4,202.9 L146.4,202.6 L147.4,202.2 L148.4,201.6 L149.4,201.1 L150.4,200.5 L151.4,199.8 L152.4,199.0 L153.4,198.1 L154.4,197.2 L155.4,196.2 L156.4,195.2 L157.4,194.2 L158.4,193.2 L159.4,192.2 L160.4,191.2 L161.4,190.2 L162.4,189.2 L163.4,188.2 L164.4,187.2 L165.4,186.2 L166.4,185.1 L167.4,184.1 L168.4,182.9 L169.4,181.8 L170.4,180.6 L171.4,179.4 L172.4,178.1 L173.4,176.8 L174.4,175.5 L175.4,174.1 L176.4,172.7 L177.4,171.3 L178.4,169.9 L179.4,168.5 L180.4,167.2 L181.4,165.8 L182.4,164.3 L183.4,162.9 L184.4,161.5 L185.4,160.0 L186.4,158.6 L187.4,157.3 L188.4,155.9 L189.4,154.7 L190.4,153.5 L191.4,152.3 L192.4,151.1 L193.4,150.0 L194.4,148.9 L195.4,147.8 L196.4,146.7 L197.4,145.6 L198.4,144.6 L199.4,143.5 L200.4,142.4 L201.4,141.4 L202.4,140.3 L203.4,139.3 L204.4,138.4 L205.4,137.5 L206.4,136.8 L207.4,136.1 L208.4,135.5 L209.4,135.0 L210.4,134.4 L211.4,134.0 L212.4,133.5 L213.4,133.2 L214.4,132.9 L215.4,132.7 L216.4,132.5 L217.4,132.3 L218.4,132.2 L219.4,132.2 L220.4,132.2 L221.4,132.3 L222.4,132.5 L223.4,132.7 L224.4,132.9 L225.4,133.1 L226.4,133.4 L227.4,133.9 L228.4,134.4 L229.4,134.9 L230.4,135.5 L231.4,136.3 L232.4,137.1 L233.4,138.0 L234.4,139.0 L235.4,140.0 L236.4,141.3 L237.4,142.7 L238.4,144.2 L239.4,145.6 L240.4,147.1 L241.4,148.6 L242.4,150.2 L243.4,151.8 L244.4,153.5 L245.4,155.4 L246.4,157.3 L247.4,159.3 L248.4,161.2 L249.4,163.0 L250.4,164.9 L251.4,166.7 L252.4,168.5 L253.4,170.1 L254.4,171.8 L255.4,173.4 L256.4,175.0 L257.4,176.5 L258.4,178.0 L259.4,179.4 L260.4,180.8 L261.4,182.1 L262.4,183.3 L263.4,184.4 L264.4,185.5 L265.4,186.5 L266.4,187.4 L267.4,188.2 L268.4,189.0 L269.4,189.7 L270.4,190.3 L271.4,190.9 L272.4,191.4 L273.4,191.9 L274.4,192.3 L275.4,192.7 L276.4,193.0 L277.4,193.3 L278.4,193.6 L279.4,193.8 L280.4,194.1 L281.4,194.5 L282.4,194.8 L283.4,195.1 L284.4,195.2 L285.4,195.2 L286.4,195.2 L287.4,195.0 L288.4,194.8 L289.4,194.4 L290.4,194.0 L291.4,193.3 L292.4,192.5 L293.4,191.6 L294.4,190.6 L295.4,189.6 L296.4,188.6 L297.4,187.4 L298.4,186.2 L299.4,184.9 L300.4,183.5 L301.4,182.1 L302.4,180.7 L303.4,179.4 L304.4,178.0 L305.4,176.7 L306.4,175.4 L307.4,174.1 L308.4,172.7 L309.4,171.4 L310.4,170.1 L311.4,168.7 L312.4,167.3 L313.4,165.9 L314.4,164.4 L315.4,162.9 L316.4,161.4 L317.4,159.9 L318.4,158.3 L319.4,156.8 L320.4,155.2 L321.4,153.7 L322.4,152.1 L323.4,150.5 L324.4,149.0 L325.4,147.4 L326.4,145.6 L327.4,143.9 L328.4,142.4 L329.4,140.5 L330.4,138.7 L331.4,137.4 L332.4,135.9 L333.4,134.2 L334.4,133.0 L335.4,131.7 L336.4,130.0 L337.4,128.3 L338.4,127.0 L339.4,126.0 L340.4,124.7 L341.4,122.7 L342.4,121.1 L343.4,120.3 L344.4,119.7 L345.4,118.6 L346.4,117.4 L347.4,116.3 L348.4,115.3 L349.4,114.6 L350.4,114.1 L351.4,113.5 L352.4,112.9 L353.4,112.6 L354.4,112.6 L355.4,112.2 L356.4,111.3 L357.4,110.7 L358.4,110.8 L359.4,111.2 L360.4,111.1 L361.4,110.7 L362.4,111.0 L363.4,111.5 L364.4,111.3 L365.4,111.4 L366.4,112.0 L367.4,112.2 L368.4,112.0 L369.4,112.5 L370.4,113.3 L371.4,113.9 L372.4,114.9 L373.4,116.5 L374.4,117.7 L375.4,118.5 L376.4,119.1 L377.4,119.8 L378.4,120.7 L379.4,122.2 L380.4,124.1 L381.4,125.9 L382.4,127.7 L383.4,129.3 L384.4,130.9 L385.4,132.6 L386.4,134.6 L387.4,136.5 L388.4,138.7 L389.4,141.3 L390.4,143.5 L391.4,145.7 L392.4,148.4 L393.4,151.1 L394.4,153.7 L395.4,156.3 L396.4,159.0 L397.4,161.8 L398.4,164.5 L399.4,167.3 L400.4,170.1 L401.4,172.8 L402.4,175.5 L403.4,178.2 L404.4,180.8 L405.4,183.3 L406.4,185.6 L407.4,187.8 L408.4,189.9 L409.4,191.8 L410.4,193.7 L411.4,195.4 L412.4,197.0 L413.4,198.5 L414.4,199.9 L415.4,201.2 L416.4,202.4 L417.4,203.5 L418.4,204.5 L419.4,205.5 L420.4,206.4 L421.4,207.3 L422.4,208.1 L423.4,209.0 L424.4,209.8 L425.4,210.6 L426.4,211.4 L427.4,212.2 L428.4,213.0 L429.4,213.9 L430.4,214.8 L431.4,215.6 L432.4,216.6 L433.4,217.5 L434.4,218.5 L435.4,219.6 L436.4,220.7 L437.4,221.9 L438.4,223.2 L439.4,224.5 L440.4,225.8 L441.4,227.1 L442.4,228.5 L443.4,229.8 L444.4,231.2 L445.4,232.5 L446.4,233.8 L447.4,235.2 L448.4,236.5 L449.4,237.8 L450.4,239.0 L451.4,240.3 L452.4,241.5 L453.4,242.7 L454.4,243.9 L455.4,245.0 L456.4,246.2 L457.4,247.3 L458.4,248.4 L459.4,249.4 L460.4,250.5 L461.4,251.5 L462.4,252.5 L463.4,253.4 L464.4,254.4 L465.4,255.3 L466.4,256.2 L467.4,257.0 L468.4,257.7 L469.4,258.5 L470.4,259.2 L471.4,259.8 L472.4,260.5 L473.4,261.1 L474.4,261.8 L475.4,262.4 L476.4,262.9 L477.4,263.4 L478.4,263.9 L479.4,264.4 L480.4,264.9 L481.4,265.3 L482.4,265.7 L483.4,266.2 L484.4,266.6 L485.4,266.9 L486.4,267.3 L487.4,267.7 L488.4,268.0 L489.4,268.3 L490.4,268.6 L491.4,268.8 L492.4,269.1 L493.4,269.3 L494.4,269.5 L495.4,269.8 L496.4,270.0 L497.4,270.2 L498.4,270.4 L499.4,270.5 L500.4,270.7 L501.4,270.8 L502.4,270.9 L503.4,271.0 L504.4,271.1 L505.4,271.2 L506.4,271.3 L507.4,271.3 L508.4,271.4 L509.4,271.5 L510.4,271.6 L511.4,271.6 L512.4,271.7 L513.4,271.7 L514.4,271.7 L515.4,271.7 L516.4,271.8 L516.5,271.8" stroke="#5A8A39" stroke-width="2.2"/>
<path d="M72.4,148.5 L73.4,148.5 L74.4,148.6 L75.4,148.7 L76.4,148.8 L77.4,148.9 L78.4,149.0 L79.4,149.2 L80.4,149.4 L81.4,149.6 L82.4,149.8 L83.4,150.1 L84.4,150.5 L85.4,151.1 L86.4,151.9 L87.4,152.7 L88.4,153.6 L89.4,154.4 L90.4,155.3 L91.4,156.2 L92.4,157.1 L93.4,158.1 L94.4,159.1 L95.4,160.2 L96.4,161.3 L97.4,162.4 L98.4,163.4 L99.4,164.4 L100.4,165.3 L101.4,166.3 L102.4,167.2 L103.4,168.1 L104.4,169.1 L105.4,170.0 L106.4,171.0 L107.4,171.9 L108.4,172.8 L109.4,173.7 L110.4,174.6 L111.4,175.5 L112.4,176.3 L113.4,177.1 L114.4,178.0 L115.4,179.1 L116.4,180.6 L117.4,182.4 L118.4,184.2 L119.4,185.9 L120.4,187.5 L121.4,188.9 L122.4,190.2 L123.4,191.4 L124.4,192.6 L125.4,193.6 L126.4,194.6 L127.4,195.5 L128.4,196.4 L129.4,197.2 L130.4,198.0 L131.4,198.8 L132.4,199.5 L133.4,200.3 L134.4,201.0 L135.4,201.7 L136.4,202.2 L137.4,202.6 L138.4,202.8 L139.4,202.8 L140.4,202.7 L141.4,202.6 L142.4,202.5 L143.4,202.3 L144.4,202.1 L145.4,201.8 L146.4,201.5 L147.4,201.0 L148.4,200.5 L149.4,199.9 L150.4,199.3 L151.4,198.6 L152.4,197.8 L153.4,196.9 L154.4,195.9 L155.4,194.9 L156.4,193.9 L157.4,192.8 L158.4,191.8 L159.4,190.7 L160.4,189.7 L161.4,188.7 L162.4,187.7 L163.4,186.6 L164.4,185.6 L165.4,184.5 L166.4,183.4 L167.4,182.3 L168.4,181.2 L169.4,180.0 L170.4,178.8 L171.4,177.5 L172.4,176.2 L173.4,174.9 L174.4,173.5 L175.4,172.1 L176.4,170.7 L177.4,169.2 L178.4,167.8 L179.4,166.4 L180.4,164.9 L181.4,163.5 L182.4,162.0 L183.4,160.5 L184.4,159.1 L185.4,157.6 L186.4,156.1 L187.4,154.7 L188.4,153.4 L189.4,152.1 L190.4,150.8 L191.4,149.6 L192.4,148.4 L193.4,147.2 L194.4,146.1 L195.4,145.0 L196.4,143.9 L197.4,142.8 L198.4,141.7 L199.4,140.6 L200.4,139.5 L201.4,138.4 L202.4,137.3 L203.4,136.3 L204.4,135.3 L205.4,134.4 L206.4,133.7 L207.4,133.0 L208.4,132.4 L209.4,131.8 L210.4,131.3 L211.4,130.8 L212.4,130.4 L213.4,130.0 L214.4,129.7 L215.4,129.5 L216.4,129.3 L217.4,129.1 L218.4,129.0 L219.4,129.0 L220.4,129.1 L221.4,129.2 L222.4,129.3 L223.4,129.5 L224.4,129.7 L225.4,130.0 L226.4,130.3 L227.4,130.8 L228.4,131.3 L229.4,131.9 L230.4,132.5 L231.4,133.2 L232.4,134.1 L233.4,135.0 L234.4,136.1 L235.4,137.2 L236.4,138.5 L237.4,139.9 L238.4,141.5 L239.4,143.0 L240.4,144.5 L241.4,146.1 L242.4,147.7 L243.4,149.4 L244.4,151.2 L245.4,153.1 L246.4,155.1 L247.4,157.1 L248.4,159.1 L249.4,161.0 L250.4,162.9 L251.4,164.8 L252.4,166.6 L253.4,168.4 L254.4,170.1 L255.4,171.8 L256.4,173.5 L257.4,175.1 L258.4,176.6 L259.4,178.1 L260.4,179.5 L261.4,180.9 L262.4,182.2 L263.4,183.5 L264.4,184.6 L265.4,185.6 L266.4,186.6 L267.4,187.5 L268.4,188.4 L269.4,189.1 L270.4,189.8 L271.4,190.4 L272.4,191.0 L273.4,191.5 L274.4,192.0 L275.4,192.5 L276.4,192.9 L277.4,193.2 L278.4,193.5 L279.4,193.8 L280.4,194.2 L281.4,194.6 L282.4,195.0 L283.4,195.2 L284.4,195.4 L285.4,195.4 L286.4,195.4 L287.4,195.3 L288.4,195.1 L289.4,194.8 L290.4,194.4 L291.4,193.8 L292.4,193.0 L293.4,192.2 L294.4,191.2 L295.4,190.3 L296.4,189.3 L297.4,188.3 L298.4,187.1 L299.4,185.8 L300.4,184.5 L301.4,183.1 L302.4,181.8 L303.4,180.4 L304.4,179.1 L305.4,177.9 L306.4,176.6 L307.4,175.3 L308.4,174.0 L309.4,172.7 L310.4,171.4 L311.4,170.1 L312.4,168.7 L313.4,167.3 L314.4,165.9 L315.4,164.4 L316.4,162.9 L317.4,161.4 L318.4,159.8 L319.4,158.3 L320.4,156.8 L321.4,155.3 L322.4,153.8 L323.4,152.3 L324.4,150.7 L325.4,149.1 L326.4,147.6 L327.4,146.1 L328.4,144.6 L329.4,142.9 L330.4,141.1 L331.4,139.6 L332.4,138.5 L333.4,137.2 L334.4,135.3 L335.4,133.5 L336.4,132.0 L337.4,130.7 L338.4,129.2 L339.4,127.9 L340.4,126.6 L341.4,124.9 L342.4,123.4 L343.4,122.6 L344.4,121.5 L345.4,120.1 L346.4,118.7 L347.4,117.6 L348.4,117.0 L349.4,116.4 L350.4,115.8 L351.4,115.3 L352.4,114.9 L353.4,114.7 L354.4,114.6 L355.4,114.1 L356.4,113.3 L357.4,113.0 L358.4,113.3 L359.4,113.3 L360.4,113.0 L361.4,112.9 L362.4,113.1 L363.4,113.2 L364.4,112.8 L365.4,112.6 L366.4,113.6 L367.4,114.4 L368.4,114.8 L369.4,115.2 L370.4,115.4 L371.4,115.7 L372.4,116.6 L373.4,117.3 L374.4,118.2 L375.4,119.6 L376.4,120.2 L377.4,120.9 L378.4,122.8 L379.4,124.6 L380.4,125.9 L381.4,127.5 L382.4,129.3 L383.4,131.1 L384.4,132.9 L385.4,134.6 L386.4,136.3 L387.4,138.9 L388.4,141.3 L389.4,143.1 L390.4,145.3 L391.4,147.9 L392.4,150.2 L393.4,152.7 L394.4,155.3 L395.4,157.9 L396.4,160.6 L397.4,163.3 L398.4,166.0 L399.4,168.8 L400.4,171.5 L401.4,174.2 L402.4,176.8 L403.4,179.5 L404.4,182.1 L405.4,184.6 L406.4,186.8 L407.4,189.0 L408.4,191.0 L409.4,192.9 L410.4,194.7 L411.4,196.4 L412.4,197.9 L413.4,199.4 L414.4,200.7 L415.4,202.0 L416.4,203.2 L417.4,204.3 L418.4,205.3 L419.4,206.2 L420.4,207.1 L421.4,207.9 L422.4,208.8 L423.4,209.6 L424.4,210.4 L425.4,211.2 L426.4,212.0 L427.4,212.8 L428.4,213.6 L429.4,214.4 L430.4,215.3 L431.4,216.1 L432.4,217.0 L433.4,218.0 L434.4,219.0 L435.4,220.0 L436.4,221.2 L437.4,222.4 L438.4,223.6 L439.4,224.9 L440.4,226.3 L441.4,227.6 L442.4,228.9 L443.4,230.2 L444.4,231.6 L445.4,232.9 L446.4,234.2 L447.4,235.5 L448.4,236.8 L449.4,238.1 L450.4,239.3 L451.4,240.6 L452.4,241.8 L453.4,243.0 L454.4,244.1 L455.4,245.3 L456.4,246.4 L457.4,247.5 L458.4,248.6 L459.4,249.6 L460.4,250.7 L461.4,251.7 L462.4,252.6 L463.4,253.6 L464.4,254.5 L465.4,255.4 L466.4,256.3 L467.4,257.1 L468.4,257.8 L469.4,258.6 L470.4,259.2 L471.4,259.9 L472.4,260.6 L473.4,261.2 L474.4,261.8 L475.4,262.4 L476.4,263.0 L477.4,263.5 L478.4,264.0 L479.4,264.4 L480.4,264.9 L481.4,265.3 L482.4,265.8 L483.4,266.2 L484.4,266.6 L485.4,267.0 L486.4,267.3 L487.4,267.7 L488.4,268.0 L489.4,268.3 L490.4,268.6 L491.4,268.8 L492.4,269.1 L493.4,269.3 L494.4,269.5 L495.4,269.8 L496.4,270.0 L497.4,270.2 L498.4,270.4 L499.4,270.5 L500.4,270.7 L501.4,270.8 L502.4,270.9 L503.4,271.0 L504.4,271.1 L505.4,271.2 L506.4,271.3 L507.4,271.4 L508.4,271.4 L509.4,271.5 L510.4,271.6 L511.4,271.6 L512.4,271.7 L513.4,271.7 L514.4,271.7 L515.4,271.8 L516.4,271.8 L516.5,271.8" stroke="#9DC3E6" stroke-width="2.2"/>
<path d="M72.4,149.4 L73.4,149.5 L74.4,149.6 L75.4,149.7 L76.4,149.8 L77.4,149.9 L78.4,150.0 L79.4,150.2 L80.4,150.4 L81.4,150.6 L82.4,150.8 L83.4,151.1 L84.4,151.5 L85.4,152.1 L86.4,152.8 L87.4,153.6 L88.4,154.4 L89.4,155.3 L90.4,156.1 L91.4,157.0 L92.4,157.8 L93.4,158.8 L94.4,159.8 L95.4,160.8 L96.4,161.9 L97.4,162.9 L98.4,163.9 L99.4,164.8 L100.4,165.8 L101.4,166.7 L102.4,167.6 L103.4,168.5 L104.4,169.4 L105.4,170.3 L106.4,171.2 L107.4,172.1 L108.4,173.0 L109.4,173.9 L110.4,174.7 L111.4,175.5 L112.4,176.3 L113.4,177.1 L114.4,178.0 L115.4,179.1 L116.4,180.5 L117.4,182.2 L118.4,184.0 L119.4,185.6 L120.4,187.1 L121.4,188.4 L122.4,189.6 L123.4,190.8 L124.4,191.8 L125.4,192.8 L126.4,193.8 L127.4,194.7 L128.4,195.5 L129.4,196.3 L130.4,197.1 L131.4,197.8 L132.4,198.6 L133.4,199.4 L134.4,200.1 L135.4,200.7 L136.4,201.2 L137.4,201.6 L138.4,201.8 L139.4,201.8 L140.4,201.8 L141.4,201.6 L142.4,201.5 L143.4,201.3 L144.4,201.0 L145.4,200.8 L146.4,200.4 L147.4,200.0 L148.4,199.4 L149.4,198.8 L150.4,198.2 L151.4,197.4 L152.4,196.6 L153.4,195.7 L154.4,194.7 L155.4,193.7 L156.4,192.6 L157.4,191.5 L158.4,190.4 L159.4,189.3 L160.4,188.3 L161.4,187.3 L162.4,186.2 L163.4,185.2 L164.4,184.1 L165.4,183.0 L166.4,181.9 L167.4,180.7 L168.4,179.6 L169.4,178.3 L170.4,177.1 L171.4,175.8 L172.4,174.5 L173.4,173.1 L174.4,171.6 L175.4,170.2 L176.4,168.7 L177.4,167.3 L178.4,165.8 L179.4,164.3 L180.4,162.9 L181.4,161.4 L182.4,159.9 L183.4,158.3 L184.4,156.8 L185.4,155.3 L186.4,153.8 L187.4,152.4 L188.4,151.0 L189.4,149.7 L190.4,148.4 L191.4,147.1 L192.4,145.9 L193.4,144.7 L194.4,143.5 L195.4,142.3 L196.4,141.2 L197.4,140.1 L198.4,139.0 L199.4,137.9 L200.4,136.7 L201.4,135.6 L202.4,134.5 L203.4,133.4 L204.4,132.4 L205.4,131.5 L206.4,130.7 L207.4,130.1 L208.4,129.4 L209.4,128.9 L210.4,128.3 L211.4,127.8 L212.4,127.4 L213.4,127.0 L214.4,126.7 L215.4,126.5 L216.4,126.3 L217.4,126.2 L218.4,126.0 L219.4,126.0 L220.4,126.1 L221.4,126.2 L222.4,126.4 L223.4,126.6 L224.4,126.8 L225.4,127.0 L226.4,127.4 L227.4,127.9 L228.4,128.4 L229.4,129.0 L230.4,129.7 L231.4,130.4 L232.4,131.3 L233.4,132.3 L234.4,133.3 L235.4,134.5 L236.4,135.8 L237.4,137.3 L238.4,138.9 L239.4,140.5 L240.4,142.0 L241.4,143.7 L242.4,145.3 L243.4,147.1 L244.4,148.9 L245.4,150.9 L246.4,153.0 L247.4,155.1 L248.4,157.1 L249.4,159.1 L250.4,161.1 L251.4,163.0 L252.4,164.9 L253.4,166.8 L254.4,168.6 L255.4,170.3 L256.4,172.1 L257.4,173.7 L258.4,175.4 L259.4,176.9 L260.4,178.4 L261.4,179.8 L262.4,181.2 L263.4,182.5 L264.4,183.7 L265.4,184.8 L266.4,185.9 L267.4,186.9 L268.4,187.8 L269.4,188.6 L270.4,189.3 L271.4,190.0 L272.4,190.6 L273.4,191.2 L274.4,191.8 L275.4,192.3 L276.4,192.7 L277.4,193.1 L278.4,193.5 L279.4,193.9 L280.4,194.3 L281.4,194.7 L282.4,195.1 L283.4,195.4 L284.4,195.5 L285.4,195.6 L286.4,195.6 L287.4,195.6 L288.4,195.4 L289.4,195.1 L290.4,194.8 L291.4,194.3 L292.4,193.6 L293.4,192.8 L294.4,191.9 L295.4,191.0 L296.4,190.1 L297.4,189.1 L298.4,188.0 L299.4,186.7 L300.4,185.5 L301.4,184.1 L302.4,182.8 L303.4,181.5 L304.4,180.3 L305.4,179.0 L306.4,177.8 L307.4,176.5 L308.4,175.3 L309.4,174.0 L310.4,172.7 L311.4,171.4 L312.4,170.1 L313.4,168.7 L314.4,167.3 L315.4,165.9 L316.4,164.4 L317.4,162.9 L318.4,161.4 L319.4,159.9 L320.4,158.4 L321.4,157.0 L322.4,155.5 L323.4,153.9 L324.4,152.3 L325.4,150.8 L326.4,149.3 L327.4,147.7 L328.4,146.0 L329.4,144.4 L330.4,143.0 L331.4,141.7 L332.4,140.5 L333.4,139.3 L334.4,137.7 L335.4,135.5 L336.4,133.3 L337.4,131.7 L338.4,130.8 L339.4,129.9 L340.4,128.6 L341.4,127.1 L342.4,125.7 L343.4,124.5 L344.4,123.5 L345.4,122.3 L346.4,121.1 L347.4,120.5 L348.4,120.0 L349.4,119.3 L350.4,118.5 L351.4,117.2 L352.4,116.2 L353.4,115.8 L354.4,115.8 L355.4,115.9 L356.4,115.7 L357.4,115.6 L358.4,115.6 L359.4,115.0 L360.4,114.1 L361.4,114.1 L362.4,115.0 L363.4,115.3 L364.4,115.0 L365.4,115.4 L366.4,115.8 L367.4,115.9 L368.4,116.2 L369.4,116.9 L370.4,117.3 L371.4,117.8 L372.4,118.2 L373.4,119.1 L374.4,120.4 L375.4,120.9 L376.4,121.7 L377.4,123.3 L378.4,124.7 L379.4,126.1 L380.4,128.0 L381.4,129.8 L382.4,131.5 L383.4,133.1 L384.4,134.6 L385.4,136.4 L386.4,138.0 L387.4,139.5 L388.4,141.5 L389.4,143.8 L390.4,146.4 L391.4,149.1 L392.4,151.6 L393.4,154.2 L394.4,156.9 L395.4,159.6 L396.4,162.2 L397.4,164.8 L398.4,167.5 L399.4,170.2 L400.4,172.9 L401.4,175.5 L402.4,178.2 L403.4,180.8 L404.4,183.4 L405.4,185.8 L406.4,188.0 L407.4,190.1 L408.4,192.1 L409.4,194.0 L410.4,195.7 L411.4,197.4 L412.4,198.9 L413.4,200.3 L414.4,201.6 L415.4,202.9 L416.4,204.0 L417.4,205.1 L418.4,206.0 L419.4,206.9 L420.4,207.8 L421.4,208.6 L422.4,209.4 L423.4,210.2 L424.4,211.0 L425.4,211.8 L426.4,212.5 L427.4,213.3 L428.4,214.1 L429.4,214.9 L430.4,215.8 L431.4,216.6 L432.4,217.5 L433.4,218.5 L434.4,219.4 L435.4,220.5 L436.4,221.6 L437.4,222.8 L438.4,224.1 L439.4,225.4 L440.4,226.7 L441.4,228.0 L442.4,229.3 L443.4,230.6 L444.4,231.9 L445.4,233.3 L446.4,234.6 L447.4,235.9 L448.4,237.1 L449.4,238.4 L450.4,239.6 L451.4,240.9 L452.4,242.1 L453.4,243.2 L454.4,244.4 L455.4,245.5 L456.4,246.6 L457.4,247.7 L458.4,248.8 L459.4,249.8 L460.4,250.9 L461.4,251.9 L462.4,252.8 L463.4,253.8 L464.4,254.7 L465.4,255.6 L466.4,256.4 L467.4,257.2 L468.4,257.9 L469.4,258.6 L470.4,259.3 L471.4,260.0 L472.4,260.7 L473.4,261.3 L474.4,261.9 L475.4,262.4 L476.4,263.0 L477.4,263.5 L478.4,264.0 L479.4,264.5 L480.4,264.9 L481.4,265.4 L482.4,265.8 L483.4,266.2 L484.4,266.6 L485.4,267.0 L486.4,267.3 L487.4,267.7 L488.4,268.0 L489.4,268.3 L490.4,268.6 L491.4,268.8 L492.4,269.1 L493.4,269.3 L494.4,269.5 L495.4,269.8 L496.4,270.0 L497.4,270.2 L498.4,270.4 L499.4,270.5 L500.4,270.7 L501.4,270.8 L502.4,270.9 L503.4,271.0 L504.4,271.1 L505.4,271.2 L506.4,271.3 L507.4,271.4 L508.4,271.4 L509.4,271.5 L510.4,271.6 L511.4,271.6 L512.4,271.7 L513.4,271.7 L514.4,271.7 L515.4,271.8 L516.4,271.8 L516.5,271.8" stroke="#F4B183" stroke-width="2.2"/>
<path d="M72.4,150.4 L73.4,150.5 L74.4,150.5 L75.4,150.6 L76.4,150.8 L77.4,150.9 L78.4,151.0 L79.4,151.2 L80.4,151.4 L81.4,151.6 L82.4,151.8 L83.4,152.1 L84.4,152.5 L85.4,153.0 L86.4,153.8 L87.4,154.5 L88.4,155.3 L89.4,156.1 L90.4,156.9 L91.4,157.7 L92.4,158.6 L93.4,159.5 L94.4,160.4 L95.4,161.4 L96.4,162.5 L97.4,163.5 L98.4,164.4 L99.4,165.3 L100.4,166.2 L101.4,167.1 L102.4,167.9 L103.4,168.8 L104.4,169.7 L105.4,170.5 L106.4,171.4 L107.4,172.3 L108.4,173.1 L109.4,174.0 L110.4,174.8 L111.4,175.6 L112.4,176.4 L113.4,177.2 L114.4,178.1 L115.4,179.1 L116.4,180.5 L117.4,182.1 L118.4,183.7 L119.4,185.3 L120.4,186.6 L121.4,187.9 L122.4,189.0 L123.4,190.1 L124.4,191.1 L125.4,192.1 L126.4,193.0 L127.4,193.8 L128.4,194.6 L129.4,195.4 L130.4,196.1 L131.4,196.9 L132.4,197.7 L133.4,198.4 L134.4,199.1 L135.4,199.8 L136.4,200.3 L137.4,200.7 L138.4,200.8 L139.4,200.9 L140.4,200.8 L141.4,200.7 L142.4,200.5 L143.4,200.3 L144.4,200.0 L145.4,199.8 L146.4,199.4 L147.4,198.9 L148.4,198.3 L149.4,197.7 L150.4,197.1 L151.4,196.3 L152.4,195.4 L153.4,194.5 L154.4,193.5 L155.4,192.4 L156.4,191.3 L157.4,190.2 L158.4,189.1 L159.4,188.0 L160.4,186.9 L161.4,185.8 L162.4,184.8 L163.4,183.7 L164.4,182.6 L165.4,181.4 L166.4,180.3 L167.4,179.1 L168.4,177.9 L169.4,176.7 L170.4,175.4 L171.4,174.1 L172.4,172.7 L173.4,171.3 L174.4,169.8 L175.4,168.3 L176.4,166.8 L177.4,165.3 L178.4,163.8 L179.4,162.3 L180.4,160.8 L181.4,159.3 L182.4,157.7 L183.4,156.1 L184.4,154.6 L185.4,153.0 L186.4,151.5 L187.4,150.0 L188.4,148.6 L189.4,147.2 L190.4,145.9 L191.4,144.6 L192.4,143.3 L193.4,142.1 L194.4,140.9 L195.4,139.7 L196.4,138.5 L197.4,137.4 L198.4,136.3 L199.4,135.1 L200.4,134.0 L201.4,132.8 L202.4,131.7 L203.4,130.6 L204.4,129.6 L205.4,128.6 L206.4,127.8 L207.4,127.1 L208.4,126.5 L209.4,125.9 L210.4,125.3 L211.4,124.8 L212.4,124.4 L213.4,124.0 L214.4,123.8 L215.4,123.5 L216.4,123.3 L217.4,123.2 L218.4,123.1 L219.4,123.0 L220.4,123.1 L221.4,123.2 L222.4,123.4 L223.4,123.6 L224.4,123.8 L225.4,124.1 L226.4,124.5 L227.4,124.9 L228.4,125.5 L229.4,126.1 L230.4,126.8 L231.4,127.6 L232.4,128.5 L233.4,129.5 L234.4,130.6 L235.4,131.8 L236.4,133.2 L237.4,134.7 L238.4,136.3 L239.4,138.0 L240.4,139.6 L241.4,141.3 L242.4,143.0 L243.4,144.8 L244.4,146.7 L245.4,148.7 L246.4,150.9 L247.4,153.0 L248.4,155.1 L249.4,157.2 L250.4,159.3 L251.4,161.3 L252.4,163.2 L253.4,165.1 L254.4,167.0 L255.4,168.9 L256.4,170.6 L257.4,172.4 L258.4,174.1 L259.4,175.7 L260.4,177.3 L261.4,178.8 L262.4,180.2 L263.4,181.6 L264.4,182.9 L265.4,184.0 L266.4,185.2 L267.4,186.2 L268.4,187.2 L269.4,188.1 L270.4,188.9 L271.4,189.6 L272.4,190.3 L273.4,190.9 L274.4,191.5 L275.4,192.1 L276.4,192.6 L277.4,193.0 L278.4,193.5 L279.4,193.9 L280.4,194.3 L281.4,194.8 L282.4,195.2 L283.4,195.5 L284.4,195.7 L285.4,195.8 L286.4,195.8 L287.4,195.8 L288.4,195.6 L289.4,195.4 L290.4,195.1 L291.4,194.7 L292.4,194.0 L293.4,193.3 L294.4,192.4 L295.4,191.6 L296.4,190.7 L297.4,189.8 L298.4,188.7 L299.4,187.5 L300.4,186.3 L301.4,185.0 L302.4,183.7 L303.4,182.4 L304.4,181.2 L305.4,180.0 L306.4,178.8 L307.4,177.6 L308.4,176.4 L309.4,175.1 L310.4,173.8 L311.4,172.6 L312.4,171.3 L313.4,169.9 L314.4,168.5 L315.4,167.1 L316.4,165.6 L317.4,164.1 L318.4,162.7 L319.4,161.2 L320.4,159.7 L321.4,158.3 L322.4,156.8 L323.4,155.3 L324.4,153.8 L325.4,152.2 L326.4,150.7 L327.4,149.3 L328.4,147.7 L329.4,146.0 L330.4,144.2 L331.4,142.8 L332.4,141.3 L333.4,139.5 L334.4,138.0 L335.4,136.7 L336.4,135.5 L337.4,134.2 L338.4,132.5 L339.4,130.9 L340.4,130.1 L341.4,129.3 L342.4,127.7 L343.4,126.2 L344.4,125.2 L345.4,124.1 L346.4,123.0 L347.4,122.4 L348.4,121.8 L349.4,121.0 L350.4,119.8 L351.4,118.9 L352.4,118.8 L353.4,118.6 L354.4,118.0 L355.4,117.5 L356.4,117.1 L357.4,117.0 L358.4,117.1 L359.4,117.0 L360.4,116.8 L361.4,116.6 L362.4,116.5 L363.4,116.5 L364.4,116.6 L365.4,116.6 L366.4,116.9 L367.4,117.8 L368.4,118.4 L369.4,119.1 L370.4,119.5 L371.4,119.4 L372.4,120.2 L373.4,121.4 L374.4,122.3 L375.4,122.9 L376.4,123.6 L377.4,124.9 L378.4,126.9 L379.4,128.6 L380.4,129.7 L381.4,131.1 L382.4,132.7 L383.4,133.9 L384.4,135.5 L385.4,137.5 L386.4,139.5 L387.4,141.6 L388.4,143.8 L389.4,146.4 L390.4,148.9 L391.4,150.9 L392.4,153.1 L393.4,155.8 L394.4,158.3 L395.4,160.9 L396.4,163.5 L397.4,166.2 L398.4,168.8 L399.4,171.5 L400.4,174.1 L401.4,176.7 L402.4,179.3 L403.4,181.9 L404.4,184.5 L405.4,186.8 L406.4,189.0 L407.4,191.1 L408.4,193.0 L409.4,194.9 L410.4,196.6 L411.4,198.2 L412.4,199.7 L413.4,201.1 L414.4,202.4 L415.4,203.6 L416.4,204.7 L417.4,205.7 L418.4,206.7 L419.4,207.6 L420.4,208.4 L421.4,209.2 L422.4,210.0 L423.4,210.8 L424.4,211.5 L425.4,212.3 L426.4,213.0 L427.4,213.8 L428.4,214.6 L429.4,215.4 L430.4,216.2 L431.4,217.0 L432.4,217.9 L433.4,218.8 L434.4,219.8 L435.4,220.8 L436.4,222.0 L437.4,223.2 L438.4,224.4 L439.4,225.7 L440.4,227.0 L441.4,228.3 L442.4,229.6 L443.4,230.9 L444.4,232.3 L445.4,233.6 L446.4,234.9 L447.4,236.2 L448.4,237.4 L449.4,238.7 L450.4,239.9 L451.4,241.1 L452.4,242.3 L453.4,243.5 L454.4,244.6 L455.4,245.7 L456.4,246.8 L457.4,247.9 L458.4,249.0 L459.4,250.0 L460.4,251.0 L461.4,252.0 L462.4,253.0 L463.4,253.9 L464.4,254.8 L465.4,255.7 L466.4,256.5 L467.4,257.3 L468.4,258.0 L469.4,258.7 L470.4,259.4 L471.4,260.1 L472.4,260.7 L473.4,261.3 L474.4,261.9 L475.4,262.5 L476.4,263.0 L477.4,263.6 L478.4,264.0 L479.4,264.5 L480.4,265.0 L481.4,265.4 L482.4,265.8 L483.4,266.2 L484.4,266.6 L485.4,267.0 L486.4,267.4 L487.4,267.7 L488.4,268.0 L489.4,268.3 L490.4,268.6 L491.4,268.8 L492.4,269.1 L493.4,269.3 L494.4,269.6 L495.4,269.8 L496.4,270.0 L497.4,270.2 L498.4,270.4 L499.4,270.5 L500.4,270.7 L501.4,270.8 L502.4,270.9 L503.4,271.0 L504.4,271.1 L505.4,271.2 L506.4,271.3 L507.4,271.4 L508.4,271.4 L509.4,271.5 L510.4,271.6 L511.4,271.6 L512.4,271.7 L513.4,271.7 L514.4,271.7 L515.4,271.8 L516.4,271.8 L516.5,271.8" stroke="#C9C9C9" stroke-width="2.2"/>
<path d="M72.4,151.4 L73.4,151.4 L74.4,151.5 L75.4,151.6 L76.4,151.8 L77.4,151.9 L78.4,152.0 L79.4,152.2 L80.4,152.4 L81.4,152.6 L82.4,152.8 L83.4,153.1 L84.4,153.5 L85.4,154.0 L86.4,154.7 L87.4,155.4 L88.4,156.2 L89.4,156.9 L90.4,157.7 L91.4,158.5 L92.4,159.3 L93.4,160.2 L94.4,161.1 L95.4,162.1 L96.4,163.1 L97.4,164.0 L98.4,165.0 L99.4,165.8 L100.4,166.7 L101.4,167.5 L102.4,168.3 L103.4,169.1 L104.4,170.0 L105.4,170.8 L106.4,171.6 L107.4,172.5 L108.4,173.3 L109.4,174.1 L110.4,174.9 L111.4,175.7 L112.4,176.5 L113.4,177.2 L114.4,178.1 L115.4,179.1 L116.4,180.4 L117.4,181.9 L118.4,183.5 L119.4,185.0 L120.4,186.2 L121.4,187.4 L122.4,188.5 L123.4,189.5 L124.4,190.5 L125.4,191.4 L126.4,192.2 L127.4,193.1 L128.4,193.8 L129.4,194.6 L130.4,195.3 L131.4,196.0 L132.4,196.8 L133.4,197.6 L134.4,198.3 L135.4,198.9 L136.4,199.4 L137.4,199.8 L138.4,200.0 L139.4,200.0 L140.4,199.9 L141.4,199.8 L142.4,199.6 L143.4,199.4 L144.4,199.1 L145.4,198.8 L146.4,198.5 L147.4,198.0 L148.4,197.4 L149.4,196.7 L150.4,196.1 L151.4,195.3 L152.4,194.4 L153.4,193.4 L154.4,192.4 L155.4,191.3 L156.4,190.2 L157.4,189.0 L158.4,187.9 L159.4,186.7 L160.4,185.6 L161.4,184.5 L162.4,183.4 L163.4,182.3 L164.4,181.2 L165.4,180.0 L166.4,178.9 L167.4,177.7 L168.4,176.4 L169.4,175.2 L170.4,173.9 L171.4,172.5 L172.4,171.1 L173.4,169.6 L174.4,168.1 L175.4,166.6 L176.4,165.1 L177.4,163.5 L178.4,162.0 L179.4,160.4 L180.4,158.9 L181.4,157.4 L182.4,155.8 L183.4,154.2 L184.4,152.6 L185.4,151.0 L186.4,149.4 L187.4,147.9 L188.4,146.4 L189.4,145.0 L190.4,143.7 L191.4,142.3 L192.4,141.1 L193.4,139.8 L194.4,138.6 L195.4,137.3 L196.4,136.2 L197.4,135.0 L198.4,133.8 L199.4,132.7 L200.4,131.5 L201.4,130.3 L202.4,129.1 L203.4,128.0 L204.4,127.0 L205.4,126.0 L206.4,125.2 L207.4,124.5 L208.4,123.9 L209.4,123.2 L210.4,122.7 L211.4,122.2 L212.4,121.7 L213.4,121.3 L214.4,121.1 L215.4,120.8 L216.4,120.6 L217.4,120.5 L218.4,120.4 L219.4,120.3 L220.4,120.4 L221.4,120.5 L222.4,120.7 L223.4,120.9 L224.4,121.2 L225.4,121.5 L226.4,121.8 L227.4,122.3 L228.4,122.9 L229.4,123.6 L230.4,124.3 L231.4,125.1 L232.4,126.0 L233.4,127.0 L234.4,128.1 L235.4,129.3 L236.4,130.8 L237.4,132.4 L238.4,134.0 L239.4,135.7 L240.4,137.4 L241.4,139.1 L242.4,140.9 L243.4,142.7 L244.4,144.7 L245.4,146.8 L246.4,149.0 L247.4,151.2 L248.4,153.4 L249.4,155.5 L250.4,157.6 L251.4,159.7 L252.4,161.7 L253.4,163.7 L254.4,165.6 L255.4,167.5 L256.4,169.4 L257.4,171.2 L258.4,172.9 L259.4,174.6 L260.4,176.2 L261.4,177.8 L262.4,179.3 L263.4,180.8 L264.4,182.1 L265.4,183.3 L266.4,184.5 L267.4,185.6 L268.4,186.7 L269.4,187.6 L270.4,188.5 L271.4,189.2 L272.4,190.0 L273.4,190.7 L274.4,191.3 L275.4,191.9 L276.4,192.5 L277.4,193.0 L278.4,193.4 L279.4,193.9 L280.4,194.4 L281.4,194.9 L282.4,195.3 L283.4,195.6 L284.4,195.8 L285.4,195.9 L286.4,196.0 L287.4,196.0 L288.4,195.9 L289.4,195.7 L290.4,195.5 L291.4,195.0 L292.4,194.4 L293.4,193.7 L294.4,193.0 L295.4,192.2 L296.4,191.4 L297.4,190.4 L298.4,189.4 L299.4,188.2 L300.4,187.0 L301.4,185.8 L302.4,184.5 L303.4,183.3 L304.4,182.1 L305.4,180.9 L306.4,179.8 L307.4,178.6 L308.4,177.4 L309.4,176.1 L310.4,174.9 L311.4,173.7 L312.4,172.4 L313.4,171.0 L314.4,169.7 L315.4,168.2 L316.4,166.8 L317.4,165.3 L318.4,163.9 L319.4,162.4 L320.4,161.0 L321.4,159.6 L322.4,158.1 L323.4,156.5 L324.4,155.0 L325.4,153.7 L326.4,152.2 L327.4,150.6 L328.4,148.9 L329.4,147.4 L330.4,145.9 L331.4,144.7 L332.4,143.6 L333.4,141.9 L334.4,140.0 L335.4,138.5 L336.4,137.0 L337.4,135.2 L338.4,133.5 L339.4,132.1 L340.4,131.2 L341.4,130.1 L342.4,128.7 L343.4,127.8 L344.4,127.3 L345.4,126.3 L346.4,125.0 L347.4,123.8 L348.4,123.1 L349.4,122.2 L350.4,121.1 L351.4,120.3 L352.4,119.7 L353.4,118.9 L354.4,118.3 L355.4,118.1 L356.4,118.4 L357.4,118.7 L358.4,118.4 L359.4,118.1 L360.4,118.7 L361.4,119.0 L362.4,118.3 L363.4,117.9 L364.4,118.0 L365.4,118.4 L366.4,118.9 L367.4,119.2 L368.4,119.6 L369.4,120.0 L370.4,120.3 L371.4,121.0 L372.4,121.9 L373.4,122.7 L374.4,123.6 L375.4,124.5 L376.4,125.3 L377.4,126.1 L378.4,127.8 L379.4,129.9 L380.4,131.3 L381.4,132.5 L382.4,133.8 L383.4,135.5 L384.4,137.1 L385.4,138.7 L386.4,140.8 L387.4,142.8 L388.4,144.6 L389.4,147.0 L390.4,149.7 L391.4,152.4 L392.4,155.2 L393.4,157.4 L394.4,159.5 L395.4,162.2 L396.4,164.9 L397.4,167.4 L398.4,170.1 L399.4,172.7 L400.4,175.3 L401.4,177.8 L402.4,180.4 L403.4,183.0 L404.4,185.5 L405.4,187.8 L406.4,190.0 L407.4,192.0 L408.4,193.9 L409.4,195.7 L410.4,197.4 L411.4,199.0 L412.4,200.4 L413.4,201.8 L414.4,203.1 L415.4,204.2 L416.4,205.3 L417.4,206.4 L418.4,207.3 L419.4,208.1 L420.4,208.9 L421.4,209.7 L422.4,210.5 L423.4,211.3 L424.4,212.0 L425.4,212.8 L426.4,213.5 L427.4,214.2 L428.4,215.0 L429.4,215.8 L430.4,216.6 L431.4,217.4 L432.4,218.3 L433.4,219.2 L434.4,220.2 L435.4,221.2 L436.4,222.3 L437.4,223.5 L438.4,224.8 L439.4,226.1 L440.4,227.4 L441.4,228.7 L442.4,229.9 L443.4,231.3 L444.4,232.6 L445.4,233.9 L446.4,235.2 L447.4,236.4 L448.4,237.7 L449.4,238.9 L450.4,240.2 L451.4,241.4 L452.4,242.5 L453.4,243.7 L454.4,244.8 L455.4,245.9 L456.4,247.0 L457.4,248.1 L458.4,249.1 L459.4,250.2 L460.4,251.2 L461.4,252.2 L462.4,253.1 L463.4,254.0 L464.4,254.9 L465.4,255.8 L466.4,256.6 L467.4,257.4 L468.4,258.1 L469.4,258.8 L470.4,259.5 L471.4,260.1 L472.4,260.8 L473.4,261.4 L474.4,262.0 L475.4,262.5 L476.4,263.1 L477.4,263.6 L478.4,264.1 L479.4,264.5 L480.4,265.0 L481.4,265.4 L482.4,265.8 L483.4,266.2 L484.4,266.6 L485.4,267.0 L486.4,267.4 L487.4,267.7 L488.4,268.0 L489.4,268.3 L490.4,268.6 L491.4,268.8 L492.4,269.1 L493.4,269.3 L494.4,269.6 L495.4,269.8 L496.4,270.0 L497.4,270.2 L498.4,270.4 L499.4,270.5 L500.4,270.7 L501.4,270.8 L502.4,270.9 L503.4,271.0 L504.4,271.1 L505.4,271.2 L506.4,271.3 L507.4,271.4 L508.4,271.4 L509.4,271.5 L510.4,271.6 L511.4,271.6 L512.4,271.7 L513.4,271.7 L514.4,271.7 L515.4,271.8 L516.4,271.8 L516.5,271.8" stroke="#FFD966" stroke-width="2.2"/>
<path d="M72.4,152.3 L73.4,152.4 L74.4,152.5 L75.4,152.6 L76.4,152.7 L77.4,152.9 L78.4,153.0 L79.4,153.2 L80.4,153.4 L81.4,153.6 L82.4,153.8 L83.4,154.1 L84.4,154.4 L85.4,155.0 L86.4,155.6 L87.4,156.3 L88.4,157.0 L89.4,157.8 L90.4,158.5 L91.4,159.3 L92.4,160.0 L93.4,160.8 L94.4,161.7 L95.4,162.7 L96.4,163.7 L97.4,164.6 L98.4,165.5 L99.4,166.3 L100.4,167.1 L101.4,167.9 L102.4,168.7 L103.4,169.5 L104.4,170.3 L105.4,171.0 L106.4,171.8 L107.4,172.6 L108.4,173.4 L109.4,174.2 L110.4,175.0 L111.4,175.8 L112.4,176.5 L113.4,177.3 L114.4,178.1 L115.4,179.1 L116.4,180.3 L117.4,181.8 L118.4,183.3 L119.4,184.6 L120.4,185.9 L121.4,187.0 L122.4,188.0 L123.4,188.9 L124.4,189.9 L125.4,190.7 L126.4,191.5 L127.4,192.3 L128.4,193.1 L129.4,193.8 L130.4,194.5 L131.4,195.2 L132.4,196.0 L133.4,196.7 L134.4,197.4 L135.4,198.1 L136.4,198.6 L137.4,199.0 L138.4,199.1 L139.4,199.1 L140.4,199.0 L141.4,198.9 L142.4,198.7 L143.4,198.5 L144.4,198.2 L145.4,197.9 L146.4,197.5 L147.4,197.0 L148.4,196.4 L149.4,195.8 L150.4,195.1 L151.4,194.3 L152.4,193.3 L153.4,192.3 L154.4,191.3 L155.4,190.2 L156.4,189.0 L157.4,187.8 L158.4,186.7 L159.4,185.5 L160.4,184.4 L161.4,183.3 L162.4,182.1 L163.4,181.0 L164.4,179.8 L165.4,178.6 L166.4,177.4 L167.4,176.2 L168.4,175.0 L169.4,173.7 L170.4,172.3 L171.4,170.9 L172.4,169.5 L173.4,168.0 L174.4,166.5 L175.4,164.9 L176.4,163.3 L177.4,161.8 L178.4,160.2 L179.4,158.6 L180.4,157.0 L181.4,155.4 L182.4,153.8 L183.4,152.2 L184.4,150.5 L185.4,148.9 L186.4,147.3 L187.4,145.8 L188.4,144.3 L189.4,142.8 L190.4,141.4 L191.4,140.1 L192.4,138.8 L193.4,137.5 L194.4,136.2 L195.4,135.0 L196.4,133.8 L197.4,132.6 L198.4,131.4 L199.4,130.2 L200.4,129.0 L201.4,127.8 L202.4,126.6 L203.4,125.4 L204.4,124.4 L205.4,123.4 L206.4,122.6 L207.4,121.9 L208.4,121.2 L209.4,120.6 L210.4,120.0 L211.4,119.5 L212.4,119.0 L213.4,118.7 L214.4,118.4 L215.4,118.2 L216.4,117.9 L217.4,117.8 L218.4,117.7 L219.4,117.7 L220.4,117.7 L221.4,117.9 L222.4,118.0 L223.4,118.3 L224.4,118.5 L225.4,118.8 L226.4,119.2 L227.4,119.7 L228.4,120.3 L229.4,121.0 L230.4,121.7 L231.4,122.5 L232.4,123.5 L233.4,124.5 L234.4,125.7 L235.4,126.9 L236.4,128.4 L237.4,130.0 L238.4,131.7 L239.4,133.4 L240.4,135.2 L241.4,136.9 L242.4,138.8 L243.4,140.7 L244.4,142.7 L245.4,144.8 L246.4,147.1 L247.4,149.4 L248.4,151.6 L249.4,153.8 L250.4,156.0 L251.4,158.1 L252.4,160.2 L253.4,162.2 L254.4,164.2 L255.4,166.2 L256.4,168.1 L257.4,170.0 L258.4,171.8 L259.4,173.5 L260.4,175.2 L261.4,176.8 L262.4,178.4 L263.4,179.9 L264.4,181.3 L265.4,182.6 L266.4,183.9 L267.4,185.1 L268.4,186.2 L269.4,187.2 L270.4,188.0 L271.4,188.9 L272.4,189.7 L273.4,190.4 L274.4,191.1 L275.4,191.7 L276.4,192.3 L277.4,192.9 L278.4,193.4 L279.4,193.9 L280.4,194.4 L281.4,195.0 L282.4,195.4 L283.4,195.8 L284.4,196.0 L285.4,196.1 L286.4,196.2 L287.4,196.2 L288.4,196.1 L289.4,196.0 L290.4,195.8 L291.4,195.4 L292.4,194.9 L293.4,194.2 L294.4,193.5 L295.4,192.8 L296.4,192.0 L297.4,191.1 L298.4,190.1 L299.4,189.0 L300.4,187.9 L301.4,186.6 L302.4,185.4 L303.4,184.2 L304.4,183.1 L305.4,181.9 L306.4,180.8 L307.4,179.6 L308.4,178.4 L309.4,177.3 L310.4,176.0 L311.4,174.8 L312.4,173.5 L313.4,172.2 L314.4,170.9 L315.4,169.5 L316.4,168.1 L317.4,166.6 L318.4,165.2 L319.4,163.7 L320.4,162.3 L321.4,160.9 L322.4,159.5 L323.4,158.2 L324.4,156.8 L325.4,155.5 L326.4,153.9 L327.4,152.1 L328.4,150.5 L329.4,149.2 L330.4,147.8 L331.4,146.1 L332.4,144.6 L333.4,143.4 L334.4,142.2 L335.4,140.8 L336.4,139.1 L337.4,137.6 L338.4,136.6 L339.4,135.5 L340.4,133.7 L341.4,132.0 L342.4,130.9 L343.4,129.8 L344.4,129.0 L345.4,128.0 L346.4,126.8 L347.4,125.3 L348.4,123.8 L349.4,123.2 L350.4,122.7 L351.4,122.3 L352.4,122.4 L353.4,122.1 L354.4,121.0 L355.4,120.2 L356.4,120.4 L357.4,120.6 L358.4,120.1 L359.4,119.8 L360.4,119.8 L361.4,119.5 L362.4,119.6 L363.4,119.8 L364.4,119.8 L365.4,120.0 L366.4,120.3 L367.4,120.6 L368.4,121.6 L369.4,122.5 L370.4,122.6 L371.4,122.6 L372.4,123.4 L373.4,124.4 L374.4,125.1 L375.4,125.8 L376.4,126.8 L377.4,128.3 L378.4,129.8 L379.4,131.3 L380.4,133.0 L381.4,134.8 L382.4,136.5 L383.4,137.9 L384.4,139.4 L385.4,141.1 L386.4,143.0 L387.4,144.8 L388.4,146.8 L389.4,149.2 L390.4,151.6 L391.4,154.0 L392.4,156.6 L393.4,159.1 L394.4,161.3 L395.4,163.6 L396.4,166.2 L397.4,168.8 L398.4,171.3 L399.4,173.9 L400.4,176.5 L401.4,179.0 L402.4,181.5 L403.4,184.1 L404.4,186.6 L405.4,188.9 L406.4,191.0 L407.4,193.0 L408.4,194.9 L409.4,196.6 L410.4,198.3 L411.4,199.8 L412.4,201.2 L413.4,202.6 L414.4,203.8 L415.4,205.0 L416.4,206.0 L417.4,207.0 L418.4,207.9 L419.4,208.8 L420.4,209.5 L421.4,210.3 L422.4,211.1 L423.4,211.8 L424.4,212.5 L425.4,213.3 L426.4,214.0 L427.4,214.7 L428.4,215.4 L429.4,216.2 L430.4,217.0 L431.4,217.9 L432.4,218.7 L433.4,219.6 L434.4,220.6 L435.4,221.6 L436.4,222.7 L437.4,223.9 L438.4,225.2 L439.4,226.4 L440.4,227.7 L441.4,229.0 L442.4,230.3 L443.4,231.6 L444.4,232.9 L445.4,234.2 L446.4,235.5 L447.4,236.7 L448.4,238.0 L449.4,239.2 L450.4,240.4 L451.4,241.6 L452.4,242.8 L453.4,243.9 L454.4,245.0 L455.4,246.1 L456.4,247.2 L457.4,248.3 L458.4,249.3 L459.4,250.3 L460.4,251.3 L461.4,252.3 L462.4,253.2 L463.4,254.2 L464.4,255.1 L465.4,255.9 L466.4,256.7 L467.4,257.5 L468.4,258.2 L469.4,258.9 L470.4,259.5 L471.4,260.2 L472.4,260.8 L473.4,261.4 L474.4,262.0 L475.4,262.6 L476.4,263.1 L477.4,263.6 L478.4,264.1 L479.4,264.6 L480.4,265.0 L481.4,265.4 L482.4,265.9 L483.4,266.3 L484.4,266.7 L485.4,267.0 L486.4,267.4 L487.4,267.7 L488.4,268.0 L489.4,268.3 L490.4,268.6 L491.4,268.9 L492.4,269.1 L493.4,269.3 L494.4,269.6 L495.4,269.8 L496.4,270.0 L497.4,270.2 L498.4,270.4 L499.4,270.5 L500.4,270.7 L501.4,270.8 L502.4,270.9 L503.4,271.0 L504.4,271.1 L505.4,271.2 L506.4,271.3 L507.4,271.4 L508.4,271.4 L509.4,271.5 L510.4,271.6 L511.4,271.6 L512.4,271.7 L513.4,271.7 L514.4,271.8 L515.4,271.8 L516.4,271.8 L516.5,271.8" stroke="#8FAADC" stroke-width="2.2"/>
<path d="M72.4,153.3 L73.4,153.4 L74.4,153.5 L75.4,153.6 L76.4,153.7 L77.4,153.9 L78.4,154.0 L79.4,154.2 L80.4,154.4 L81.4,154.6 L82.4,154.8 L83.4,155.1 L84.4,155.4 L85.4,155.9 L86.4,156.6 L87.4,157.2 L88.4,157.9 L89.4,158.6 L90.4,159.3 L91.4,160.0 L92.4,160.8 L93.4,161.5 L94.4,162.4 L95.4,163.3 L96.4,164.3 L97.4,165.2 L98.4,166.0 L99.4,166.8 L100.4,167.5 L101.4,168.3 L102.4,169.0 L103.4,169.8 L104.4,170.5 L105.4,171.3 L106.4,172.1 L107.4,172.8 L108.4,173.6 L109.4,174.4 L110.4,175.1 L111.4,175.8 L112.4,176.6 L113.4,177.3 L114.4,178.2 L115.4,179.1 L116.4,180.3 L117.4,181.6 L118.4,183.0 L119.4,184.3 L120.4,185.5 L121.4,186.5 L122.4,187.5 L123.4,188.4 L124.4,189.2 L125.4,190.1 L126.4,190.8 L127.4,191.6 L128.4,192.3 L129.4,193.0 L130.4,193.7 L131.4,194.4 L132.4,195.1 L133.4,195.9 L134.4,196.6 L135.4,197.3 L136.4,197.8 L137.4,198.1 L138.4,198.3 L139.4,198.3 L140.4,198.2 L141.4,198.0 L142.4,197.8 L143.4,197.6 L144.4,197.3 L145.4,197.0 L146.4,196.6 L147.4,196.1 L148.4,195.5 L149.4,194.8 L150.4,194.1 L151.4,193.3 L152.4,192.3 L153.4,191.3 L154.4,190.2 L155.4,189.1 L156.4,187.9 L157.4,186.7 L158.4,185.5 L159.4,184.3 L160.4,183.2 L161.4,182.0 L162.4,180.9 L163.4,179.7 L164.4,178.5 L165.4,177.3 L166.4,176.1 L167.4,174.8 L168.4,173.5 L169.4,172.2 L170.4,170.8 L171.4,169.4 L172.4,167.9 L173.4,166.4 L174.4,164.9 L175.4,163.3 L176.4,161.7 L177.4,160.0 L178.4,158.4 L179.4,156.8 L180.4,155.2 L181.4,153.6 L182.4,151.9 L183.4,150.3 L184.4,148.6 L185.4,146.9 L186.4,145.3 L187.4,143.7 L188.4,142.2 L189.4,140.7 L190.4,139.3 L191.4,137.9 L192.4,136.6 L193.4,135.3 L194.4,134.0 L195.4,132.7 L196.4,131.5 L197.4,130.2 L198.4,129.0 L199.4,127.8 L200.4,126.6 L201.4,125.3 L202.4,124.1 L203.4,123.0 L204.4,121.9 L205.4,120.9 L206.4,120.0 L207.4,119.3 L208.4,118.7 L209.4,118.0 L210.4,117.4 L211.4,116.9 L212.4,116.5 L213.4,116.1 L214.4,115.8 L215.4,115.6 L216.4,115.4 L217.4,115.2 L218.4,115.1 L219.4,115.1 L220.4,115.1 L221.4,115.3 L222.4,115.5 L223.4,115.7 L224.4,116.0 L225.4,116.3 L226.4,116.7 L227.4,117.2 L228.4,117.8 L229.4,118.5 L230.4,119.2 L231.4,120.1 L232.4,121.0 L233.4,122.1 L234.4,123.3 L235.4,124.6 L236.4,126.1 L237.4,127.8 L238.4,129.5 L239.4,131.3 L240.4,133.0 L241.4,134.8 L242.4,136.7 L243.4,138.7 L244.4,140.7 L245.4,142.9 L246.4,145.2 L247.4,147.6 L248.4,149.9 L249.4,152.1 L250.4,154.4 L251.4,156.6 L252.4,158.7 L253.4,160.8 L254.4,162.8 L255.4,164.9 L256.4,166.8 L257.4,168.8 L258.4,170.6 L259.4,172.4 L260.4,174.2 L261.4,175.9 L262.4,177.6 L263.4,179.1 L264.4,180.6 L265.4,181.9 L266.4,183.2 L267.4,184.5 L268.4,185.6 L269.4,186.7 L270.4,187.6 L271.4,188.5 L272.4,189.4 L273.4,190.1 L274.4,190.9 L275.4,191.6 L276.4,192.2 L277.4,192.8 L278.4,193.4 L279.4,193.9 L280.4,194.5 L281.4,195.1 L282.4,195.5 L283.4,195.9 L284.4,196.1 L285.4,196.3 L286.4,196.4 L287.4,196.4 L288.4,196.4 L289.4,196.3 L290.4,196.2 L291.4,195.8 L292.4,195.3 L293.4,194.7 L294.4,194.1 L295.4,193.4 L296.4,192.7 L297.4,191.8 L298.4,190.9 L299.4,189.8 L300.4,188.7 L301.4,187.5 L302.4,186.3 L303.4,185.1 L304.4,184.0 L305.4,182.9 L306.4,181.8 L307.4,180.7 L308.4,179.5 L309.4,178.4 L310.4,177.2 L311.4,176.0 L312.4,174.7 L313.4,173.4 L314.4,172.1 L315.4,170.7 L316.4,169.3 L317.4,167.9 L318.4,166.5 L319.4,165.0 L320.4,163.6 L321.4,162.2 L322.4,160.9 L323.4,159.4 L324.4,157.9 L325.4,156.5 L326.4,155.0 L327.4,153.7 L328.4,152.3 L329.4,150.5 L330.4,149.0 L331.4,147.4 L332.4,145.9 L333.4,144.7 L334.4,143.0 L335.4,141.2 L336.4,140.0 L337.4,138.5 L338.4,136.9 L339.4,135.8 L340.4,135.0 L341.4,133.6 L342.4,132.0 L343.4,130.8 L344.4,129.8 L345.4,128.9 L346.4,128.3 L347.4,127.5 L348.4,126.6 L349.4,125.4 L350.4,124.8 L351.4,124.3 L352.4,123.5 L353.4,122.6 L354.4,121.9 L355.4,121.9 L356.4,122.1 L357.4,121.8 L358.4,121.6 L359.4,121.7 L360.4,121.6 L361.4,121.7 L362.4,121.7 L363.4,121.7 L364.4,122.0 L365.4,122.1 L366.4,122.0 L367.4,122.5 L368.4,123.5 L369.4,123.9 L370.4,124.0 L371.4,124.4 L372.4,124.8 L373.4,125.5 L374.4,126.6 L375.4,128.1 L376.4,129.2 L377.4,129.8 L378.4,130.5 L379.4,131.8 L380.4,133.7 L381.4,135.9 L382.4,138.0 L383.4,139.8 L384.4,141.3 L385.4,142.8 L386.4,144.8 L387.4,146.7 L388.4,148.1 L389.4,150.2 L390.4,153.0 L391.4,155.4 L392.4,157.5 L393.4,159.9 L394.4,162.5 L395.4,165.1 L396.4,167.6 L397.4,170.1 L398.4,172.6 L399.4,175.2 L400.4,177.7 L401.4,180.2 L402.4,182.7 L403.4,185.2 L404.4,187.6 L405.4,189.9 L406.4,192.0 L407.4,193.9 L408.4,195.8 L409.4,197.5 L410.4,199.2 L411.4,200.7 L412.4,202.0 L413.4,203.3 L414.4,204.6 L415.4,205.7 L416.4,206.7 L417.4,207.7 L418.4,208.6 L419.4,209.4 L420.4,210.1 L421.4,210.9 L422.4,211.6 L423.4,212.3 L424.4,213.1 L425.4,213.8 L426.4,214.5 L427.4,215.2 L428.4,215.9 L429.4,216.7 L430.4,217.5 L431.4,218.3 L432.4,219.1 L433.4,220.0 L434.4,221.0 L435.4,222.0 L436.4,223.1 L437.4,224.3 L438.4,225.5 L439.4,226.8 L440.4,228.1 L441.4,229.4 L442.4,230.6 L443.4,231.9 L444.4,233.2 L445.4,234.5 L446.4,235.8 L447.4,237.0 L448.4,238.3 L449.4,239.5 L450.4,240.7 L451.4,241.9 L452.4,243.0 L453.4,244.1 L454.4,245.2 L455.4,246.3 L456.4,247.4 L457.4,248.5 L458.4,249.5 L459.4,250.5 L460.4,251.5 L461.4,252.5 L462.4,253.4 L463.4,254.3 L464.4,255.2 L465.4,256.0 L466.4,256.8 L467.4,257.6 L468.4,258.3 L469.4,259.0 L470.4,259.6 L471.4,260.3 L472.4,260.9 L473.4,261.5 L474.4,262.1 L475.4,262.6 L476.4,263.1 L477.4,263.7 L478.4,264.1 L479.4,264.6 L480.4,265.0 L481.4,265.5 L482.4,265.9 L483.4,266.3 L484.4,266.7 L485.4,267.0 L486.4,267.4 L487.4,267.7 L488.4,268.1 L489.4,268.3 L490.4,268.6 L491.4,268.9 L492.4,269.1 L493.4,269.3 L494.4,269.6 L495.4,269.8 L496.4,270.0 L497.4,270.2 L498.4,270.4 L499.4,270.5 L500.4,270.7 L501.4,270.8 L502.4,270.9 L503.4,271.0 L504.4,271.1 L505.4,271.2 L506.4,271.3 L507.4,271.4 L508.4,271.4 L509.4,271.5 L510.4,271.6 L511.4,271.6 L512.4,271.7 L513.4,271.7 L514.4,271.8 L515.4,271.8 L516.4,271.8 L516.5,271.8" stroke="#A9D18E" stroke-width="2.2"/>
<path d="M72.4,154.3 L73.4,154.4 L74.4,154.5 L75.4,154.6 L76.4,154.7 L77.4,154.9 L78.4,155.0 L79.4,155.2 L80.4,155.4 L81.4,155.6 L82.4,155.8 L83.4,156.0 L84.4,156.4 L85.4,156.9 L86.4,157.5 L87.4,158.1 L88.4,158.8 L89.4,159.5 L90.4,160.1 L91.4,160.8 L92.4,161.5 L93.4,162.2 L94.4,163.1 L95.4,164.0 L96.4,164.9 L97.4,165.7 L98.4,166.5 L99.4,167.3 L100.4,168.0 L101.4,168.7 L102.4,169.4 L103.4,170.1 L104.4,170.8 L105.4,171.6 L106.4,172.3 L107.4,173.0 L108.4,173.8 L109.4,174.5 L110.4,175.2 L111.4,175.9 L112.4,176.6 L113.4,177.4 L114.4,178.2 L115.4,179.1 L116.4,180.2 L117.4,181.5 L118.4,182.8 L119.4,184.1 L120.4,185.1 L121.4,186.1 L122.4,187.0 L123.4,187.9 L124.4,188.7 L125.4,189.4 L126.4,190.2 L127.4,190.9 L128.4,191.6 L129.4,192.3 L130.4,192.9 L131.4,193.6 L132.4,194.4 L133.4,195.2 L134.4,195.9 L135.4,196.5 L136.4,197.0 L137.4,197.4 L138.4,197.5 L139.4,197.5 L140.4,197.4 L141.4,197.2 L142.4,197.0 L143.4,196.8 L144.4,196.5 L145.4,196.2 L146.4,195.8 L147.4,195.3 L148.4,194.6 L149.4,193.9 L150.4,193.2 L151.4,192.4 L152.4,191.4 L153.4,190.4 L154.4,189.2 L155.4,188.1 L156.4,186.9 L157.4,185.6 L158.4,184.4 L159.4,183.2 L160.4,182.0 L161.4,180.9 L162.4,179.7 L163.4,178.5 L164.4,177.3 L165.4,176.1 L166.4,174.8 L167.4,173.5 L168.4,172.2 L169.4,170.9 L170.4,169.5 L171.4,168.0 L172.4,166.5 L173.4,165.0 L174.4,163.4 L175.4,161.8 L176.4,160.1 L177.4,158.5 L178.4,156.8 L179.4,155.2 L180.4,153.6 L181.4,151.9 L182.4,150.2 L183.4,148.5 L184.4,146.8 L185.4,145.1 L186.4,143.4 L187.4,141.8 L188.4,140.3 L189.4,138.8 L190.4,137.3 L191.4,135.9 L192.4,134.5 L193.4,133.2 L194.4,131.9 L195.4,130.6 L196.4,129.3 L197.4,128.1 L198.4,126.9 L199.4,125.6 L200.4,124.3 L201.4,123.1 L202.4,121.9 L203.4,120.7 L204.4,119.6 L205.4,118.6 L206.4,117.7 L207.4,117.0 L208.4,116.3 L209.4,115.7 L210.4,115.1 L211.4,114.5 L212.4,114.1 L213.4,113.7 L214.4,113.4 L215.4,113.2 L216.4,113.0 L217.4,112.8 L218.4,112.7 L219.4,112.7 L220.4,112.8 L221.4,112.9 L222.4,113.1 L223.4,113.3 L224.4,113.6 L225.4,113.9 L226.4,114.3 L227.4,114.9 L228.4,115.5 L229.4,116.2 L230.4,116.9 L231.4,117.8 L232.4,118.8 L233.4,119.9 L234.4,121.1 L235.4,122.4 L236.4,124.0 L237.4,125.7 L238.4,127.5 L239.4,129.3 L240.4,131.1 L241.4,132.9 L242.4,134.8 L243.4,136.8 L244.4,138.9 L245.4,141.2 L246.4,143.6 L247.4,146.0 L248.4,148.3 L249.4,150.6 L250.4,152.9 L251.4,155.1 L252.4,157.3 L253.4,159.5 L254.4,161.6 L255.4,163.7 L256.4,165.7 L257.4,167.7 L258.4,169.6 L259.4,171.5 L260.4,173.3 L261.4,175.1 L262.4,176.8 L263.4,178.4 L264.4,179.9 L265.4,181.3 L266.4,182.7 L267.4,184.0 L268.4,185.2 L269.4,186.3 L270.4,187.3 L271.4,188.2 L272.4,189.1 L273.4,189.9 L274.4,190.7 L275.4,191.4 L276.4,192.1 L277.4,192.8 L278.4,193.4 L279.4,193.9 L280.4,194.6 L281.4,195.1 L282.4,195.7 L283.4,196.0 L284.4,196.3 L285.4,196.4 L286.4,196.6 L287.4,196.6 L288.4,196.7 L289.4,196.6 L290.4,196.5 L291.4,196.2 L292.4,195.8 L293.4,195.2 L294.4,194.6 L295.4,194.0 L296.4,193.3 L297.4,192.5 L298.4,191.6 L299.4,190.6 L300.4,189.5 L301.4,188.3 L302.4,187.2 L303.4,186.1 L304.4,185.0 L305.4,183.9 L306.4,182.8 L307.4,181.7 L308.4,180.6 L309.4,179.5 L310.4,178.3 L311.4,177.1 L312.4,175.9 L313.4,174.6 L314.4,173.3 L315.4,172.0 L316.4,170.6 L317.4,169.2 L318.4,167.8 L319.4,166.4 L320.4,165.0 L321.4,163.6 L322.4,162.1 L323.4,160.8 L324.4,159.4 L325.4,157.9 L326.4,156.5 L327.4,155.2 L328.4,153.7 L329.4,152.0 L330.4,150.8 L331.4,150.0 L332.4,148.2 L333.4,146.2 L334.4,145.0 L335.4,143.8 L336.4,142.2 L337.4,140.3 L338.4,139.1 L339.4,138.3 L340.4,137.3 L341.4,136.0 L342.4,134.3 L343.4,133.1 L344.4,132.2 L345.4,130.8 L346.4,129.9 L347.4,129.3 L348.4,128.4 L349.4,127.8 L350.4,127.1 L351.4,126.5 L352.4,126.0 L353.4,125.0 L354.4,124.2 L355.4,124.2 L356.4,124.0 L357.4,123.7 L358.4,123.5 L359.4,123.2 L360.4,123.2 L361.4,123.4 L362.4,123.4 L363.4,123.5 L364.4,123.4 L365.4,123.3 L366.4,123.4 L367.4,123.9 L368.4,124.6 L369.4,125.1 L370.4,125.7 L371.4,126.3 L372.4,126.8 L373.4,127.4 L374.4,128.4 L375.4,129.7 L376.4,130.9 L377.4,132.1 L378.4,133.4 L379.4,134.4 L380.4,135.7 L381.4,137.8 L382.4,139.9 L383.4,141.4 L384.4,142.7 L385.4,144.5 L386.4,146.5 L387.4,148.6 L388.4,150.8 L389.4,153.0 L390.4,155.0 L391.4,156.8 L392.4,159.1 L393.4,161.6 L394.4,163.9 L395.4,166.4 L396.4,169.0 L397.4,171.4 L398.4,173.9 L399.4,176.4 L400.4,178.9 L401.4,181.3 L402.4,183.8 L403.4,186.3 L404.4,188.7 L405.4,191.0 L406.4,193.0 L407.4,194.9 L408.4,196.7 L409.4,198.4 L410.4,200.0 L411.4,201.5 L412.4,202.9 L413.4,204.1 L414.4,205.3 L415.4,206.4 L416.4,207.4 L417.4,208.4 L418.4,209.2 L419.4,210.0 L420.4,210.7 L421.4,211.4 L422.4,212.2 L423.4,212.9 L424.4,213.6 L425.4,214.3 L426.4,214.9 L427.4,215.6 L428.4,216.3 L429.4,217.1 L430.4,217.9 L431.4,218.7 L432.4,219.5 L433.4,220.4 L434.4,221.4 L435.4,222.4 L436.4,223.5 L437.4,224.6 L438.4,225.9 L439.4,227.2 L440.4,228.5 L441.4,229.7 L442.4,231.0 L443.4,232.3 L444.4,233.5 L445.4,234.8 L446.4,236.1 L447.4,237.3 L448.4,238.5 L449.4,239.7 L450.4,240.9 L451.4,242.1 L452.4,243.2 L453.4,244.4 L454.4,245.5 L455.4,246.5 L456.4,247.6 L457.4,248.7 L458.4,249.7 L459.4,250.7 L460.4,251.7 L461.4,252.6 L462.4,253.5 L463.4,254.4 L464.4,255.3 L465.4,256.1 L466.4,256.9 L467.4,257.7 L468.4,258.4 L469.4,259.0 L470.4,259.7 L471.4,260.3 L472.4,260.9 L473.4,261.5 L474.4,262.1 L475.4,262.7 L476.4,263.2 L477.4,263.7 L478.4,264.2 L479.4,264.6 L480.4,265.1 L481.4,265.5 L482.4,265.9 L483.4,266.3 L484.4,266.7 L485.4,267.1 L486.4,267.4 L487.4,267.7 L488.4,268.1 L489.4,268.4 L490.4,268.6 L491.4,268.9 L492.4,269.1 L493.4,269.4 L494.4,269.6 L495.4,269.8 L496.4,270.0 L497.4,270.2 L498.4,270.4 L499.4,270.5 L500.4,270.7 L501.4,270.8 L502.4,270.9 L503.4,271.0 L504.4,271.1 L505.4,271.2 L506.4,271.3 L507.4,271.4 L508.4,271.4 L509.4,271.5 L510.4,271.6 L511.4,271.6 L512.4,271.7 L513.4,271.7 L514.4,271.8 L515.4,271.8 L516.4,271.8 L516.5,271.8" stroke="#1F4E79" stroke-width="2.2"/>
<path d="M72.4,155.3 L73.4,155.4 L74.4,155.5 L75.4,155.6 L76.4,155.7 L77.4,155.9 L78.4,156.0 L79.4,156.2 L80.4,156.4 L81.4,156.6 L82.4,156.8 L83.4,157.0 L84.4,157.4 L85.4,157.8 L86.4,158.4 L87.4,159.0 L88.4,159.6 L89.4,160.3 L90.4,160.9 L91.4,161.6 L92.4,162.2 L93.4,162.9 L94.4,163.7 L95.4,164.6 L96.4,165.5 L97.4,166.3 L98.4,167.1 L99.4,167.8 L100.4,168.4 L101.4,169.1 L102.4,169.8 L103.4,170.4 L104.4,171.1 L105.4,171.8 L106.4,172.5 L107.4,173.2 L108.4,173.9 L109.4,174.6 L110.4,175.3 L111.4,176.0 L112.4,176.7 L113.4,177.4 L114.4,178.2 L115.4,179.1 L116.4,180.1 L117.4,181.4 L118.4,182.6 L119.4,183.8 L120.4,184.8 L121.4,185.7 L122.4,186.5 L123.4,187.3 L124.4,188.1 L125.4,188.8 L126.4,189.5 L127.4,190.2 L128.4,190.9 L129.4,191.5 L130.4,192.2 L131.4,192.9 L132.4,193.6 L133.4,194.4 L134.4,195.1 L135.4,195.7 L136.4,196.3 L137.4,196.6 L138.4,196.8 L139.4,196.7 L140.4,196.6 L141.4,196.5 L142.4,196.2 L143.4,196.0 L144.4,195.7 L145.4,195.4 L146.4,195.0 L147.4,194.4 L148.4,193.8 L149.4,193.0 L150.4,192.3 L151.4,191.4 L152.4,190.5 L153.4,189.4 L154.4,188.3 L155.4,187.1 L156.4,185.8 L157.4,184.6 L158.4,183.3 L159.4,182.1 L160.4,180.9 L161.4,179.7 L162.4,178.5 L163.4,177.3 L164.4,176.1 L165.4,174.8 L166.4,173.6 L167.4,172.2 L168.4,170.9 L169.4,169.5 L170.4,168.1 L171.4,166.6 L172.4,165.1 L173.4,163.5 L174.4,161.9 L175.4,160.3 L176.4,158.6 L177.4,156.9 L178.4,155.2 L179.4,153.6 L180.4,151.9 L181.4,150.2 L182.4,148.5 L183.4,146.7 L184.4,145.0 L185.4,143.3 L186.4,141.6 L187.4,139.9 L188.4,138.3 L189.4,136.8 L190.4,135.4 L191.4,133.9 L192.4,132.5 L193.4,131.2 L194.4,129.8 L195.4,128.5 L196.4,127.2 L197.4,125.9 L198.4,124.7 L199.4,123.4 L200.4,122.1 L201.4,120.8 L202.4,119.6 L203.4,118.4 L204.4,117.3 L205.4,116.3 L206.4,115.4 L207.4,114.6 L208.4,114.0 L209.4,113.3 L210.4,112.7 L211.4,112.2 L212.4,111.7 L213.4,111.3 L214.4,111.0 L215.4,110.8 L216.4,110.6 L217.4,110.4 L218.4,110.3 L219.4,110.3 L220.4,110.4 L221.4,110.5 L222.4,110.7 L223.4,111.0 L224.4,111.3 L225.4,111.6 L226.4,112.0 L227.4,112.5 L228.4,113.2 L229.4,113.9 L230.4,114.7 L231.4,115.6 L232.4,116.6 L233.4,117.7 L234.4,118.9 L235.4,120.3 L236.4,121.8 L237.4,123.6 L238.4,125.4 L239.4,127.3 L240.4,129.1 L241.4,131.0 L242.4,133.0 L243.4,135.0 L244.4,137.1 L245.4,139.4 L246.4,141.9 L247.4,144.3 L248.4,146.7 L249.4,149.1 L250.4,151.4 L251.4,153.7 L252.4,156.0 L253.4,158.2 L254.4,160.3 L255.4,162.5 L256.4,164.6 L257.4,166.6 L258.4,168.6 L259.4,170.5 L260.4,172.4 L261.4,174.2 L262.4,176.0 L263.4,177.6 L264.4,179.2 L265.4,180.7 L266.4,182.1 L267.4,183.4 L268.4,184.7 L269.4,185.9 L270.4,186.9 L271.4,187.9 L272.4,188.8 L273.4,189.7 L274.4,190.5 L275.4,191.3 L276.4,192.0 L277.4,192.7 L278.4,193.3 L279.4,194.0 L280.4,194.6 L281.4,195.2 L282.4,195.8 L283.4,196.2 L284.4,196.4 L285.4,196.6 L286.4,196.7 L287.4,196.9 L288.4,196.9 L289.4,196.9 L290.4,196.9 L291.4,196.6 L292.4,196.3 L293.4,195.8 L294.4,195.2 L295.4,194.6 L296.4,194.0 L297.4,193.3 L298.4,192.4 L299.4,191.4 L300.4,190.3 L301.4,189.2 L302.4,188.1 L303.4,187.0 L304.4,186.0 L305.4,184.9 L306.4,183.9 L307.4,182.8 L308.4,181.7 L309.4,180.6 L310.4,179.5 L311.4,178.3 L312.4,177.1 L313.4,175.9 L314.4,174.6 L315.4,173.3 L316.4,171.9 L317.4,170.5 L318.4,169.1 L319.4,167.8 L320.4,166.4 L321.4,165.0 L322.4,163.7 L323.4,162.4 L324.4,161.0 L325.4,159.5 L326.4,158.2 L327.4,157.0 L328.4,155.7 L329.4,154.1 L330.4,152.5 L331.4,151.0 L332.4,149.7 L333.4,148.7 L334.4,147.6 L335.4,146.0 L336.4,143.9 L337.4,142.0 L338.4,140.5 L339.4,139.2 L340.4,138.3 L341.4,137.8 L342.4,136.7 L343.4,134.8 L344.4,133.3 L345.4,132.8 L346.4,132.1 L347.4,130.5 L348.4,129.5 L349.4,129.2 L350.4,128.6 L351.4,127.6 L352.4,126.6 L353.4,126.5 L354.4,126.4 L355.4,125.8 L356.4,125.5 L357.4,125.3 L358.4,125.3 L359.4,125.3 L360.4,125.1 L361.4,125.1 L362.4,125.1 L363.4,125.1 L364.4,125.2 L365.4,125.2 L366.4,125.5 L367.4,126.4 L368.4,126.8 L369.4,126.9 L370.4,127.1 L371.4,127.4 L372.4,128.3 L373.4,129.4 L374.4,130.1 L375.4,130.7 L376.4,131.9 L377.4,133.2 L378.4,134.7 L379.4,136.5 L380.4,137.5 L381.4,138.5 L382.4,140.6 L383.4,142.6 L384.4,144.2 L385.4,146.4 L386.4,148.4 L387.4,150.1 L388.4,152.2 L389.4,154.4 L390.4,156.3 L391.4,158.4 L392.4,160.8 L393.4,163.2 L394.4,165.5 L395.4,167.9 L396.4,170.3 L397.4,172.8 L398.4,175.3 L399.4,177.7 L400.4,180.2 L401.4,182.6 L402.4,185.0 L403.4,187.5 L404.4,189.9 L405.4,192.1 L406.4,194.1 L407.4,196.0 L408.4,197.7 L409.4,199.4 L410.4,201.0 L411.4,202.4 L412.4,203.7 L413.4,204.9 L414.4,206.1 L415.4,207.2 L416.4,208.2 L417.4,209.1 L418.4,209.9 L419.4,210.6 L420.4,211.4 L421.4,212.0 L422.4,212.7 L423.4,213.4 L424.4,214.1 L425.4,214.8 L426.4,215.4 L427.4,216.1 L428.4,216.8 L429.4,217.6 L430.4,218.3 L431.4,219.1 L432.4,220.0 L433.4,220.8 L434.4,221.8 L435.4,222.8 L436.4,223.9 L437.4,225.0 L438.4,226.3 L439.4,227.6 L440.4,228.8 L441.4,230.1 L442.4,231.3 L443.4,232.6 L444.4,233.9 L445.4,235.2 L446.4,236.4 L447.4,237.6 L448.4,238.8 L449.4,240.0 L450.4,241.2 L451.4,242.4 L452.4,243.5 L453.4,244.6 L454.4,245.7 L455.4,246.8 L456.4,247.8 L457.4,248.9 L458.4,249.9 L459.4,250.9 L460.4,251.8 L461.4,252.8 L462.4,253.7 L463.4,254.6 L464.4,255.4 L465.4,256.3 L466.4,257.0 L467.4,257.8 L468.4,258.5 L469.4,259.1 L470.4,259.8 L471.4,260.4 L472.4,261.0 L473.4,261.6 L474.4,262.2 L475.4,262.7 L476.4,263.2 L477.4,263.7 L478.4,264.2 L479.4,264.6 L480.4,265.1 L481.4,265.5 L482.4,265.9 L483.4,266.3 L484.4,266.7 L485.4,267.1 L486.4,267.4 L487.4,267.8 L488.4,268.1 L489.4,268.4 L490.4,268.6 L491.4,268.9 L492.4,269.1 L493.4,269.4 L494.4,269.6 L495.4,269.8 L496.4,270.0 L497.4,270.2 L498.4,270.4 L499.4,270.5 L500.4,270.7 L501.4,270.8 L502.4,270.9 L503.4,271.0 L504.4,271.1 L505.4,271.2 L506.4,271.3 L507.4,271.4 L508.4,271.5 L509.4,271.5 L510.4,271.6 L511.4,271.6 L512.4,271.7 L513.4,271.7 L514.4,271.8 L515.4,271.8 L516.4,271.8 L516.5,271.8" stroke="#843C0C" stroke-width="2.2"/>
<path d="M72.4,156.2 L73.4,156.3 L74.4,156.4 L75.4,156.6 L76.4,156.7 L77.4,156.9 L78.4,157.0 L79.4,157.2 L80.4,157.4 L81.4,157.6 L82.4,157.8 L83.4,158.0 L84.4,158.3 L85.4,158.8 L86.4,159.3 L87.4,159.9 L88.4,160.5 L89.4,161.1 L90.4,161.7 L91.4,162.3 L92.4,163.0 L93.4,163.6 L94.4,164.4 L95.4,165.2 L96.4,166.1 L97.4,166.9 L98.4,167.6 L99.4,168.2 L100.4,168.9 L101.4,169.5 L102.4,170.1 L103.4,170.8 L104.4,171.4 L105.4,172.1 L106.4,172.7 L107.4,173.4 L108.4,174.1 L109.4,174.7 L110.4,175.4 L111.4,176.1 L112.4,176.8 L113.4,177.5 L114.4,178.3 L115.4,179.1 L116.4,180.1 L117.4,181.2 L118.4,182.4 L119.4,183.4 L120.4,184.3 L121.4,185.2 L122.4,185.9 L123.4,186.7 L124.4,187.4 L125.4,188.1 L126.4,188.7 L127.4,189.4 L128.4,190.0 L129.4,190.6 L130.4,191.3 L131.4,192.0 L132.4,192.7 L133.4,193.5 L134.4,194.2 L135.4,194.8 L136.4,195.3 L137.4,195.7 L138.4,195.8 L139.4,195.8 L140.4,195.7 L141.4,195.5 L142.4,195.2 L143.4,195.0 L144.4,194.7 L145.4,194.4 L146.4,193.9 L147.4,193.3 L148.4,192.7 L149.4,192.0 L150.4,191.2 L151.4,190.3 L152.4,189.3 L153.4,188.2 L154.4,187.1 L155.4,185.8 L156.4,184.6 L157.4,183.3 L158.4,182.0 L159.4,180.7 L160.4,179.5 L161.4,178.3 L162.4,177.1 L163.4,175.8 L164.4,174.6 L165.4,173.3 L166.4,172.0 L167.4,170.6 L168.4,169.3 L169.4,167.9 L170.4,166.4 L171.4,164.9 L172.4,163.3 L173.4,161.7 L174.4,160.0 L175.4,158.4 L176.4,156.7 L177.4,154.9 L178.4,153.2 L179.4,151.5 L180.4,149.8 L181.4,148.1 L182.4,146.3 L183.4,144.5 L184.4,142.8 L185.4,141.0 L186.4,139.3 L187.4,137.6 L188.4,135.9 L189.4,134.4 L190.4,132.9 L191.4,131.4 L192.4,130.0 L193.4,128.6 L194.4,127.2 L195.4,125.9 L196.4,124.6 L197.4,123.3 L198.4,122.0 L199.4,120.7 L200.4,119.4 L201.4,118.0 L202.4,116.8 L203.4,115.5 L204.4,114.4 L205.4,113.4 L206.4,112.5 L207.4,111.7 L208.4,111.0 L209.4,110.4 L210.4,109.7 L211.4,109.2 L212.4,108.7 L213.4,108.3 L214.4,108.0 L215.4,107.8 L216.4,107.6 L217.4,107.4 L218.4,107.3 L219.4,107.3 L220.4,107.4 L221.4,107.5 L222.4,107.8 L223.4,108.0 L224.4,108.3 L225.4,108.6 L226.4,109.1 L227.4,109.6 L228.4,110.3 L229.4,111.0 L230.4,111.8 L231.4,112.7 L232.4,113.8 L233.4,114.9 L234.4,116.2 L235.4,117.6 L236.4,119.2 L237.4,121.0 L238.4,122.9 L239.4,124.7 L240.4,126.6 L241.4,128.6 L242.4,130.6 L243.4,132.7 L244.4,134.9 L245.4,137.3 L246.4,139.8 L247.4,142.3 L248.4,144.8 L249.4,147.2 L250.4,149.6 L251.4,152.0 L252.4,154.3 L253.4,156.5 L254.4,158.8 L255.4,161.0 L256.4,163.1 L257.4,165.3 L258.4,167.3 L259.4,169.3 L260.4,171.2 L261.4,173.1 L262.4,175.0 L263.4,176.7 L264.4,178.3 L265.4,179.9 L266.4,181.4 L267.4,182.8 L268.4,184.1 L269.4,185.3 L270.4,186.4 L271.4,187.5 L272.4,188.4 L273.4,189.4 L274.4,190.2 L275.4,191.1 L276.4,191.8 L277.4,192.6 L278.4,193.3 L279.4,194.0 L280.4,194.7 L281.4,195.3 L282.4,195.9 L283.4,196.3 L284.4,196.6 L285.4,196.8 L286.4,197.0 L287.4,197.1 L288.4,197.2 L289.4,197.3 L290.4,197.3 L291.4,197.1 L292.4,196.8 L293.4,196.4 L294.4,195.9 L295.4,195.3 L296.4,194.8 L297.4,194.1 L298.4,193.3 L299.4,192.3 L300.4,191.3 L301.4,190.2 L302.4,189.2 L303.4,188.1 L304.4,187.1 L305.4,186.1 L306.4,185.1 L307.4,184.1 L308.4,183.0 L309.4,181.9 L310.4,180.8 L311.4,179.7 L312.4,178.5 L313.4,177.3 L314.4,176.0 L315.4,174.7 L316.4,173.4 L317.4,172.0 L318.4,170.7 L319.4,169.3 L320.4,168.0 L321.4,166.7 L322.4,165.3 L323.4,163.8 L324.4,162.4 L325.4,161.1 L326.4,159.7 L327.4,158.3 L328.4,156.8 L329.4,155.2 L330.4,153.8 L331.4,152.7 L332.4,151.5 L333.4,150.1 L334.4,148.7 L335.4,147.4 L336.4,146.3 L337.4,145.1 L338.4,143.5 L339.4,141.9 L340.4,140.6 L341.4,139.3 L342.4,138.0 L343.4,136.5 L344.4,135.4 L345.4,134.5 L346.4,133.2 L347.4,132.3 L348.4,132.2 L349.4,131.6 L350.4,130.6 L351.4,129.6 L352.4,129.2 L353.4,128.7 L354.4,128.0 L355.4,127.4 L356.4,127.2 L357.4,127.0 L358.4,127.1 L359.4,127.1 L360.4,127.2 L361.4,127.3 L362.4,126.9 L363.4,126.9 L364.4,127.5 L365.4,127.6 L366.4,127.5 L367.4,127.4 L368.4,127.6 L369.4,127.9 L370.4,128.4 L371.4,129.7 L372.4,130.4 L373.4,130.6 L374.4,131.6 L375.4,132.9 L376.4,134.1 L377.4,135.5 L378.4,136.8 L379.4,138.3 L380.4,140.1 L381.4,141.6 L382.4,142.8 L383.4,144.5 L384.4,146.7 L385.4,148.2 L386.4,149.6 L387.4,151.7 L388.4,154.0 L389.4,156.3 L390.4,158.5 L391.4,160.6 L392.4,162.8 L393.4,165.0 L394.4,167.3 L395.4,169.6 L396.4,171.8 L397.4,174.2 L398.4,176.7 L399.4,179.2 L400.4,181.6 L401.4,183.9 L402.4,186.4 L403.4,188.8 L404.4,191.1 L405.4,193.3 L406.4,195.3 L407.4,197.1 L408.4,198.8 L409.4,200.5 L410.4,202.0 L411.4,203.4 L412.4,204.6 L413.4,205.8 L414.4,207.0 L415.4,208.0 L416.4,209.0 L417.4,209.8 L418.4,210.6 L419.4,211.4 L420.4,212.1 L421.4,212.7 L422.4,213.4 L423.4,214.1 L424.4,214.7 L425.4,215.4 L426.4,216.0 L427.4,216.7 L428.4,217.4 L429.4,218.1 L430.4,218.9 L431.4,219.6 L432.4,220.4 L433.4,221.3 L434.4,222.2 L435.4,223.2 L436.4,224.3 L437.4,225.5 L438.4,226.7 L439.4,228.0 L440.4,229.3 L441.4,230.5 L442.4,231.7 L443.4,233.0 L444.4,234.3 L445.4,235.5 L446.4,236.8 L447.4,238.0 L448.4,239.2 L449.4,240.3 L450.4,241.5 L451.4,242.7 L452.4,243.8 L453.4,244.9 L454.4,245.9 L455.4,247.0 L456.4,248.1 L457.4,249.1 L458.4,250.1 L459.4,251.1 L460.4,252.0 L461.4,253.0 L462.4,253.9 L463.4,254.7 L464.4,255.6 L465.4,256.4 L466.4,257.2 L467.4,257.9 L468.4,258.6 L469.4,259.2 L470.4,259.9 L471.4,260.5 L472.4,261.1 L473.4,261.7 L474.4,262.2 L475.4,262.8 L476.4,263.3 L477.4,263.8 L478.4,264.2 L479.4,264.7 L480.4,265.1 L481.4,265.5 L482.4,265.9 L483.4,266.3 L484.4,266.7 L485.4,267.1 L486.4,267.4 L487.4,267.8 L488.4,268.1 L489.4,268.4 L490.4,268.7 L491.4,268.9 L492.4,269.1 L493.4,269.4 L494.4,269.6 L495.4,269.8 L496.4,270.0 L497.4,270.2 L498.4,270.4 L499.4,270.5 L500.4,270.7 L501.4,270.8 L502.4,270.9 L503.4,271.0 L504.4,271.1 L505.4,271.2 L506.4,271.3 L507.4,271.4 L508.4,271.5 L509.4,271.5 L510.4,271.6 L511.4,271.7 L512.4,271.7 L513.4,271.7 L514.4,271.8 L515.4,271.8 L516.4,271.8 L516.5,271.8" stroke="#525252" stroke-width="2.5"/>
</g>
<g font-size="13.7">
<text x="58.6" y="278.8" text-anchor="end">0</text>
<text x="58.6" y="249.0" text-anchor="end">0.2</text>
<text x="58.6" y="219.2" text-anchor="end">0.4</text>
<text x="58.6" y="189.4" text-anchor="end">0.6</text>
<text x="58.6" y="159.6" text-anchor="end">0.8</text>
<text x="58.6" y="129.9" text-anchor="end">1</text>
<text x="58.6" y="100.1" text-anchor="end">1.2</text>
<text x="58.6" y="70.3" text-anchor="end">1.4</text>
<text x="58.6" y="40.5" text-anchor="end">1.6</text>
<text x="72.6" y="297.8" text-anchor="middle">300</text>
<text x="161.5" y="297.8" text-anchor="middle">400</text>
<text x="250.4" y="297.8" text-anchor="middle">500</text>
<text x="339.3" y="297.8" text-anchor="middle">600</text>
<text x="428.2" y="297.8" text-anchor="middle">700</text>
<text x="517.1" y="297.8" text-anchor="middle">800</text>
</g>
<text x="294.2" y="321.7" font-size="14" text-anchor="middle">Wavelength (nm)</text>
<text transform="translate(30,147.5) rotate(-90)" font-size="13.4" text-anchor="middle">Absorbance</text>
<path d="M213.5,269 L213.5,236 L209.9,236 L217.3,228.2 L224.7,236 L221,236 L221,269 Z" fill="#000"/>
<path d="M357.7,3.7 L357.7,36.7 L353.5,36.7 L361.1,44.6 L368.7,36.7 L364.7,36.7 L364.7,3.7 Z" fill="#000"/>
</svg>
</body></html>
